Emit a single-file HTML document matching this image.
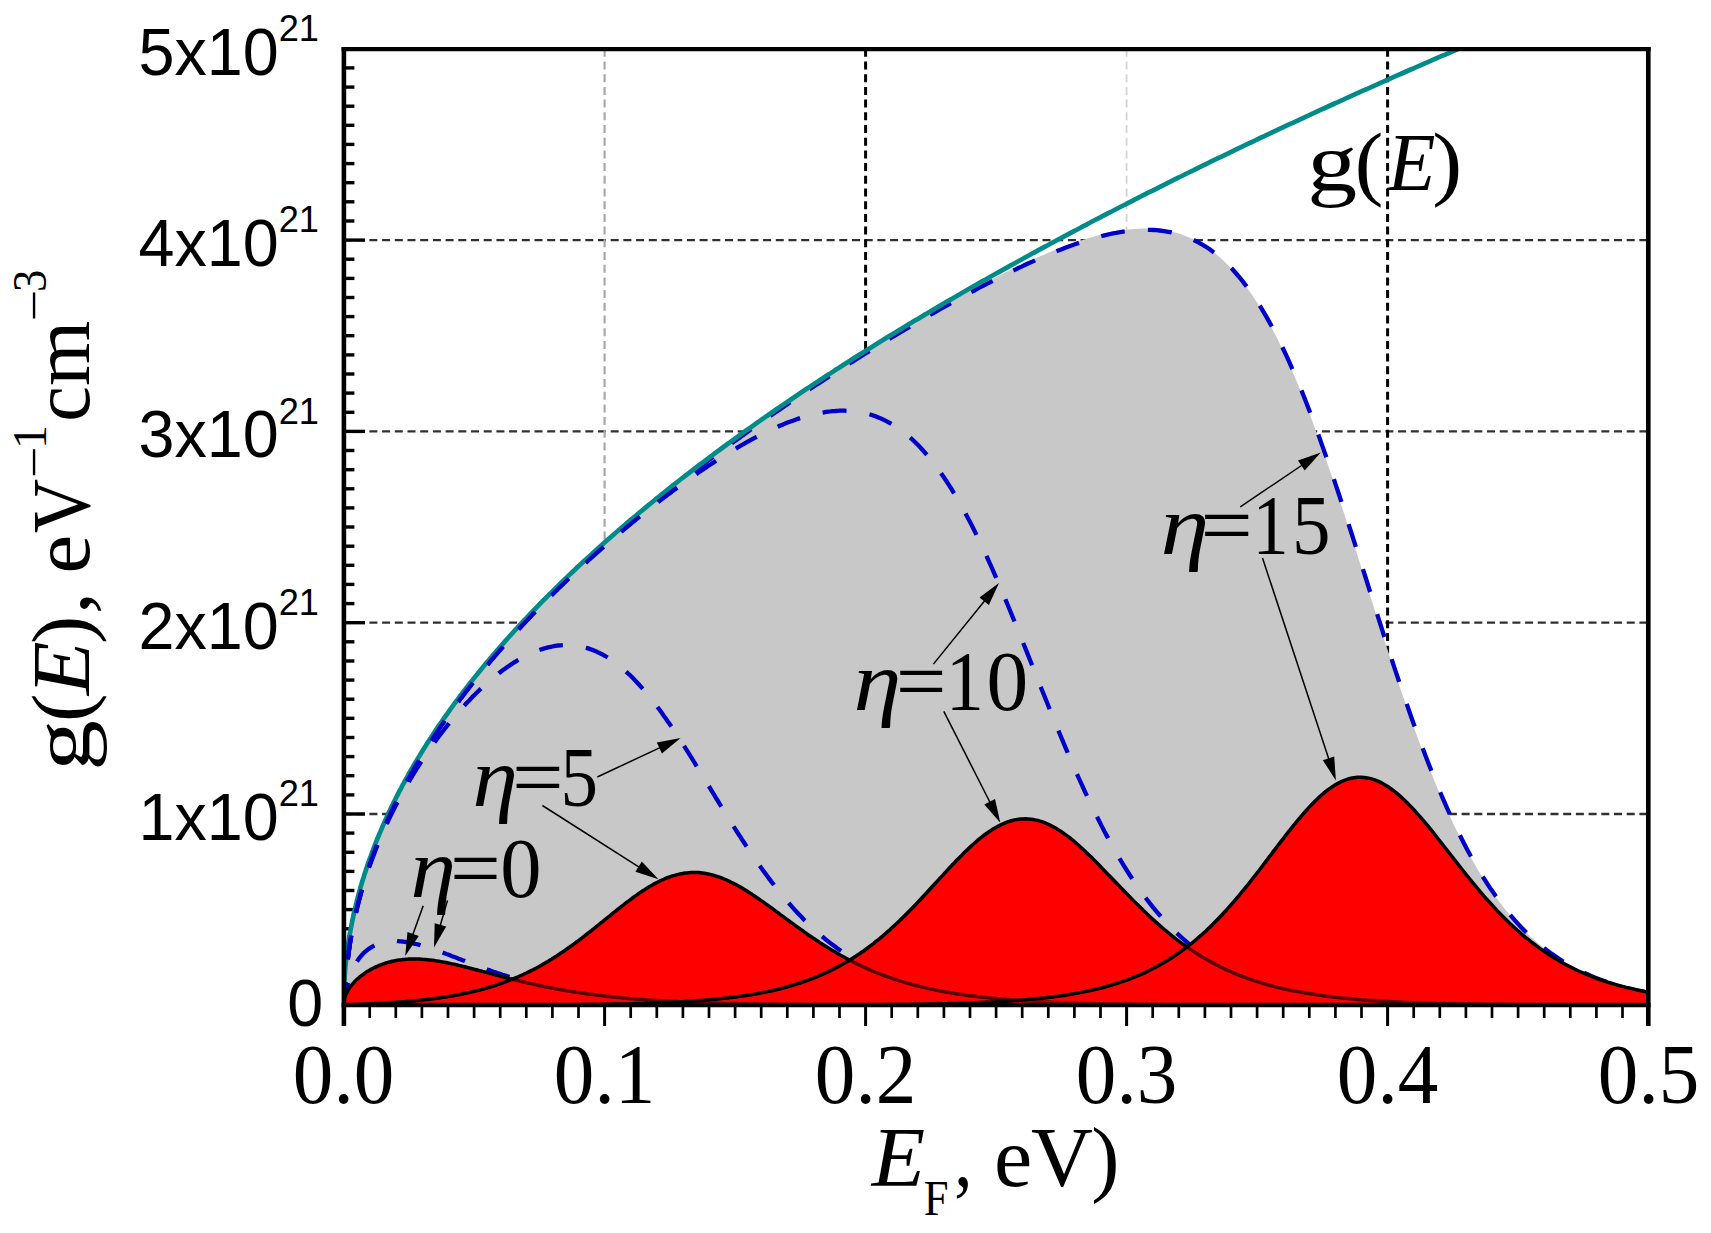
<!DOCTYPE html>
<html lang="en"><head><meta charset="utf-8"><title>g(E) versus E_F</title>
<style>html,body{margin:0;padding:0;background:#fff}svg{display:block}.sans{font-family:"Liberation Sans",sans-serif}.serif{font-family:"Liberation Serif",serif}.it{font-style:italic}</style></head><body>
<svg width="1711" height="1233" viewBox="0 0 1711 1233">
<rect width="1711" height="1233" fill="#fff"/>
<defs><clipPath id="pa"><rect x="344.0" y="48.8" width="1304.5" height="956.5"/></clipPath></defs>
<g fill="none" stroke-dasharray="8 4.7">
<line x1="344.0" y1="814.0" x2="1648.5" y2="814.0" stroke="#303030" stroke-width="2.3"/>
<line x1="344.0" y1="622.7" x2="1648.5" y2="622.7" stroke="#303030" stroke-width="2.3"/>
<line x1="344.0" y1="431.4" x2="1648.5" y2="431.4" stroke="#303030" stroke-width="2.3"/>
<line x1="344.0" y1="240.1" x2="1648.5" y2="240.1" stroke="#303030" stroke-width="2.3"/>
<line x1="604.6" y1="48.8" x2="604.6" y2="1005.3" stroke="#a8a8a8" stroke-width="2.2"/>
<line x1="865.6" y1="48.8" x2="865.6" y2="1005.3" stroke="#000" stroke-width="3.0"/>
<line x1="1126.6" y1="48.8" x2="1126.6" y2="1005.3" stroke="#d4d4d4" stroke-width="1.8"/>
<line x1="1387.6" y1="48.8" x2="1387.6" y2="1005.3" stroke="#000" stroke-width="3.0"/>
</g>
<g stroke="#000" fill="none">
<line x1="344.0" y1="986.2" x2="354.4" y2="986.2" stroke-width="3.4"/>
<line x1="344.0" y1="967.0" x2="354.4" y2="967.0" stroke-width="3.4"/>
<line x1="344.0" y1="947.9" x2="354.4" y2="947.9" stroke-width="3.4"/>
<line x1="344.0" y1="928.8" x2="354.4" y2="928.8" stroke-width="3.4"/>
<line x1="344.0" y1="909.6" x2="354.4" y2="909.6" stroke-width="3.4"/>
<line x1="344.0" y1="890.5" x2="354.4" y2="890.5" stroke-width="3.4"/>
<line x1="344.0" y1="871.4" x2="354.4" y2="871.4" stroke-width="3.4"/>
<line x1="344.0" y1="852.3" x2="354.4" y2="852.3" stroke-width="3.4"/>
<line x1="344.0" y1="833.1" x2="354.4" y2="833.1" stroke-width="3.4"/>
<line x1="344.0" y1="814.0" x2="365.0" y2="814.0" stroke-width="3.4"/>
<line x1="344.0" y1="794.9" x2="354.4" y2="794.9" stroke-width="3.4"/>
<line x1="344.0" y1="775.7" x2="354.4" y2="775.7" stroke-width="3.4"/>
<line x1="344.0" y1="756.6" x2="354.4" y2="756.6" stroke-width="3.4"/>
<line x1="344.0" y1="737.5" x2="354.4" y2="737.5" stroke-width="3.4"/>
<line x1="344.0" y1="718.3" x2="354.4" y2="718.3" stroke-width="3.4"/>
<line x1="344.0" y1="699.2" x2="354.4" y2="699.2" stroke-width="3.4"/>
<line x1="344.0" y1="680.1" x2="354.4" y2="680.1" stroke-width="3.4"/>
<line x1="344.0" y1="661.0" x2="354.4" y2="661.0" stroke-width="3.4"/>
<line x1="344.0" y1="641.8" x2="354.4" y2="641.8" stroke-width="3.4"/>
<line x1="344.0" y1="622.7" x2="365.0" y2="622.7" stroke-width="3.4"/>
<line x1="344.0" y1="603.6" x2="354.4" y2="603.6" stroke-width="3.4"/>
<line x1="344.0" y1="584.4" x2="354.4" y2="584.4" stroke-width="3.4"/>
<line x1="344.0" y1="565.3" x2="354.4" y2="565.3" stroke-width="3.4"/>
<line x1="344.0" y1="546.2" x2="354.4" y2="546.2" stroke-width="3.4"/>
<line x1="344.0" y1="527.0" x2="354.4" y2="527.0" stroke-width="3.4"/>
<line x1="344.0" y1="507.9" x2="354.4" y2="507.9" stroke-width="3.4"/>
<line x1="344.0" y1="488.8" x2="354.4" y2="488.8" stroke-width="3.4"/>
<line x1="344.0" y1="469.7" x2="354.4" y2="469.7" stroke-width="3.4"/>
<line x1="344.0" y1="450.5" x2="354.4" y2="450.5" stroke-width="3.4"/>
<line x1="344.0" y1="431.4" x2="365.0" y2="431.4" stroke-width="3.4"/>
<line x1="344.0" y1="412.3" x2="354.4" y2="412.3" stroke-width="3.4"/>
<line x1="344.0" y1="393.1" x2="354.4" y2="393.1" stroke-width="3.4"/>
<line x1="344.0" y1="374.0" x2="354.4" y2="374.0" stroke-width="3.4"/>
<line x1="344.0" y1="354.9" x2="354.4" y2="354.9" stroke-width="3.4"/>
<line x1="344.0" y1="335.7" x2="354.4" y2="335.7" stroke-width="3.4"/>
<line x1="344.0" y1="316.6" x2="354.4" y2="316.6" stroke-width="3.4"/>
<line x1="344.0" y1="297.5" x2="354.4" y2="297.5" stroke-width="3.4"/>
<line x1="344.0" y1="278.4" x2="354.4" y2="278.4" stroke-width="3.4"/>
<line x1="344.0" y1="259.2" x2="354.4" y2="259.2" stroke-width="3.4"/>
<line x1="344.0" y1="240.1" x2="365.0" y2="240.1" stroke-width="3.4"/>
<line x1="344.0" y1="221.0" x2="354.4" y2="221.0" stroke-width="3.4"/>
<line x1="344.0" y1="201.8" x2="354.4" y2="201.8" stroke-width="3.4"/>
<line x1="344.0" y1="182.7" x2="354.4" y2="182.7" stroke-width="3.4"/>
<line x1="344.0" y1="163.6" x2="354.4" y2="163.6" stroke-width="3.4"/>
<line x1="344.0" y1="144.4" x2="354.4" y2="144.4" stroke-width="3.4"/>
<line x1="344.0" y1="125.3" x2="354.4" y2="125.3" stroke-width="3.4"/>
<line x1="344.0" y1="106.2" x2="354.4" y2="106.2" stroke-width="3.4"/>
<line x1="344.0" y1="87.1" x2="354.4" y2="87.1" stroke-width="3.4"/>
<line x1="344.0" y1="67.9" x2="354.4" y2="67.9" stroke-width="3.4"/>
</g>
<g clip-path="url(#pa)">
<path d="M343.6 1005.3 L343.6 1003.8 L343.6 1002.3 L343.6 1000.9 L343.6 999.4 L343.7 997.9 L343.7 996.4 L343.7 995.0 L343.8 993.5 L343.8 992.0 L343.9 990.5 L343.9 989.0 L344.0 987.6 L344.1 986.1 L344.1 984.6 L344.2 983.1 L344.3 981.6 L344.4 980.2 L344.5 978.7 L344.6 977.2 L344.7 975.7 L344.8 974.3 L344.9 972.8 L345.0 971.3 L345.1 969.8 L345.3 968.3 L345.4 966.9 L345.5 965.4 L345.7 963.9 L345.8 962.4 L346.0 961.0 L346.2 959.5 L346.3 958.0 L346.5 956.5 L346.7 955.0 L346.9 953.6 L347.1 952.1 L347.2 950.6 L347.4 949.1 L347.7 947.6 L347.9 946.2 L348.1 944.7 L348.3 943.2 L348.5 941.7 L348.8 940.3 L349.0 938.8 L349.2 937.3 L349.5 935.8 L349.7 934.3 L350.0 932.9 L350.3 931.4 L350.5 929.9 L350.8 928.4 L351.1 926.9 L351.4 925.5 L351.7 924.0 L352.0 922.5 L352.3 921.0 L352.6 919.6 L352.9 918.1 L353.2 916.6 L353.5 915.1 L353.8 913.6 L354.2 912.2 L354.5 910.7 L354.9 909.2 L355.2 907.7 L355.6 906.3 L355.9 904.8 L356.3 903.3 L356.7 901.8 L357.0 900.3 L357.4 898.9 L357.8 897.4 L358.2 895.9 L358.6 894.4 L359.0 892.9 L359.4 891.5 L359.8 890.0 L360.2 888.5 L360.6 887.0 L361.1 885.6 L361.5 884.1 L361.9 882.6 L362.4 881.1 L362.8 879.6 L363.3 878.2 L363.8 876.7 L364.2 875.2 L364.7 873.7 L365.2 872.3 L365.7 870.8 L366.1 869.3 L366.6 867.8 L367.1 866.3 L367.6 864.9 L368.1 863.4 L368.7 861.9 L369.2 860.4 L369.7 858.9 L370.2 857.5 L370.8 856.0 L371.3 854.5 L371.9 853.0 L372.4 851.6 L373.0 850.1 L373.5 848.6 L374.1 847.1 L374.7 845.6 L375.2 844.2 L375.8 842.7 L376.4 841.2 L377.0 839.7 L377.6 838.3 L378.2 836.8 L378.8 835.3 L379.4 833.8 L380.1 832.3 L380.7 830.9 L381.3 829.4 L382.0 827.9 L382.6 826.4 L383.2 824.9 L383.9 823.5 L384.6 822.0 L385.2 820.5 L385.9 819.0 L386.6 817.6 L387.2 816.1 L387.9 814.6 L388.6 813.1 L389.3 811.6 L390.0 810.2 L390.7 808.7 L391.4 807.2 L392.1 805.7 L392.9 804.3 L393.6 802.8 L394.3 801.3 L395.1 799.8 L395.8 798.3 L396.5 796.9 L397.3 795.4 L398.1 793.9 L398.8 792.4 L399.6 790.9 L400.4 789.5 L401.2 788.0 L401.9 786.5 L402.7 785.0 L403.5 783.6 L404.3 782.1 L405.1 780.6 L405.9 779.1 L406.8 777.6 L407.6 776.2 L408.4 774.7 L409.2 773.2 L410.1 771.7 L410.9 770.3 L411.8 768.8 L412.6 767.3 L413.5 765.8 L414.4 764.3 L415.2 762.9 L416.1 761.4 L417.0 759.9 L417.9 758.4 L418.8 756.9 L419.7 755.5 L420.6 754.0 L421.5 752.5 L422.4 751.0 L423.3 749.6 L424.2 748.1 L425.2 746.6 L426.1 745.1 L427.0 743.6 L428.0 742.2 L428.9 740.7 L429.9 739.2 L430.9 737.7 L431.8 736.2 L432.8 734.8 L433.8 733.3 L434.8 731.8 L435.7 730.3 L436.7 728.9 L437.7 727.4 L438.7 725.9 L439.7 724.4 L440.8 722.9 L441.8 721.5 L442.8 720.0 L443.8 718.5 L444.9 717.0 L445.9 715.6 L447.0 714.1 L448.0 712.6 L449.1 711.1 L450.1 709.6 L451.2 708.2 L452.3 706.7 L453.4 705.2 L454.4 703.7 L455.5 702.2 L456.6 700.8 L457.7 699.3 L458.8 697.8 L459.9 696.3 L461.1 694.9 L462.2 693.4 L463.3 691.9 L464.4 690.4 L465.6 688.9 L466.7 687.5 L467.9 686.0 L469.0 684.5 L470.2 683.0 L471.3 681.6 L472.5 680.1 L473.7 678.6 L474.9 677.1 L476.0 675.6 L477.2 674.2 L478.4 672.7 L479.6 671.2 L480.8 669.7 L482.0 668.2 L483.3 666.8 L484.5 665.3 L485.7 663.8 L486.9 662.3 L488.2 660.9 L489.4 659.4 L490.7 657.9 L491.9 656.4 L493.2 654.9 L494.5 653.5 L495.7 652.0 L497.0 650.5 L498.3 649.0 L499.6 647.6 L500.9 646.1 L502.2 644.6 L503.5 643.1 L504.8 641.6 L506.1 640.2 L507.4 638.7 L508.7 637.2 L510.1 635.7 L511.4 634.2 L512.7 632.8 L514.1 631.3 L515.4 629.8 L516.8 628.3 L518.1 626.9 L519.5 625.4 L520.9 623.9 L522.3 622.4 L523.6 620.9 L525.0 619.5 L526.4 618.0 L527.8 616.5 L529.2 615.0 L530.6 613.6 L532.0 612.1 L533.5 610.6 L534.9 609.1 L536.3 607.6 L537.8 606.2 L539.2 604.7 L540.6 603.2 L542.1 601.7 L543.5 600.2 L545.0 598.8 L546.5 597.3 L547.9 595.8 L549.4 594.3 L550.9 592.9 L552.4 591.4 L553.9 589.9 L555.4 588.4 L556.9 586.9 L558.4 585.5 L559.9 584.0 L561.4 582.5 L563.0 581.0 L564.5 579.6 L566.0 578.1 L567.6 576.6 L569.1 575.1 L570.7 573.6 L572.2 572.2 L573.8 570.7 L575.4 569.2 L576.9 567.7 L578.5 566.2 L580.1 564.8 L581.7 563.3 L583.3 561.8 L584.9 560.3 L586.5 558.9 L588.1 557.4 L589.7 555.9 L591.4 554.4 L593.0 552.9 L594.6 551.5 L596.2 550.0 L597.9 548.5 L599.5 547.0 L601.2 545.6 L602.9 544.1 L604.5 542.6 L606.2 541.1 L607.9 539.6 L609.5 538.2 L611.2 536.7 L612.9 535.2 L614.6 533.7 L616.3 532.3 L618.0 530.8 L619.7 529.3 L621.5 527.8 L623.2 526.3 L624.9 524.9 L626.6 523.4 L628.4 521.9 L630.1 520.4 L631.9 518.9 L633.6 517.5 L635.4 516.0 L637.2 514.5 L638.9 513.0 L640.7 511.6 L642.5 510.1 L644.3 508.6 L646.1 507.1 L647.9 505.6 L649.7 504.2 L651.5 502.7 L653.3 501.2 L655.1 499.7 L656.9 498.3 L658.8 496.8 L660.6 495.3 L662.4 493.8 L664.3 492.3 L666.1 490.9 L668.0 489.4 L669.9 487.9 L671.7 486.4 L673.6 485.0 L675.5 483.5 L677.3 482.0 L679.2 480.5 L681.1 479.0 L683.0 477.6 L684.9 476.1 L686.8 474.6 L688.8 473.1 L690.7 471.7 L692.6 470.2 L694.5 468.7 L696.5 467.2 L698.4 465.8 L700.4 464.3 L702.3 462.8 L704.3 461.3 L706.2 459.8 L708.2 458.4 L710.2 456.9 L712.2 455.4 L714.1 453.9 L716.1 452.5 L718.1 451.0 L720.1 449.5 L722.1 448.0 L724.1 446.5 L726.2 445.1 L728.2 443.6 L730.2 442.1 L732.2 440.6 L734.3 439.2 L736.3 437.7 L738.4 436.2 L740.4 434.7 L742.5 433.3 L744.5 431.8 L746.6 430.3 L748.7 428.8 L750.8 427.4 L752.8 425.9 L754.9 424.4 L757.0 422.9 L759.1 421.5 L761.2 420.0 L763.4 418.5 L765.5 417.0 L767.6 415.6 L769.7 414.1 L771.9 412.6 L774.0 411.1 L776.1 409.7 L778.3 408.2 L780.4 406.7 L782.6 405.2 L784.8 403.8 L786.9 402.3 L789.1 400.8 L791.3 399.3 L793.5 397.9 L795.7 396.4 L797.9 394.9 L800.1 393.4 L802.3 392.0 L804.5 390.5 L806.7 389.0 L808.9 387.6 L811.2 386.1 L813.4 384.6 L815.6 383.1 L817.9 381.7 L820.1 380.2 L822.4 378.7 L824.7 377.3 L826.9 375.8 L829.2 374.3 L831.5 372.9 L833.8 371.4 L836.0 369.9 L838.3 368.4 L840.6 367.0 L842.9 365.5 L845.2 364.0 L847.6 362.6 L849.9 361.1 L852.2 359.7 L854.5 358.2 L856.9 356.7 L859.2 355.3 L861.6 353.8 L863.9 352.3 L866.3 350.9 L868.6 349.4 L871.0 348.0 L873.4 346.5 L875.7 345.0 L878.1 343.6 L880.5 342.1 L882.9 340.7 L885.3 339.2 L887.7 337.8 L890.1 336.3 L892.5 334.9 L895.0 333.4 L897.4 332.0 L899.8 330.5 L902.3 329.1 L904.7 327.6 L907.1 326.2 L909.6 324.7 L912.1 323.3 L914.5 321.8 L917.0 320.4 L919.5 319.0 L921.9 317.5 L924.4 316.1 L926.9 314.7 L929.4 313.2 L931.9 311.8 L934.4 310.4 L936.9 308.9 L939.4 307.5 L942.0 306.1 L944.5 304.7 L947.0 303.3 L949.6 301.9 L952.1 300.5 L954.7 299.0 L957.2 297.6 L959.8 296.2 L962.3 294.8 L964.9 293.5 L967.5 292.1 L970.1 290.7 L972.7 289.3 L975.2 287.9 L977.8 286.5 L980.4 285.2 L983.0 283.8 L985.7 282.5 L988.3 281.1 L990.9 279.8 L993.5 278.4 L996.2 277.1 L998.8 275.7 L1001.5 274.4 L1004.1 273.1 L1006.8 271.8 L1009.4 270.5 L1012.1 269.2 L1014.8 267.9 L1017.4 266.6 L1020.1 265.4 L1022.8 264.1 L1025.5 262.8 L1028.2 261.6 L1030.9 260.4 L1033.6 259.2 L1036.3 257.9 L1039.0 256.7 L1041.8 255.6 L1044.5 254.4 L1047.2 253.2 L1050.0 252.1 L1052.7 251.0 L1055.5 249.8 L1058.2 248.8 L1061.0 247.7 L1063.7 246.6 L1066.5 245.6 L1069.3 244.5 L1072.1 243.5 L1074.9 242.6 L1077.7 241.6 L1080.5 240.7 L1083.3 239.7 L1086.1 238.9 L1088.9 238.0 L1091.7 237.2 L1094.5 236.4 L1097.4 235.6 L1100.2 234.8 L1103.0 234.1 L1105.9 233.5 L1108.7 232.8 L1111.6 232.2 L1114.5 231.7 L1117.3 231.1 L1120.2 230.7 L1123.1 230.2 L1126.0 229.8 L1128.9 229.5 L1131.8 229.2 L1134.7 229.0 L1137.6 228.8 L1140.5 228.7 L1143.4 228.6 L1146.3 228.6 L1149.2 228.7 L1152.2 228.8 L1155.1 229.0 L1158.1 229.3 L1161.0 229.7 L1164.0 230.1 L1166.9 230.6 L1169.9 231.2 L1172.8 231.9 L1175.8 232.7 L1178.8 233.6 L1181.8 234.6 L1184.8 235.7 L1187.8 236.9 L1190.8 238.2 L1193.8 239.6 L1196.8 241.2 L1199.8 242.8 L1202.8 244.6 L1205.9 246.6 L1208.9 248.6 L1211.9 250.9 L1215.0 253.2 L1218.0 255.7 L1221.1 258.4 L1224.1 261.3 L1227.2 264.3 L1230.3 267.4 L1233.4 270.8 L1236.4 274.3 L1239.5 278.0 L1242.6 281.9 L1245.7 286.0 L1248.8 290.3 L1251.9 294.7 L1255.0 299.4 L1258.2 304.3 L1261.3 309.4 L1264.4 314.7 L1267.5 320.2 L1270.7 326.0 L1273.8 331.9 L1277.0 338.1 L1280.1 344.5 L1283.3 351.1 L1286.5 357.9 L1289.6 365.0 L1292.8 372.3 L1296.0 379.7 L1299.2 387.4 L1302.4 395.3 L1305.6 403.5 L1308.8 411.8 L1312.0 420.3 L1315.2 429.0 L1318.4 437.8 L1321.6 446.9 L1324.9 456.1 L1328.1 465.5 L1331.4 475.0 L1334.6 484.7 L1337.9 494.5 L1341.1 504.5 L1344.4 514.5 L1347.6 524.6 L1350.9 534.8 L1354.2 545.1 L1357.5 555.5 L1360.8 565.9 L1364.1 576.3 L1367.4 586.8 L1370.7 597.2 L1374.0 607.7 L1377.3 618.1 L1380.6 628.5 L1383.9 638.9 L1387.3 649.1 L1390.6 659.4 L1393.9 669.5 L1397.3 679.5 L1400.7 689.5 L1404.0 699.3 L1407.4 709.0 L1410.7 718.6 L1414.1 728.0 L1417.5 737.2 L1420.9 746.3 L1424.3 755.3 L1427.7 764.0 L1431.1 772.6 L1434.5 781.0 L1437.9 789.2 L1441.3 797.2 L1444.7 805.0 L1448.2 812.6 L1451.6 820.0 L1455.0 827.2 L1458.5 834.3 L1461.9 841.1 L1465.4 847.7 L1468.8 854.1 L1472.3 860.3 L1475.8 866.3 L1479.2 872.1 L1482.7 877.7 L1486.2 883.1 L1489.7 888.4 L1493.2 893.4 L1496.7 898.3 L1500.2 903.0 L1503.7 907.5 L1507.2 911.9 L1510.8 916.1 L1514.3 920.1 L1517.8 924.0 L1521.4 927.7 L1524.9 931.2 L1528.5 934.7 L1532.0 937.9 L1535.6 941.1 L1539.1 944.1 L1542.7 947.0 L1546.3 949.7 L1549.9 952.4 L1553.5 954.9 L1557.1 957.3 L1560.6 959.6 L1564.3 961.8 L1567.9 963.9 L1571.5 966.0 L1575.1 967.9 L1578.7 969.7 L1582.3 971.5 L1586.0 973.1 L1589.6 974.7 L1593.3 976.3 L1596.9 977.7 L1600.6 979.1 L1604.2 980.4 L1607.9 981.6 L1611.6 982.8 L1615.3 984.0 L1618.9 985.1 L1622.6 986.1 L1626.3 987.1 L1630.0 988.0 L1633.7 988.9 L1637.4 989.7 L1641.2 990.5 L1644.9 991.3 L1648.6 992.0 L1648.6 1005.3 L343.6 1005.3 Z" fill="#c8c8c8"/>
<path d="M343.6 1005.3 L343.6 1003.8 L343.6 1002.3 L343.6 1000.9 L343.6 999.4 L343.7 997.9 L343.7 996.4 L343.7 995.0 L343.8 993.5 L343.8 992.0 L343.9 990.5 L343.9 989.0 L344.0 987.6 L344.1 986.1 L344.1 984.6 L344.2 983.1 L344.3 981.6 L344.4 980.2 L344.5 978.7 L344.6 977.2 L344.7 975.7 L344.8 974.3 L344.9 972.8 L345.0 971.3 L345.1 969.8 L345.3 968.3 L345.4 966.9 L345.5 965.4 L345.7 963.9 L345.8 962.4 L346.0 961.0 L346.2 959.5 L346.3 958.0 L346.5 956.5 L346.7 955.0 L346.9 953.6 L347.1 952.1 L347.2 950.6 L347.4 949.1 L347.7 947.6 L347.9 946.2 L348.1 944.7 L348.3 943.2 L348.5 941.7 L348.8 940.3 L349.0 938.8 L349.2 937.3 L349.5 935.8 L349.7 934.3 L350.0 932.9 L350.3 931.4 L350.5 929.9 L350.8 928.4 L351.1 926.9 L351.4 925.5 L351.7 924.0 L352.0 922.5 L352.3 921.0 L352.6 919.6 L352.9 918.1 L353.2 916.6 L353.5 915.1 L353.8 913.6 L354.2 912.2 L354.5 910.7 L354.9 909.2 L355.2 907.7 L355.6 906.3 L355.9 904.8 L356.3 903.3 L356.7 901.8 L357.0 900.3 L357.4 898.9 L357.8 897.4 L358.2 895.9 L358.6 894.4 L359.0 892.9 L359.4 891.5 L359.8 890.0 L360.2 888.5 L360.6 887.0 L361.1 885.6 L361.5 884.1 L361.9 882.6 L362.4 881.1 L362.8 879.6 L363.3 878.2 L363.8 876.7 L364.2 875.2 L364.7 873.7 L365.2 872.3 L365.7 870.8 L366.1 869.3 L366.6 867.8 L367.1 866.3 L367.6 864.9 L368.1 863.4 L368.7 861.9 L369.2 860.4 L369.7 858.9 L370.2 857.5 L370.8 856.0 L371.3 854.5 L371.9 853.0 L372.4 851.6 L373.0 850.1 L373.5 848.6 L374.1 847.1 L374.7 845.6 L375.2 844.2 L375.8 842.7 L376.4 841.2 L377.0 839.7 L377.6 838.3 L378.2 836.8 L378.8 835.3 L379.4 833.8 L380.1 832.3 L380.7 830.9 L381.3 829.4 L382.0 827.9 L382.6 826.4 L383.2 824.9 L383.9 823.5 L384.6 822.0 L385.2 820.5 L385.9 819.0 L386.6 817.6 L387.2 816.1 L387.9 814.6 L388.6 813.1 L389.3 811.6 L390.0 810.2 L390.7 808.7 L391.4 807.2 L392.1 805.7 L392.9 804.3 L393.6 802.8 L394.3 801.3 L395.1 799.8 L395.8 798.3 L396.5 796.9 L397.3 795.4 L398.1 793.9 L398.8 792.4 L399.6 790.9 L400.4 789.5 L401.2 788.0 L401.9 786.5 L402.7 785.0 L403.5 783.6 L404.3 782.1 L405.1 780.6 L405.9 779.1 L406.8 777.6 L407.6 776.2 L408.4 774.7 L409.2 773.2 L410.1 771.7 L410.9 770.3 L411.8 768.8 L412.6 767.3 L413.5 765.8 L414.4 764.3 L415.2 762.9 L416.1 761.4 L417.0 759.9 L417.9 758.4 L418.8 756.9 L419.7 755.5 L420.6 754.0 L421.5 752.5 L422.4 751.0 L423.3 749.6 L424.2 748.1 L425.2 746.6 L426.1 745.1 L427.0 743.6 L428.0 742.2 L428.9 740.7 L429.9 739.2 L430.9 737.7 L431.8 736.2 L432.8 734.8 L433.8 733.3 L434.8 731.8 L435.7 730.3 L436.7 728.9 L437.7 727.4 L438.7 725.9 L439.7 724.4 L440.8 722.9 L441.8 721.5 L442.8 720.0 L443.8 718.5 L444.9 717.0 L445.9 715.6 L447.0 714.1 L448.0 712.6 L449.1 711.1 L450.1 709.6 L451.2 708.2 L452.3 706.7 L453.4 705.2 L454.4 703.7 L455.5 702.2 L456.6 700.8 L457.7 699.3 L458.8 697.8 L459.9 696.3 L461.1 694.9 L462.2 693.4 L463.3 691.9 L464.4 690.4 L465.6 688.9 L466.7 687.5 L467.9 686.0 L469.0 684.5 L470.2 683.0 L471.3 681.6 L472.5 680.1 L473.7 678.6 L474.9 677.1 L476.0 675.6 L477.2 674.2 L478.4 672.7 L479.6 671.2 L480.8 669.7 L482.0 668.2 L483.3 666.8 L484.5 665.3 L485.7 663.8 L486.9 662.3 L488.2 660.9 L489.4 659.4 L490.7 657.9 L491.9 656.4 L493.2 654.9 L494.5 653.5 L495.7 652.0 L497.0 650.5 L498.3 649.0 L499.6 647.6 L500.9 646.1 L502.2 644.6 L503.5 643.1 L504.8 641.6 L506.1 640.2 L507.4 638.7 L508.7 637.2 L510.1 635.7 L511.4 634.2 L512.7 632.8 L514.1 631.3 L515.4 629.8 L516.8 628.3 L518.1 626.9 L519.5 625.4 L520.9 623.9 L522.3 622.4 L523.6 620.9 L525.0 619.5 L526.4 618.0 L527.8 616.5 L529.2 615.0 L530.6 613.6 L532.0 612.1 L533.5 610.6 L534.9 609.1 L536.3 607.6 L537.8 606.2 L539.2 604.7 L540.6 603.2 L542.1 601.7 L543.5 600.2 L545.0 598.8 L546.5 597.3 L547.9 595.8 L549.4 594.3 L550.9 592.9 L552.4 591.4 L553.9 589.9 L555.4 588.4 L556.9 586.9 L558.4 585.5 L559.9 584.0 L561.4 582.5 L563.0 581.0 L564.5 579.6 L566.0 578.1 L567.6 576.6 L569.1 575.1 L570.7 573.6 L572.2 572.2 L573.8 570.7 L575.4 569.2 L576.9 567.7 L578.5 566.2 L580.1 564.8 L581.7 563.3 L583.3 561.8 L584.9 560.3 L586.5 558.9 L588.1 557.4 L589.7 555.9 L591.4 554.4 L593.0 552.9 L594.6 551.5 L596.2 550.0 L597.9 548.5 L599.5 547.0 L601.2 545.6 L602.9 544.1 L604.5 542.6 L606.2 541.1 L607.9 539.6 L609.5 538.2 L611.2 536.7 L612.9 535.2 L614.6 533.7 L616.3 532.3 L618.0 530.8 L619.7 529.3 L621.5 527.8 L623.2 526.3 L624.9 524.9 L626.6 523.4 L628.4 521.9 L630.1 520.4 L631.9 518.9 L633.6 517.5 L635.4 516.0 L637.2 514.5 L638.9 513.0 L640.7 511.6 L642.5 510.1 L644.3 508.6 L646.1 507.1 L647.9 505.6 L649.7 504.2 L651.5 502.7 L653.3 501.2 L655.1 499.7 L656.9 498.3 L658.8 496.8 L660.6 495.3 L662.4 493.8 L664.3 492.3 L666.1 490.9 L668.0 489.4 L669.9 487.9 L671.7 486.4 L673.6 485.0 L675.5 483.5 L677.3 482.0 L679.2 480.5 L681.1 479.0 L683.0 477.6 L684.9 476.1 L686.8 474.6 L688.8 473.1 L690.7 471.7 L692.6 470.2 L694.5 468.7 L696.5 467.2 L698.4 465.8 L700.4 464.3 L702.3 462.8 L704.3 461.3 L706.2 459.8 L708.2 458.4 L710.2 456.9 L712.2 455.4 L714.1 453.9 L716.1 452.5 L718.1 451.0 L720.1 449.5 L722.1 448.0 L724.1 446.5 L726.2 445.1 L728.2 443.6 L730.2 442.1 L732.2 440.6 L734.3 439.2 L736.3 437.7 L738.4 436.2 L740.4 434.7 L742.5 433.3 L744.5 431.8 L746.6 430.3 L748.7 428.8 L750.8 427.4 L752.8 425.9 L754.9 424.4 L757.0 422.9 L759.1 421.5 L761.2 420.0 L763.4 418.5 L765.5 417.0 L767.6 415.6 L769.7 414.1 L771.9 412.6 L774.0 411.1 L776.1 409.7 L778.3 408.2 L780.4 406.7 L782.6 405.2 L784.8 403.8 L786.9 402.3 L789.1 400.8 L791.3 399.3 L793.5 397.9 L795.7 396.4 L797.9 394.9 L800.1 393.4 L802.3 392.0 L804.5 390.5 L806.7 389.0 L808.9 387.6 L811.2 386.1 L813.4 384.6 L815.6 383.1 L817.9 381.7 L820.1 380.2 L822.4 378.7 L824.7 377.3 L826.9 375.8 L829.2 374.3 L831.5 372.9 L833.8 371.4 L836.0 369.9 L838.3 368.4 L840.6 367.0 L842.9 365.5 L845.2 364.0 L847.6 362.6 L849.9 361.1 L852.2 359.7 L854.5 358.2 L856.9 356.7 L859.2 355.3 L861.6 353.8 L863.9 352.3 L866.3 350.9 L868.6 349.4 L871.0 348.0 L873.4 346.5 L875.7 345.0 L878.1 343.6 L880.5 342.1 L882.9 340.7 L885.3 339.2 L887.7 337.8 L890.1 336.3 L892.5 334.9 L895.0 333.4 L897.4 332.0 L899.8 330.5 L902.3 329.1 L904.7 327.6 L907.1 326.2 L909.6 324.7 L912.1 323.3 L914.5 321.8 L917.0 320.4 L919.5 319.0 L921.9 317.5 L924.4 316.1 L926.9 314.7 L929.4 313.2 L931.9 311.8 L934.4 310.4 L936.9 308.9 L939.4 307.5 L942.0 306.1 L944.5 304.7 L947.0 303.3 L949.6 301.9 L952.1 300.5 L954.7 299.0 L957.2 297.6 L959.8 296.2 L962.3 294.8 L964.9 293.5 L967.5 292.1 L970.1 290.7 L972.7 289.3 L975.2 287.9 L977.8 286.5 L980.4 285.2 L983.0 283.8 L985.7 282.5 L988.3 281.1 L990.9 279.8 L993.5 278.4 L996.2 277.1 L998.8 275.7 L1001.5 274.4 L1004.1 273.1 L1006.8 271.8 L1009.4 270.5 L1012.1 269.2 L1014.8 267.9 L1017.4 266.6 L1020.1 265.4 L1022.8 264.1 L1025.5 262.8 L1028.2 261.6 L1030.9 260.4 L1033.6 259.2 L1036.3 257.9 L1039.0 256.7 L1041.8 255.6 L1044.5 254.4 L1047.2 253.2 L1050.0 252.1 L1052.7 251.0 L1055.5 249.8 L1058.2 248.8 L1061.0 247.7 L1063.7 246.6 L1066.5 245.6 L1069.3 244.5 L1072.1 243.5 L1074.9 242.6 L1077.7 241.6 L1080.5 240.7 L1083.3 239.7 L1086.1 238.9 L1088.9 238.0 L1091.7 237.2 L1094.5 236.4 L1097.4 235.6 L1100.2 234.8 L1103.0 234.1 L1105.9 233.5 L1108.7 232.8 L1111.6 232.2 L1114.5 231.7 L1117.3 231.1 L1120.2 230.7 L1123.1 230.2 L1126.0 229.8 L1128.9 229.5 L1131.8 229.2 L1134.7 229.0 L1137.6 228.8 L1140.5 228.7 L1143.4 228.6 L1146.3 228.6 L1149.2 228.7 L1152.2 228.8 L1155.1 229.0 L1158.1 229.3 L1161.0 229.7 L1164.0 230.1 L1166.9 230.6 L1169.9 231.2 L1172.8 231.9 L1175.8 232.7 L1178.8 233.6 L1181.8 234.6 L1184.8 235.7 L1187.8 236.9 L1190.8 238.2 L1193.8 239.6 L1196.8 241.2 L1199.8 242.8 L1202.8 244.6 L1205.9 246.6 L1208.9 248.6 L1211.9 250.9 L1215.0 253.2 L1218.0 255.7 L1221.1 258.4 L1224.1 261.3 L1227.2 264.3 L1230.3 267.4 L1233.4 270.8 L1236.4 274.3 L1239.5 278.0 L1242.6 281.9 L1245.7 286.0 L1248.8 290.3 L1251.9 294.7 L1255.0 299.4 L1258.2 304.3 L1261.3 309.4 L1264.4 314.7 L1267.5 320.2 L1270.7 326.0 L1273.8 331.9 L1277.0 338.1 L1280.1 344.5 L1283.3 351.1 L1286.5 357.9 L1289.6 365.0 L1292.8 372.3 L1296.0 379.7 L1299.2 387.4 L1302.4 395.3 L1305.6 403.5 L1308.8 411.8 L1312.0 420.3 L1315.2 429.0 L1318.4 437.8 L1321.6 446.9 L1324.9 456.1 L1328.1 465.5 L1331.4 475.0 L1334.6 484.7 L1337.9 494.5 L1341.1 504.5 L1344.4 514.5 L1347.6 524.6 L1350.9 534.8 L1354.2 545.1 L1357.5 555.5 L1360.8 565.9 L1364.1 576.3 L1367.4 586.8 L1370.7 597.2 L1374.0 607.7 L1377.3 618.1 L1380.6 628.5 L1383.9 638.9 L1387.3 649.1 L1390.6 659.4 L1393.9 669.5 L1397.3 679.5 L1400.7 689.5 L1404.0 699.3 L1407.4 709.0 L1410.7 718.6 L1414.1 728.0 L1417.5 737.2 L1420.9 746.3 L1424.3 755.3 L1427.7 764.0 L1431.1 772.6 L1434.5 781.0 L1437.9 789.2 L1441.3 797.2 L1444.7 805.0 L1448.2 812.6 L1451.6 820.0 L1455.0 827.2 L1458.5 834.3 L1461.9 841.1 L1465.4 847.7 L1468.8 854.1 L1472.3 860.3 L1475.8 866.3 L1479.2 872.1 L1482.7 877.7 L1486.2 883.1 L1489.7 888.4 L1493.2 893.4 L1496.7 898.3 L1500.2 903.0 L1503.7 907.5 L1507.2 911.9 L1510.8 916.1 L1514.3 920.1 L1517.8 924.0 L1521.4 927.7 L1524.9 931.2 L1528.5 934.7 L1532.0 937.9 L1535.6 941.1 L1539.1 944.1 L1542.7 947.0 L1546.3 949.7 L1549.9 952.4 L1553.5 954.9 L1557.1 957.3 L1560.6 959.6 L1564.3 961.8 L1567.9 963.9 L1571.5 966.0 L1575.1 967.9 L1578.7 969.7 L1582.3 971.5 L1586.0 973.1 L1589.6 974.7 L1593.3 976.3 L1596.9 977.7 L1600.6 979.1 L1604.2 980.4 L1607.9 981.6 L1611.6 982.8 L1615.3 984.0 L1618.9 985.1 L1622.6 986.1 L1626.3 987.1 L1630.0 988.0 L1633.7 988.9 L1637.4 989.7 L1641.2 990.5 L1644.9 991.3 L1648.6 992.0" transform="translate(1.5 1.2)" fill="none" stroke="#0000c8" stroke-width="4.3" stroke-dasharray="24 23.25"/>
<path d="M343.6 1005.3 L343.6 1003.8 L343.6 1002.3 L343.6 1000.9 L343.6 999.4 L343.7 997.9 L343.7 996.4 L343.7 995.0 L343.8 993.5 L343.8 992.0 L343.9 990.5 L343.9 989.0 L344.0 987.6 L344.1 986.1 L344.1 984.6 L344.2 983.1 L344.3 981.6 L344.4 980.2 L344.5 978.7 L344.6 977.2 L344.7 975.7 L344.8 974.3 L344.9 972.8 L345.0 971.3 L345.1 969.8 L345.3 968.3 L345.4 966.9 L345.5 965.4 L345.7 963.9 L345.8 962.4 L346.0 961.0 L346.2 959.5 L346.3 958.0 L346.5 956.5 L346.7 955.0 L346.9 953.6 L347.1 952.1 L347.2 950.6 L347.4 949.1 L347.7 947.6 L347.9 946.2 L348.1 944.7 L348.3 943.2 L348.5 941.7 L348.8 940.3 L349.0 938.8 L349.2 937.3 L349.5 935.8 L349.7 934.3 L350.0 932.9 L350.3 931.4 L350.5 929.9 L350.8 928.4 L351.1 926.9 L351.4 925.5 L351.7 924.0 L352.0 922.5 L352.3 921.0 L352.6 919.6 L352.9 918.1 L353.2 916.6 L353.5 915.1 L353.8 913.6 L354.2 912.2 L354.5 910.7 L354.9 909.2 L355.2 907.7 L355.6 906.3 L355.9 904.8 L356.3 903.3 L356.7 901.8 L357.0 900.3 L357.4 898.9 L357.8 897.4 L358.2 895.9 L358.6 894.4 L359.0 892.9 L359.4 891.5 L359.8 890.0 L360.2 888.5 L360.6 887.0 L361.1 885.6 L361.5 884.1 L361.9 882.6 L362.4 881.1 L362.8 879.6 L363.3 878.2 L363.8 876.7 L364.2 875.2 L364.7 873.7 L365.2 872.3 L365.7 870.8 L366.1 869.3 L366.6 867.8 L367.1 866.3 L367.6 864.9 L368.1 863.4 L368.7 861.9 L369.2 860.4 L369.7 858.9 L370.2 857.5 L370.8 856.0 L371.3 854.5 L371.9 853.0 L372.4 851.6 L373.0 850.1 L373.5 848.6 L374.1 847.1 L374.7 845.6 L375.2 844.2 L375.8 842.7 L376.4 841.2 L377.0 839.7 L377.6 838.3 L378.2 836.8 L378.8 835.3 L379.4 833.8 L380.1 832.3 L380.7 830.9 L381.3 829.4 L382.0 827.9 L382.6 826.4 L383.2 824.9 L383.9 823.5 L384.6 822.0 L385.2 820.5 L385.9 819.0 L386.6 817.6 L387.2 816.1 L387.9 814.6 L388.6 813.1 L389.3 811.6 L390.0 810.2 L390.7 808.7 L391.4 807.2 L392.1 805.7 L392.9 804.3 L393.6 802.8 L394.3 801.3 L395.1 799.8 L395.8 798.3 L396.5 796.9 L397.3 795.4 L398.1 793.9 L398.8 792.4 L399.6 790.9 L400.4 789.5 L401.2 788.0 L401.9 786.5 L402.7 785.0 L403.5 783.6 L404.3 782.1 L405.1 780.6 L405.9 779.1 L406.8 777.6 L407.6 776.2 L408.4 774.7 L409.2 773.2 L410.1 771.7 L410.9 770.2 L411.8 768.8 L412.6 767.3 L413.5 765.8 L414.4 764.3 L415.2 762.9 L416.1 761.4 L417.0 759.9 L417.9 758.4 L418.8 756.9 L419.7 755.5 L420.6 754.0 L421.5 752.5 L422.4 751.0 L423.3 749.6 L424.2 748.1 L425.2 746.6 L426.1 745.1 L427.0 743.6 L428.0 742.2 L428.9 740.7 L429.9 739.2 L430.9 737.7 L431.8 736.2 L432.8 734.8 L433.8 733.3 L434.8 731.8 L435.7 730.3 L436.7 728.9 L437.7 727.4 L438.7 725.9 L439.7 724.4 L440.8 722.9 L441.8 721.5 L442.8 720.0 L443.8 718.5 L444.9 717.0 L445.9 715.6 L447.0 714.1 L448.0 712.6 L449.1 711.1 L450.1 709.6 L451.2 708.2 L452.3 706.7 L453.4 705.2 L454.4 703.7 L455.5 702.2 L456.6 700.8 L457.7 699.3 L458.8 697.8 L459.9 696.3 L461.1 694.9 L462.2 693.4 L463.3 691.9 L464.4 690.4 L465.6 688.9 L466.7 687.5 L467.9 686.0 L469.0 684.5 L470.2 683.0 L471.3 681.6 L472.5 680.1 L473.7 678.6 L474.9 677.1 L476.0 675.6 L477.2 674.2 L478.4 672.7 L479.6 671.2 L480.8 669.7 L482.0 668.2 L483.3 666.8 L484.5 665.3 L485.7 663.8 L486.9 662.3 L488.2 660.9 L489.4 659.4 L490.7 657.9 L491.9 656.4 L493.2 654.9 L494.5 653.5 L495.7 652.0 L497.0 650.5 L498.3 649.0 L499.6 647.6 L500.9 646.1 L502.2 644.6 L503.5 643.1 L504.8 641.6 L506.1 640.2 L507.4 638.7 L508.7 637.2 L510.1 635.7 L511.4 634.2 L512.7 632.8 L514.1 631.3 L515.4 629.8 L516.8 628.3 L518.1 626.9 L519.5 625.4 L520.9 623.9 L522.3 622.4 L523.6 620.9 L525.0 619.5 L526.4 618.0 L527.8 616.5 L529.2 615.0 L530.6 613.5 L532.0 612.1 L533.5 610.6 L534.9 609.1 L536.3 607.6 L537.8 606.2 L539.2 604.7 L540.6 603.2 L542.1 601.7 L543.5 600.2 L545.0 598.8 L546.5 597.3 L547.9 595.8 L549.4 594.3 L550.9 592.9 L552.4 591.4 L553.9 589.9 L555.4 588.4 L556.9 586.9 L558.4 585.5 L559.9 584.0 L561.4 582.5 L563.0 581.0 L564.5 579.5 L566.0 578.1 L567.6 576.6 L569.1 575.1 L570.7 573.6 L572.2 572.2 L573.8 570.7 L575.4 569.2 L576.9 567.7 L578.5 566.2 L580.1 564.8 L581.7 563.3 L583.3 561.8 L584.9 560.3 L586.5 558.9 L588.1 557.4 L589.7 555.9 L591.4 554.4 L593.0 552.9 L594.6 551.5 L596.2 550.0 L597.9 548.5 L599.5 547.0 L601.2 545.5 L602.9 544.1 L604.5 542.6 L606.2 541.1 L607.9 539.6 L609.5 538.2 L611.2 536.7 L612.9 535.2 L614.6 533.7 L616.3 532.2 L618.0 530.8 L619.7 529.3 L621.5 527.8 L623.2 526.3 L624.9 524.9 L626.6 523.4 L628.4 521.9 L630.1 520.4 L631.9 518.9 L633.6 517.5 L635.4 516.0 L637.2 514.5 L638.9 513.0 L640.7 511.5 L642.5 510.1 L644.3 508.6 L646.1 507.1 L647.9 505.6 L649.7 504.2 L651.5 502.7 L653.3 501.2 L655.1 499.7 L656.9 498.2 L658.8 496.8 L660.6 495.3 L662.4 493.8 L664.3 492.3 L666.1 490.9 L668.0 489.4 L669.9 487.9 L671.7 486.4 L673.6 484.9 L675.5 483.5 L677.3 482.0 L679.2 480.5 L681.1 479.0 L683.0 477.5 L684.9 476.1 L686.8 474.6 L688.8 473.1 L690.7 471.6 L692.6 470.2 L694.5 468.7 L696.5 467.2 L698.4 465.7 L700.4 464.2 L702.3 462.8 L704.3 461.3 L706.2 459.8 L708.2 458.3 L710.2 456.8 L712.2 455.4 L714.1 453.9 L716.1 452.4 L718.1 450.9 L720.1 449.5 L722.1 448.0 L724.1 446.5 L726.2 445.0 L728.2 443.5 L730.2 442.1 L732.2 440.6 L734.3 439.1 L736.3 437.6 L738.4 436.2 L740.4 434.7 L742.5 433.2 L744.5 431.7 L746.6 430.2 L748.7 428.8 L750.8 427.3 L752.8 425.8 L754.9 424.3 L757.0 422.8 L759.1 421.4 L761.2 419.9 L763.4 418.4 L765.5 416.9 L767.6 415.5 L769.7 414.0 L771.9 412.5 L774.0 411.0 L776.1 409.5 L778.3 408.1 L780.4 406.6 L782.6 405.1 L784.8 403.6 L786.9 402.2 L789.1 400.7 L791.3 399.2 L793.5 397.7 L795.7 396.2 L797.9 394.8 L800.1 393.3 L802.3 391.8 L804.5 390.3 L806.7 388.8 L808.9 387.4 L811.2 385.9 L813.4 384.4 L815.6 382.9 L817.9 381.5 L820.1 380.0 L822.4 378.5 L824.7 377.0 L826.9 375.5 L829.2 374.1 L831.5 372.6 L833.8 371.1 L836.0 369.6 L838.3 368.2 L840.6 366.7 L842.9 365.2 L845.2 363.7 L847.6 362.2 L849.9 360.8 L852.2 359.3 L854.5 357.8 L856.9 356.3 L859.2 354.8 L861.6 353.4 L863.9 351.9 L866.3 350.4 L868.6 348.9 L871.0 347.5 L873.4 346.0 L875.7 344.5 L878.1 343.0 L880.5 341.5 L882.9 340.1 L885.3 338.6 L887.7 337.1 L890.1 335.6 L892.5 334.2 L895.0 332.7 L897.4 331.2 L899.8 329.7 L902.3 328.2 L904.7 326.8 L907.1 325.3 L909.6 323.8 L912.1 322.3 L914.5 320.8 L917.0 319.4 L919.5 317.9 L921.9 316.4 L924.4 314.9 L926.9 313.5 L929.4 312.0 L931.9 310.5 L934.4 309.0 L936.9 307.5 L939.4 306.1 L942.0 304.6 L944.5 303.1 L947.0 301.6 L949.6 300.1 L952.1 298.7 L954.7 297.2 L957.2 295.7 L959.8 294.2 L962.3 292.8 L964.9 291.3 L967.5 289.8 L970.1 288.3 L972.7 286.8 L975.2 285.4 L977.8 283.9 L980.4 282.4 L983.0 280.9 L985.7 279.5 L988.3 278.0 L990.9 276.5 L993.5 275.0 L996.2 273.5 L998.8 272.1 L1001.5 270.6 L1004.1 269.1 L1006.8 267.6 L1009.4 266.1 L1012.1 264.7 L1014.8 263.2 L1017.4 261.7 L1020.1 260.2 L1022.8 258.8 L1025.5 257.3 L1028.2 255.8 L1030.9 254.3 L1033.6 252.8 L1036.3 251.4 L1039.0 249.9 L1041.8 248.4 L1044.5 246.9 L1047.2 245.5 L1050.0 244.0 L1052.7 242.5 L1055.5 241.0 L1058.2 239.5 L1061.0 238.1 L1063.7 236.6 L1066.5 235.1 L1069.3 233.6 L1072.1 232.1 L1074.9 230.7 L1077.7 229.2 L1080.5 227.7 L1083.3 226.2 L1086.1 224.8 L1088.9 223.3 L1091.7 221.8 L1094.5 220.3 L1097.4 218.8 L1100.2 217.4 L1103.0 215.9 L1105.9 214.4 L1108.7 212.9 L1111.6 211.5 L1114.5 210.0 L1117.3 208.5 L1120.2 207.0 L1123.1 205.5 L1126.0 204.1 L1128.9 202.6 L1131.8 201.1 L1134.7 199.6 L1137.6 198.1 L1140.5 196.7 L1143.4 195.2 L1146.3 193.7 L1149.2 192.2 L1152.2 190.8 L1155.1 189.3 L1158.1 187.8 L1161.0 186.3 L1164.0 184.8 L1166.9 183.4 L1169.9 181.9 L1172.8 180.4 L1175.8 178.9 L1178.8 177.5 L1181.8 176.0 L1184.8 174.5 L1187.8 173.0 L1190.8 171.5 L1193.8 170.1 L1196.8 168.6 L1199.8 167.1 L1202.8 165.6 L1205.9 164.1 L1208.9 162.7 L1211.9 161.2 L1215.0 159.7 L1218.0 158.2 L1221.1 156.8 L1224.1 155.3 L1227.2 153.8 L1230.3 152.3 L1233.4 150.8 L1236.4 149.4 L1239.5 147.9 L1242.6 146.4 L1245.7 144.9 L1248.8 143.4 L1251.9 142.0 L1255.0 140.5 L1258.2 139.0 L1261.3 137.5 L1264.4 136.1 L1267.5 134.6 L1270.7 133.1 L1273.8 131.6 L1277.0 130.1 L1280.1 128.7 L1283.3 127.2 L1286.5 125.7 L1289.6 124.2 L1292.8 122.8 L1296.0 121.3 L1299.2 119.8 L1302.4 118.3 L1305.6 116.8 L1308.8 115.4 L1312.0 113.9 L1315.2 112.4 L1318.4 110.9 L1321.6 109.4 L1324.9 108.0 L1328.1 106.5 L1331.4 105.0 L1334.6 103.5 L1337.9 102.1 L1341.1 100.6 L1344.4 99.1 L1347.6 97.6 L1350.9 96.1 L1354.2 94.7 L1357.5 93.2 L1360.8 91.7 L1364.1 90.2 L1367.4 88.8 L1370.7 87.3 L1374.0 85.8 L1377.3 84.3 L1380.6 82.8 L1383.9 81.4 L1387.3 79.9 L1390.6 78.4 L1393.9 76.9 L1397.3 75.4 L1400.7 74.0 L1404.0 72.5 L1407.4 71.0 L1410.7 69.5 L1414.1 68.1 L1417.5 66.6 L1420.9 65.1 L1424.3 63.6 L1427.7 62.1 L1431.1 60.7 L1434.5 59.2 L1437.9 57.7 L1441.3 56.2 L1444.7 54.8 L1448.2 53.3 L1451.6 51.8 L1455.0 50.3 L1458.5 48.8 L1461.9 47.4 L1465.4 45.9 L1468.8 44.4 L1472.3 42.9 L1475.8 41.4 L1479.2 40.0 L1482.7 38.5 L1486.2 37.0 L1489.7 35.5 L1493.2 34.1 L1496.7 32.6 L1500.2 31.1 L1503.7 29.6 L1507.2 28.1 L1510.8 26.7 L1514.3 25.2 L1517.8 23.7 L1521.4 22.2 L1524.9 20.8 L1528.5 19.3 L1532.0 17.8 L1535.6 16.3 L1539.1 14.8 L1542.7 13.4 L1546.3 11.9 L1549.9 10.4 L1553.5 8.9 L1557.1 7.4 L1560.6 6.0 L1564.3 4.5 L1567.9 3.0 L1571.5 1.5 L1575.1 0.1 L1578.7 -1.4 L1582.3 -2.9 L1586.0 -4.4 L1589.6 -5.9 L1593.3 -7.3 L1596.9 -8.8 L1600.6 -10.3 L1604.2 -11.8 L1607.9 -13.3 L1611.6 -14.7 L1615.3 -16.2 L1618.9 -17.7 L1622.6 -19.2 L1626.3 -20.6 L1630.0 -22.1 L1633.7 -23.6 L1637.4 -25.1 L1641.2 -26.6 L1644.9 -28.0 L1648.6 -29.5" fill="none" stroke="#008b8b" stroke-width="4.7"/>
<path d="M343.6 1005.3 L343.6 1004.6 L343.6 1003.8 L343.6 1003.1 L343.6 1002.3 L343.7 1001.6 L343.7 1000.9 L343.7 1000.1 L343.8 999.4 L343.8 998.7 L343.9 997.9 L343.9 997.2 L344.0 996.5 L344.1 995.7 L344.1 995.0 L344.2 994.3 L344.3 993.5 L344.4 992.8 L344.5 992.1 L344.6 991.4 L344.7 990.6 L344.8 989.9 L344.9 989.2 L345.0 988.5 L345.1 987.8 L345.3 987.0 L345.4 986.3 L345.5 985.6 L345.7 984.9 L345.8 984.2 L346.0 983.5 L346.2 982.8 L346.3 982.1 L346.5 981.4 L346.7 980.7 L346.9 980.1 L347.1 979.4 L347.2 978.7 L347.4 978.0 L347.7 977.3 L347.9 976.7 L348.1 976.0 L348.3 975.3 L348.5 974.7 L348.8 974.0 L349.0 973.4 L349.2 972.7 L349.5 972.1 L349.7 971.4 L350.0 970.8 L350.3 970.2 L350.5 969.5 L350.8 968.9 L351.1 968.3 L351.4 967.7 L351.7 967.1 L352.0 966.5 L352.3 965.9 L352.6 965.3 L352.9 964.7 L353.2 964.1 L353.5 963.5 L353.8 962.9 L354.2 962.4 L354.5 961.8 L354.9 961.3 L355.2 960.7 L355.6 960.2 L355.9 959.6 L356.3 959.1 L356.7 958.5 L357.0 958.0 L357.4 957.5 L357.8 957.0 L358.2 956.5 L358.6 956.0 L359.0 955.5 L359.4 955.0 L359.8 954.5 L360.2 954.1 L360.6 953.6 L361.1 953.1 L361.5 952.7 L361.9 952.2 L362.4 951.8 L362.8 951.4 L363.3 950.9 L363.8 950.5 L364.2 950.1 L364.7 949.7 L365.2 949.3 L365.7 948.9 L366.1 948.6 L366.6 948.2 L367.1 947.8 L367.6 947.5 L368.1 947.1 L368.7 946.8 L369.2 946.4 L369.7 946.1 L370.2 945.8 L370.8 945.5 L371.3 945.2 L371.9 944.9 L372.4 944.6 L373.0 944.3 L373.5 944.0 L374.1 943.8 L374.7 943.5 L375.2 943.3 L375.8 943.0 L376.4 942.8 L377.0 942.6 L377.6 942.4 L378.2 942.2 L378.8 942.0 L379.4 941.8 L380.1 941.6 L380.7 941.5 L381.3 941.3 L382.0 941.2 L382.6 941.0 L383.2 940.9 L383.9 940.8 L384.6 940.6 L385.2 940.5 L385.9 940.4 L386.6 940.3 L387.2 940.3 L387.9 940.2 L388.6 940.1 L389.3 940.1 L390.0 940.0 L390.7 940.0 L391.4 940.0 L392.1 939.9 L392.9 939.9 L393.6 939.9 L394.3 939.9 L395.1 939.9 L395.8 940.0 L396.5 940.0 L397.3 940.0 L398.1 940.1 L398.8 940.1 L399.6 940.2 L400.4 940.3 L401.2 940.4 L401.9 940.5 L402.7 940.6 L403.5 940.7 L404.3 940.8 L405.1 940.9 L405.9 941.0 L406.8 941.2 L407.6 941.3 L408.4 941.5 L409.2 941.6 L410.1 941.8 L410.9 942.0 L411.8 942.2 L412.6 942.4 L413.5 942.6 L414.4 942.8 L415.2 943.0 L416.1 943.2 L417.0 943.4 L417.9 943.7 L418.8 943.9 L419.7 944.2 L420.6 944.4 L421.5 944.7 L422.4 945.0 L423.3 945.3 L424.2 945.5 L425.2 945.8 L426.1 946.1 L427.0 946.4 L428.0 946.7 L428.9 947.0 L429.9 947.4 L430.9 947.7 L431.8 948.0 L432.8 948.4 L433.8 948.7 L434.8 949.0 L435.7 949.4 L436.7 949.7 L437.7 950.1 L438.7 950.5 L439.7 950.8 L440.8 951.2 L441.8 951.6 L442.8 952.0 L443.8 952.4 L444.9 952.8 L445.9 953.1 L447.0 953.5 L448.0 953.9 L449.1 954.4 L450.1 954.8 L451.2 955.2 L452.3 955.6 L453.4 956.0 L454.4 956.4 L455.5 956.8 L456.6 957.3 L457.7 957.7 L458.8 958.1 L459.9 958.5 L461.1 959.0 L462.2 959.4 L463.3 959.8 L464.4 960.3 L465.6 960.7 L466.7 961.2 L467.9 961.6 L469.0 962.0 L470.2 962.5 L471.3 962.9 L472.5 963.4 L473.7 963.8 L474.9 964.3 L476.0 964.7 L477.2 965.1 L478.4 965.6 L479.6 966.0 L480.8 966.5 L482.0 966.9 L483.3 967.4 L484.5 967.8 L485.7 968.3 L486.9 968.7 L488.2 969.1 L489.4 969.6 L490.7 970.0 L491.9 970.5 L493.2 970.9 L494.5 971.3 L495.7 971.8 L497.0 972.2 L498.3 972.6 L499.6 973.0 L500.9 973.5 L502.2 973.9 L503.5 974.3 L504.8 974.7 L506.1 975.2 L507.4 975.6 L508.7 976.0 L510.1 976.4 L511.4 976.8 L512.7 977.2 L514.1 977.6 L515.4 978.0 L516.8 978.4 L518.1 978.8 L519.5 979.2 L520.9 979.6 L522.3 980.0 L523.6 980.4 L525.0 980.8 L526.4 981.1 L527.8 981.5 L529.2 981.9 L530.6 982.2 L532.0 982.6 L533.5 983.0 L534.9 983.3 L536.3 983.7 L537.8 984.0 L539.2 984.4 L540.6 984.7 L542.1 985.1 L543.5 985.4 L545.0 985.7 L546.5 986.1 L547.9 986.4 L549.4 986.7 L550.9 987.1 L552.4 987.4 L553.9 987.7 L555.4 988.0 L556.9 988.3 L558.4 988.6 L559.9 988.9 L561.4 989.2 L563.0 989.5 L564.5 989.8 L566.0 990.1 L567.6 990.3 L569.1 990.6 L570.7 990.9 L572.2 991.2 L573.8 991.4 L575.4 991.7 L576.9 991.9 L578.5 992.2 L580.1 992.5 L581.7 992.7 L583.3 992.9 L584.9 993.2 L586.5 993.4 L588.1 993.7 L589.7 993.9 L591.4 994.1 L593.0 994.3 L594.6 994.6 L596.2 994.8 L597.9 995.0 L599.5 995.2 L601.2 995.4 L602.9 995.6 L604.5 995.8 L606.2 996.0 L607.9 996.2 L609.5 996.4 L611.2 996.6 L612.9 996.8 L614.6 997.0 L616.3 997.1 L618.0 997.3 L619.7 997.5 L621.5 997.7 L623.2 997.8 L624.9 998.0 L626.6 998.1 L628.4 998.3 L630.1 998.5 L631.9 998.6 L633.6 998.8 L635.4 998.9 L637.2 999.1 L638.9 999.2 L640.7 999.3 L642.5 999.5 L644.3 999.6 L646.1 999.7 L647.9 999.9 L649.7 1000.0 L651.5 1000.1 L653.3 1000.2 L655.1 1000.4 L656.9 1000.5 L658.8 1000.6 L660.6 1000.7 L662.4 1000.8 L664.3 1000.9 L666.1 1001.0 L668.0 1001.1 L669.9 1001.2 L671.7 1001.3 L673.6 1001.4 L675.5 1001.5 L677.3 1001.6 L679.2 1001.7 L681.1 1001.8 L683.0 1001.9 L684.9 1002.0 L686.8 1002.0 L688.8 1002.1 L690.7 1002.2 L692.6 1002.3 L694.5 1002.4 L696.5 1002.4 L698.4 1002.5 L700.4 1002.6 L702.3 1002.6 L704.3 1002.7 L706.2 1002.8 L708.2 1002.9 L710.2 1002.9 L712.2 1003.0 L714.1 1003.0 L716.1 1003.1 L718.1 1003.2 L720.1 1003.2 L722.1 1003.3 L724.1 1003.3 L726.2 1003.4 L728.2 1003.4 L730.2 1003.5 L732.2 1003.5 L734.3 1003.6 L736.3 1003.6 L738.4 1003.7 L740.4 1003.7 L742.5 1003.8 L744.5 1003.8 L746.6 1003.8 L748.7 1003.9 L750.8 1003.9 L752.8 1004.0 L754.9 1004.0 L757.0 1004.0 L759.1 1004.1 L761.2 1004.1 L763.4 1004.1 L765.5 1004.2 L767.6 1004.2 L769.7 1004.2 L771.9 1004.3 L774.0 1004.3 L776.1 1004.3 L778.3 1004.4 L780.4 1004.4 L782.6 1004.4 L784.8 1004.4 L786.9 1004.5 L789.1 1004.5 L791.3 1004.5 L793.5 1004.5 L795.7 1004.6 L797.9 1004.6 L800.1 1004.6 L802.3 1004.6 L804.5 1004.6 L806.7 1004.7 L808.9 1004.7 L811.2 1004.7 L813.4 1004.7 L815.6 1004.7 L817.9 1004.7 L820.1 1004.8 L822.4 1004.8 L824.7 1004.8 L826.9 1004.8 L829.2 1004.8 L831.5 1004.8 L833.8 1004.9 L836.0 1004.9 L838.3 1004.9 L840.6 1004.9 L842.9 1004.9 L845.2 1004.9 L847.6 1004.9 L849.9 1004.9 L852.2 1005.0 L854.5 1005.0 L856.9 1005.0 L859.2 1005.0 L861.6 1005.0 L863.9 1005.0 L866.3 1005.0 L868.6 1005.0 L871.0 1005.0 L873.4 1005.0 L875.7 1005.1 L878.1 1005.1 L880.5 1005.1 L882.9 1005.1 L885.3 1005.1 L887.7 1005.1 L890.1 1005.1 L892.5 1005.1 L895.0 1005.1 L897.4 1005.1 L899.8 1005.1 L902.3 1005.1 L904.7 1005.1 L907.1 1005.1 L909.6 1005.1 L912.1 1005.2 L914.5 1005.2 L917.0 1005.2 L919.5 1005.2 L921.9 1005.2 L924.4 1005.2 L926.9 1005.2 L929.4 1005.2 L931.9 1005.2 L934.4 1005.2 L936.9 1005.2 L939.4 1005.2 L942.0 1005.2 L944.5 1005.2 L947.0 1005.2 L949.6 1005.2 L952.1 1005.2 L954.7 1005.2 L957.2 1005.2 L959.8 1005.2 L962.3 1005.2 L964.9 1005.2 L967.5 1005.2 L970.1 1005.2 L972.7 1005.2 L975.2 1005.2 L977.8 1005.2 L980.4 1005.2 L983.0 1005.2 L985.7 1005.2 L988.3 1005.2 L990.9 1005.3 L993.5 1005.3 L996.2 1005.3 L998.8 1005.3 L1001.5 1005.3 L1004.1 1005.3 L1006.8 1005.3 L1009.4 1005.3 L1012.1 1005.3 L1014.8 1005.3 L1017.4 1005.3 L1020.1 1005.3 L1022.8 1005.3 L1025.5 1005.3 L1028.2 1005.3 L1030.9 1005.3 L1033.6 1005.3 L1036.3 1005.3 L1039.0 1005.3 L1041.8 1005.3 L1044.5 1005.3 L1047.2 1005.3 L1050.0 1005.3 L1052.7 1005.3 L1055.5 1005.3 L1058.2 1005.3 L1061.0 1005.3 L1063.7 1005.3 L1066.5 1005.3 L1069.3 1005.3 L1072.1 1005.3 L1074.9 1005.3 L1077.7 1005.3 L1080.5 1005.3 L1083.3 1005.3 L1086.1 1005.3 L1088.9 1005.3 L1091.7 1005.3 L1094.5 1005.3 L1097.4 1005.3 L1100.2 1005.3 L1103.0 1005.3 L1105.9 1005.3 L1108.7 1005.3 L1111.6 1005.3 L1114.5 1005.3 L1117.3 1005.3 L1120.2 1005.3 L1123.1 1005.3 L1126.0 1005.3 L1128.9 1005.3 L1131.8 1005.3 L1134.7 1005.3 L1137.6 1005.3 L1140.5 1005.3 L1143.4 1005.3 L1146.3 1005.3 L1149.2 1005.3 L1152.2 1005.3 L1155.1 1005.3 L1158.1 1005.3 L1161.0 1005.3 L1164.0 1005.3 L1166.9 1005.3 L1169.9 1005.3 L1172.8 1005.3 L1175.8 1005.3 L1178.8 1005.3 L1181.8 1005.3 L1184.8 1005.3 L1187.8 1005.3 L1190.8 1005.3 L1193.8 1005.3 L1196.8 1005.3 L1199.8 1005.3 L1202.8 1005.3 L1205.9 1005.3 L1208.9 1005.3 L1211.9 1005.3 L1215.0 1005.3 L1218.0 1005.3 L1221.1 1005.3 L1224.1 1005.3 L1227.2 1005.3 L1230.3 1005.3 L1233.4 1005.3 L1236.4 1005.3 L1239.5 1005.3 L1242.6 1005.3 L1245.7 1005.3 L1248.8 1005.3 L1251.9 1005.3 L1255.0 1005.3 L1258.2 1005.3 L1261.3 1005.3 L1264.4 1005.3 L1267.5 1005.3 L1270.7 1005.3 L1273.8 1005.3 L1277.0 1005.3 L1280.1 1005.3 L1283.3 1005.3 L1286.5 1005.3 L1289.6 1005.3 L1292.8 1005.3 L1296.0 1005.3 L1299.2 1005.3 L1302.4 1005.3 L1305.6 1005.3 L1308.8 1005.3 L1312.0 1005.3 L1315.2 1005.3 L1318.4 1005.3 L1321.6 1005.3 L1324.9 1005.3 L1328.1 1005.3 L1331.4 1005.3 L1334.6 1005.3 L1337.9 1005.3 L1341.1 1005.3 L1344.4 1005.3 L1347.6 1005.3 L1350.9 1005.3 L1354.2 1005.3 L1357.5 1005.3 L1360.8 1005.3 L1364.1 1005.3 L1367.4 1005.3 L1370.7 1005.3 L1374.0 1005.3 L1377.3 1005.3 L1380.6 1005.3 L1383.9 1005.3 L1387.3 1005.3 L1390.6 1005.3 L1393.9 1005.3 L1397.3 1005.3 L1400.7 1005.3 L1404.0 1005.3 L1407.4 1005.3 L1410.7 1005.3 L1414.1 1005.3 L1417.5 1005.3 L1420.9 1005.3 L1424.3 1005.3 L1427.7 1005.3 L1431.1 1005.3 L1434.5 1005.3 L1437.9 1005.3 L1441.3 1005.3 L1444.7 1005.3 L1448.2 1005.3 L1451.6 1005.3 L1455.0 1005.3 L1458.5 1005.3 L1461.9 1005.3 L1465.4 1005.3 L1468.8 1005.3 L1472.3 1005.3 L1475.8 1005.3 L1479.2 1005.3 L1482.7 1005.3 L1486.2 1005.3 L1489.7 1005.3 L1493.2 1005.3 L1496.7 1005.3 L1500.2 1005.3 L1503.7 1005.3 L1507.2 1005.3 L1510.8 1005.3 L1514.3 1005.3 L1517.8 1005.3 L1521.4 1005.3 L1524.9 1005.3 L1528.5 1005.3 L1532.0 1005.3 L1535.6 1005.3 L1539.1 1005.3 L1542.7 1005.3 L1546.3 1005.3 L1549.9 1005.3 L1553.5 1005.3 L1557.1 1005.3 L1560.6 1005.3 L1564.3 1005.3 L1567.9 1005.3 L1571.5 1005.3 L1575.1 1005.3 L1578.7 1005.3 L1582.3 1005.3 L1586.0 1005.3 L1589.6 1005.3 L1593.3 1005.3 L1596.9 1005.3 L1600.6 1005.3 L1604.2 1005.3 L1607.9 1005.3 L1611.6 1005.3 L1615.3 1005.3 L1618.9 1005.3 L1622.6 1005.3 L1626.3 1005.3 L1630.0 1005.3 L1633.7 1005.3 L1637.4 1005.3 L1641.2 1005.3 L1644.9 1005.3 L1648.6 1005.3" transform="translate(1.5 1.2)" fill="none" stroke="#0000c8" stroke-width="4.3" stroke-dasharray="24 23.25"/>
<path d="M343.6 1005.3 L343.6 1003.8 L343.6 1002.4 L343.6 1000.9 L343.6 999.4 L343.7 998.0 L343.7 996.5 L343.7 995.0 L343.8 993.6 L343.8 992.1 L343.9 990.6 L343.9 989.1 L344.0 987.7 L344.1 986.2 L344.1 984.7 L344.2 983.3 L344.3 981.8 L344.4 980.3 L344.5 978.9 L344.6 977.4 L344.7 975.9 L344.8 974.5 L344.9 973.0 L345.0 971.5 L345.1 970.1 L345.3 968.6 L345.4 967.1 L345.5 965.7 L345.7 964.2 L345.8 962.7 L346.0 961.3 L346.2 959.8 L346.3 958.3 L346.5 956.9 L346.7 955.4 L346.9 953.9 L347.1 952.5 L347.2 951.0 L347.4 949.5 L347.7 948.1 L347.9 946.6 L348.1 945.1 L348.3 943.7 L348.5 942.2 L348.8 940.7 L349.0 939.3 L349.2 937.8 L349.5 936.3 L349.7 934.9 L350.0 933.4 L350.3 931.9 L350.5 930.5 L350.8 929.0 L351.1 927.5 L351.4 926.1 L351.7 924.6 L352.0 923.1 L352.3 921.7 L352.6 920.2 L352.9 918.7 L353.2 917.3 L353.5 915.8 L353.8 914.4 L354.2 912.9 L354.5 911.4 L354.9 910.0 L355.2 908.5 L355.6 907.0 L355.9 905.6 L356.3 904.1 L356.7 902.7 L357.0 901.2 L357.4 899.7 L357.8 898.3 L358.2 896.8 L358.6 895.4 L359.0 893.9 L359.4 892.4 L359.8 891.0 L360.2 889.5 L360.6 888.1 L361.1 886.6 L361.5 885.1 L361.9 883.7 L362.4 882.2 L362.8 880.8 L363.3 879.3 L363.8 877.8 L364.2 876.4 L364.7 874.9 L365.2 873.5 L365.7 872.0 L366.1 870.6 L366.6 869.1 L367.1 867.7 L367.6 866.2 L368.1 864.7 L368.7 863.3 L369.2 861.8 L369.7 860.4 L370.2 858.9 L370.8 857.5 L371.3 856.0 L371.9 854.6 L372.4 853.1 L373.0 851.7 L373.5 850.2 L374.1 848.8 L374.7 847.3 L375.2 845.9 L375.8 844.4 L376.4 843.0 L377.0 841.5 L377.6 840.1 L378.2 838.6 L378.8 837.2 L379.4 835.8 L380.1 834.3 L380.7 832.9 L381.3 831.4 L382.0 830.0 L382.6 828.5 L383.2 827.1 L383.9 825.7 L384.6 824.2 L385.2 822.8 L385.9 821.4 L386.6 819.9 L387.2 818.5 L387.9 817.0 L388.6 815.6 L389.3 814.2 L390.0 812.7 L390.7 811.3 L391.4 809.9 L392.1 808.5 L392.9 807.0 L393.6 805.6 L394.3 804.2 L395.1 802.7 L395.8 801.3 L396.5 799.9 L397.3 798.5 L398.1 797.0 L398.8 795.6 L399.6 794.2 L400.4 792.8 L401.2 791.4 L401.9 790.0 L402.7 788.5 L403.5 787.1 L404.3 785.7 L405.1 784.3 L405.9 782.9 L406.8 781.5 L407.6 780.1 L408.4 778.7 L409.2 777.3 L410.1 775.9 L410.9 774.5 L411.8 773.1 L412.6 771.7 L413.5 770.3 L414.4 768.9 L415.2 767.5 L416.1 766.1 L417.0 764.7 L417.9 763.3 L418.8 761.9 L419.7 760.6 L420.6 759.2 L421.5 757.8 L422.4 756.4 L423.3 755.0 L424.2 753.7 L425.2 752.3 L426.1 750.9 L427.0 749.6 L428.0 748.2 L428.9 746.9 L429.9 745.5 L430.9 744.1 L431.8 742.8 L432.8 741.4 L433.8 740.1 L434.8 738.7 L435.7 737.4 L436.7 736.1 L437.7 734.7 L438.7 733.4 L439.7 732.1 L440.8 730.8 L441.8 729.4 L442.8 728.1 L443.8 726.8 L444.9 725.5 L445.9 724.2 L447.0 722.9 L448.0 721.6 L449.1 720.3 L450.1 719.0 L451.2 717.7 L452.3 716.4 L453.4 715.1 L454.4 713.9 L455.5 712.6 L456.6 711.3 L457.7 710.1 L458.8 708.8 L459.9 707.6 L461.1 706.3 L462.2 705.1 L463.3 703.9 L464.4 702.6 L465.6 701.4 L466.7 700.2 L467.9 699.0 L469.0 697.8 L470.2 696.6 L471.3 695.4 L472.5 694.2 L473.7 693.1 L474.9 691.9 L476.0 690.7 L477.2 689.6 L478.4 688.4 L479.6 687.3 L480.8 686.2 L482.0 685.0 L483.3 683.9 L484.5 682.8 L485.7 681.7 L486.9 680.6 L488.2 679.6 L489.4 678.5 L490.7 677.4 L491.9 676.4 L493.2 675.4 L494.5 674.3 L495.7 673.3 L497.0 672.3 L498.3 671.3 L499.6 670.3 L500.9 669.4 L502.2 668.4 L503.5 667.5 L504.8 666.5 L506.1 665.6 L507.4 664.7 L508.7 663.8 L510.1 662.9 L511.4 662.1 L512.7 661.2 L514.1 660.4 L515.4 659.5 L516.8 658.7 L518.1 658.0 L519.5 657.2 L520.9 656.4 L522.3 655.7 L523.6 655.0 L525.0 654.3 L526.4 653.6 L527.8 652.9 L529.2 652.3 L530.6 651.7 L532.0 651.1 L533.5 650.5 L534.9 649.9 L536.3 649.4 L537.8 648.8 L539.2 648.3 L540.6 647.9 L542.1 647.4 L543.5 647.0 L545.0 646.6 L546.5 646.2 L547.9 645.9 L549.4 645.6 L550.9 645.3 L552.4 645.0 L553.9 644.7 L555.4 644.5 L556.9 644.3 L558.4 644.2 L559.9 644.1 L561.4 644.0 L563.0 643.9 L564.5 643.9 L566.0 643.9 L567.6 643.9 L569.1 644.0 L570.7 644.1 L572.2 644.2 L573.8 644.4 L575.4 644.6 L576.9 644.9 L578.5 645.2 L580.1 645.5 L581.7 645.9 L583.3 646.3 L584.9 646.7 L586.5 647.2 L588.1 647.7 L589.7 648.3 L591.4 648.9 L593.0 649.5 L594.6 650.2 L596.2 651.0 L597.9 651.7 L599.5 652.6 L601.2 653.4 L602.9 654.4 L604.5 655.3 L606.2 656.3 L607.9 657.4 L609.5 658.5 L611.2 659.7 L612.9 660.9 L614.6 662.1 L616.3 663.4 L618.0 664.8 L619.7 666.2 L621.5 667.6 L623.2 669.1 L624.9 670.7 L626.6 672.3 L628.4 673.9 L630.1 675.6 L631.9 677.4 L633.6 679.2 L635.4 681.0 L637.2 683.0 L638.9 684.9 L640.7 686.9 L642.5 689.0 L644.3 691.1 L646.1 693.2 L647.9 695.4 L649.7 697.7 L651.5 700.0 L653.3 702.3 L655.1 704.7 L656.9 707.1 L658.8 709.6 L660.6 712.1 L662.4 714.7 L664.3 717.3 L666.1 720.0 L668.0 722.6 L669.9 725.4 L671.7 728.1 L673.6 731.0 L675.5 733.8 L677.3 736.7 L679.2 739.6 L681.1 742.5 L683.0 745.5 L684.9 748.5 L686.8 751.5 L688.8 754.6 L690.7 757.7 L692.6 760.8 L694.5 763.9 L696.5 767.1 L698.4 770.2 L700.4 773.4 L702.3 776.6 L704.3 779.9 L706.2 783.1 L708.2 786.3 L710.2 789.6 L712.2 792.8 L714.1 796.1 L716.1 799.3 L718.1 802.6 L720.1 805.9 L722.1 809.1 L724.1 812.4 L726.2 815.7 L728.2 818.9 L730.2 822.2 L732.2 825.4 L734.3 828.6 L736.3 831.8 L738.4 835.0 L740.4 838.2 L742.5 841.3 L744.5 844.5 L746.6 847.6 L748.7 850.7 L750.8 853.8 L752.8 856.8 L754.9 859.9 L757.0 862.9 L759.1 865.8 L761.2 868.8 L763.4 871.7 L765.5 874.6 L767.6 877.4 L769.7 880.2 L771.9 883.0 L774.0 885.8 L776.1 888.5 L778.3 891.2 L780.4 893.8 L782.6 896.4 L784.8 899.0 L786.9 901.5 L789.1 904.0 L791.3 906.5 L793.5 908.9 L795.7 911.3 L797.9 913.6 L800.1 915.9 L802.3 918.2 L804.5 920.4 L806.7 922.6 L808.9 924.7 L811.2 926.8 L813.4 928.9 L815.6 930.9 L817.9 932.9 L820.1 934.8 L822.4 936.7 L824.7 938.6 L826.9 940.4 L829.2 942.2 L831.5 943.9 L833.8 945.6 L836.0 947.3 L838.3 948.9 L840.6 950.5 L842.9 952.1 L845.2 953.6 L847.6 955.1 L849.9 956.6 L852.2 958.0 L854.5 959.4 L856.9 960.7 L859.2 962.1 L861.6 963.4 L863.9 964.6 L866.3 965.8 L868.6 967.0 L871.0 968.2 L873.4 969.3 L875.7 970.4 L878.1 971.5 L880.5 972.5 L882.9 973.6 L885.3 974.5 L887.7 975.5 L890.1 976.4 L892.5 977.4 L895.0 978.2 L897.4 979.1 L899.8 979.9 L902.3 980.8 L904.7 981.5 L907.1 982.3 L909.6 983.1 L912.1 983.8 L914.5 984.5 L917.0 985.2 L919.5 985.8 L921.9 986.5 L924.4 987.1 L926.9 987.7 L929.4 988.3 L931.9 988.9 L934.4 989.4 L936.9 989.9 L939.4 990.5 L942.0 991.0 L944.5 991.5 L947.0 991.9 L949.6 992.4 L952.1 992.8 L954.7 993.3 L957.2 993.7 L959.8 994.1 L962.3 994.5 L964.9 994.8 L967.5 995.2 L970.1 995.6 L972.7 995.9 L975.2 996.2 L977.8 996.6 L980.4 996.9 L983.0 997.2 L985.7 997.5 L988.3 997.7 L990.9 998.0 L993.5 998.3 L996.2 998.5 L998.8 998.8 L1001.5 999.0 L1004.1 999.2 L1006.8 999.5 L1009.4 999.7 L1012.1 999.9 L1014.8 1000.1 L1017.4 1000.3 L1020.1 1000.4 L1022.8 1000.6 L1025.5 1000.8 L1028.2 1001.0 L1030.9 1001.1 L1033.6 1001.3 L1036.3 1001.4 L1039.0 1001.6 L1041.8 1001.7 L1044.5 1001.9 L1047.2 1002.0 L1050.0 1002.1 L1052.7 1002.2 L1055.5 1002.3 L1058.2 1002.5 L1061.0 1002.6 L1063.7 1002.7 L1066.5 1002.8 L1069.3 1002.9 L1072.1 1003.0 L1074.9 1003.1 L1077.7 1003.1 L1080.5 1003.2 L1083.3 1003.3 L1086.1 1003.4 L1088.9 1003.5 L1091.7 1003.5 L1094.5 1003.6 L1097.4 1003.7 L1100.2 1003.7 L1103.0 1003.8 L1105.9 1003.8 L1108.7 1003.9 L1111.6 1004.0 L1114.5 1004.0 L1117.3 1004.1 L1120.2 1004.1 L1123.1 1004.2 L1126.0 1004.2 L1128.9 1004.3 L1131.8 1004.3 L1134.7 1004.3 L1137.6 1004.4 L1140.5 1004.4 L1143.4 1004.4 L1146.3 1004.5 L1149.2 1004.5 L1152.2 1004.5 L1155.1 1004.6 L1158.1 1004.6 L1161.0 1004.6 L1164.0 1004.7 L1166.9 1004.7 L1169.9 1004.7 L1172.8 1004.7 L1175.8 1004.8 L1178.8 1004.8 L1181.8 1004.8 L1184.8 1004.8 L1187.8 1004.8 L1190.8 1004.9 L1193.8 1004.9 L1196.8 1004.9 L1199.8 1004.9 L1202.8 1004.9 L1205.9 1004.9 L1208.9 1005.0 L1211.9 1005.0 L1215.0 1005.0 L1218.0 1005.0 L1221.1 1005.0 L1224.1 1005.0 L1227.2 1005.0 L1230.3 1005.1 L1233.4 1005.1 L1236.4 1005.1 L1239.5 1005.1 L1242.6 1005.1 L1245.7 1005.1 L1248.8 1005.1 L1251.9 1005.1 L1255.0 1005.1 L1258.2 1005.1 L1261.3 1005.1 L1264.4 1005.1 L1267.5 1005.2 L1270.7 1005.2 L1273.8 1005.2 L1277.0 1005.2 L1280.1 1005.2 L1283.3 1005.2 L1286.5 1005.2 L1289.6 1005.2 L1292.8 1005.2 L1296.0 1005.2 L1299.2 1005.2 L1302.4 1005.2 L1305.6 1005.2 L1308.8 1005.2 L1312.0 1005.2 L1315.2 1005.2 L1318.4 1005.2 L1321.6 1005.2 L1324.9 1005.2 L1328.1 1005.2 L1331.4 1005.2 L1334.6 1005.2 L1337.9 1005.2 L1341.1 1005.2 L1344.4 1005.3 L1347.6 1005.3 L1350.9 1005.3 L1354.2 1005.3 L1357.5 1005.3 L1360.8 1005.3 L1364.1 1005.3 L1367.4 1005.3 L1370.7 1005.3 L1374.0 1005.3 L1377.3 1005.3 L1380.6 1005.3 L1383.9 1005.3 L1387.3 1005.3 L1390.6 1005.3 L1393.9 1005.3 L1397.3 1005.3 L1400.7 1005.3 L1404.0 1005.3 L1407.4 1005.3 L1410.7 1005.3 L1414.1 1005.3 L1417.5 1005.3 L1420.9 1005.3 L1424.3 1005.3 L1427.7 1005.3 L1431.1 1005.3 L1434.5 1005.3 L1437.9 1005.3 L1441.3 1005.3 L1444.7 1005.3 L1448.2 1005.3 L1451.6 1005.3 L1455.0 1005.3 L1458.5 1005.3 L1461.9 1005.3 L1465.4 1005.3 L1468.8 1005.3 L1472.3 1005.3 L1475.8 1005.3 L1479.2 1005.3 L1482.7 1005.3 L1486.2 1005.3 L1489.7 1005.3 L1493.2 1005.3 L1496.7 1005.3 L1500.2 1005.3 L1503.7 1005.3 L1507.2 1005.3 L1510.8 1005.3 L1514.3 1005.3 L1517.8 1005.3 L1521.4 1005.3 L1524.9 1005.3 L1528.5 1005.3 L1532.0 1005.3 L1535.6 1005.3 L1539.1 1005.3 L1542.7 1005.3 L1546.3 1005.3 L1549.9 1005.3 L1553.5 1005.3 L1557.1 1005.3 L1560.6 1005.3 L1564.3 1005.3 L1567.9 1005.3 L1571.5 1005.3 L1575.1 1005.3 L1578.7 1005.3 L1582.3 1005.3 L1586.0 1005.3 L1589.6 1005.3 L1593.3 1005.3 L1596.9 1005.3 L1600.6 1005.3 L1604.2 1005.3 L1607.9 1005.3 L1611.6 1005.3 L1615.3 1005.3 L1618.9 1005.3 L1622.6 1005.3 L1626.3 1005.3 L1630.0 1005.3 L1633.7 1005.3 L1637.4 1005.3 L1641.2 1005.3 L1644.9 1005.3 L1648.6 1005.3" transform="translate(1.5 1.2)" fill="none" stroke="#0000c8" stroke-width="4.3" stroke-dasharray="24 23.25"/>
<path d="M343.6 1005.3 L343.6 1003.8 L343.6 1002.3 L343.6 1000.9 L343.6 999.4 L343.7 997.9 L343.7 996.4 L343.7 995.0 L343.8 993.5 L343.8 992.0 L343.9 990.5 L343.9 989.0 L344.0 987.6 L344.1 986.1 L344.1 984.6 L344.2 983.1 L344.3 981.6 L344.4 980.2 L344.5 978.7 L344.6 977.2 L344.7 975.7 L344.8 974.3 L344.9 972.8 L345.0 971.3 L345.1 969.8 L345.3 968.3 L345.4 966.9 L345.5 965.4 L345.7 963.9 L345.8 962.4 L346.0 961.0 L346.2 959.5 L346.3 958.0 L346.5 956.5 L346.7 955.0 L346.9 953.6 L347.1 952.1 L347.2 950.6 L347.4 949.1 L347.7 947.6 L347.9 946.2 L348.1 944.7 L348.3 943.2 L348.5 941.7 L348.8 940.3 L349.0 938.8 L349.2 937.3 L349.5 935.8 L349.7 934.3 L350.0 932.9 L350.3 931.4 L350.5 929.9 L350.8 928.4 L351.1 927.0 L351.4 925.5 L351.7 924.0 L352.0 922.5 L352.3 921.0 L352.6 919.6 L352.9 918.1 L353.2 916.6 L353.5 915.1 L353.8 913.7 L354.2 912.2 L354.5 910.7 L354.9 909.2 L355.2 907.7 L355.6 906.3 L355.9 904.8 L356.3 903.3 L356.7 901.8 L357.0 900.3 L357.4 898.9 L357.8 897.4 L358.2 895.9 L358.6 894.4 L359.0 893.0 L359.4 891.5 L359.8 890.0 L360.2 888.5 L360.6 887.0 L361.1 885.6 L361.5 884.1 L361.9 882.6 L362.4 881.1 L362.8 879.7 L363.3 878.2 L363.8 876.7 L364.2 875.2 L364.7 873.7 L365.2 872.3 L365.7 870.8 L366.1 869.3 L366.6 867.8 L367.1 866.3 L367.6 864.9 L368.1 863.4 L368.7 861.9 L369.2 860.4 L369.7 859.0 L370.2 857.5 L370.8 856.0 L371.3 854.5 L371.9 853.0 L372.4 851.6 L373.0 850.1 L373.5 848.6 L374.1 847.1 L374.7 845.7 L375.2 844.2 L375.8 842.7 L376.4 841.2 L377.0 839.7 L377.6 838.3 L378.2 836.8 L378.8 835.3 L379.4 833.8 L380.1 832.4 L380.7 830.9 L381.3 829.4 L382.0 827.9 L382.6 826.4 L383.2 825.0 L383.9 823.5 L384.6 822.0 L385.2 820.5 L385.9 819.0 L386.6 817.6 L387.2 816.1 L387.9 814.6 L388.6 813.1 L389.3 811.7 L390.0 810.2 L390.7 808.7 L391.4 807.2 L392.1 805.7 L392.9 804.3 L393.6 802.8 L394.3 801.3 L395.1 799.8 L395.8 798.4 L396.5 796.9 L397.3 795.4 L398.1 793.9 L398.8 792.4 L399.6 791.0 L400.4 789.5 L401.2 788.0 L401.9 786.5 L402.7 785.1 L403.5 783.6 L404.3 782.1 L405.1 780.6 L405.9 779.1 L406.8 777.7 L407.6 776.2 L408.4 774.7 L409.2 773.2 L410.1 771.8 L410.9 770.3 L411.8 768.8 L412.6 767.3 L413.5 765.8 L414.4 764.4 L415.2 762.9 L416.1 761.4 L417.0 759.9 L417.9 758.5 L418.8 757.0 L419.7 755.5 L420.6 754.0 L421.5 752.5 L422.4 751.1 L423.3 749.6 L424.2 748.1 L425.2 746.6 L426.1 745.2 L427.0 743.7 L428.0 742.2 L428.9 740.7 L429.9 739.2 L430.9 737.8 L431.8 736.3 L432.8 734.8 L433.8 733.3 L434.8 731.9 L435.7 730.4 L436.7 728.9 L437.7 727.4 L438.7 726.0 L439.7 724.5 L440.8 723.0 L441.8 721.5 L442.8 720.0 L443.8 718.6 L444.9 717.1 L445.9 715.6 L447.0 714.1 L448.0 712.7 L449.1 711.2 L450.1 709.7 L451.2 708.2 L452.3 706.8 L453.4 705.3 L454.4 703.8 L455.5 702.3 L456.6 700.8 L457.7 699.4 L458.8 697.9 L459.9 696.4 L461.1 694.9 L462.2 693.5 L463.3 692.0 L464.4 690.5 L465.6 689.0 L466.7 687.6 L467.9 686.1 L469.0 684.6 L470.2 683.1 L471.3 681.6 L472.5 680.2 L473.7 678.7 L474.9 677.2 L476.0 675.7 L477.2 674.3 L478.4 672.8 L479.6 671.3 L480.8 669.8 L482.0 668.4 L483.3 666.9 L484.5 665.4 L485.7 663.9 L486.9 662.5 L488.2 661.0 L489.4 659.5 L490.7 658.0 L491.9 656.6 L493.2 655.1 L494.5 653.6 L495.7 652.1 L497.0 650.7 L498.3 649.2 L499.6 647.7 L500.9 646.2 L502.2 644.8 L503.5 643.3 L504.8 641.8 L506.1 640.3 L507.4 638.9 L508.7 637.4 L510.1 635.9 L511.4 634.4 L512.7 633.0 L514.1 631.5 L515.4 630.0 L516.8 628.6 L518.1 627.1 L519.5 625.6 L520.9 624.1 L522.3 622.7 L523.6 621.2 L525.0 619.7 L526.4 618.2 L527.8 616.8 L529.2 615.3 L530.6 613.8 L532.0 612.4 L533.5 610.9 L534.9 609.4 L536.3 608.0 L537.8 606.5 L539.2 605.0 L540.6 603.5 L542.1 602.1 L543.5 600.6 L545.0 599.1 L546.5 597.7 L547.9 596.2 L549.4 594.7 L550.9 593.3 L552.4 591.8 L553.9 590.3 L555.4 588.9 L556.9 587.4 L558.4 585.9 L559.9 584.5 L561.4 583.0 L563.0 581.5 L564.5 580.1 L566.0 578.6 L567.6 577.1 L569.1 575.7 L570.7 574.2 L572.2 572.7 L573.8 571.3 L575.4 569.8 L576.9 568.4 L578.5 566.9 L580.1 565.4 L581.7 564.0 L583.3 562.5 L584.9 561.1 L586.5 559.6 L588.1 558.1 L589.7 556.7 L591.4 555.2 L593.0 553.8 L594.6 552.3 L596.2 550.9 L597.9 549.4 L599.5 547.9 L601.2 546.5 L602.9 545.0 L604.5 543.6 L606.2 542.1 L607.9 540.7 L609.5 539.2 L611.2 537.8 L612.9 536.4 L614.6 534.9 L616.3 533.5 L618.0 532.0 L619.7 530.6 L621.5 529.1 L623.2 527.7 L624.9 526.3 L626.6 524.8 L628.4 523.4 L630.1 522.0 L631.9 520.5 L633.6 519.1 L635.4 517.7 L637.2 516.2 L638.9 514.8 L640.7 513.4 L642.5 511.9 L644.3 510.5 L646.1 509.1 L647.9 507.7 L649.7 506.3 L651.5 504.9 L653.3 503.4 L655.1 502.0 L656.9 500.6 L658.8 499.2 L660.6 497.8 L662.4 496.4 L664.3 495.0 L666.1 493.6 L668.0 492.2 L669.9 490.8 L671.7 489.4 L673.6 488.1 L675.5 486.7 L677.3 485.3 L679.2 483.9 L681.1 482.6 L683.0 481.2 L684.9 479.8 L686.8 478.5 L688.8 477.1 L690.7 475.8 L692.6 474.4 L694.5 473.1 L696.5 471.7 L698.4 470.4 L700.4 469.1 L702.3 467.7 L704.3 466.4 L706.2 465.1 L708.2 463.8 L710.2 462.5 L712.2 461.2 L714.1 459.9 L716.1 458.6 L718.1 457.3 L720.1 456.1 L722.1 454.8 L724.1 453.6 L726.2 452.3 L728.2 451.1 L730.2 449.8 L732.2 448.6 L734.3 447.4 L736.3 446.2 L738.4 445.0 L740.4 443.8 L742.5 442.6 L744.5 441.5 L746.6 440.3 L748.7 439.2 L750.8 438.0 L752.8 436.9 L754.9 435.8 L757.0 434.7 L759.1 433.6 L761.2 432.6 L763.4 431.5 L765.5 430.5 L767.6 429.5 L769.7 428.5 L771.9 427.5 L774.0 426.5 L776.1 425.6 L778.3 424.6 L780.4 423.7 L782.6 422.8 L784.8 421.9 L786.9 421.1 L789.1 420.3 L791.3 419.5 L793.5 418.7 L795.7 417.9 L797.9 417.2 L800.1 416.5 L802.3 415.8 L804.5 415.1 L806.7 414.5 L808.9 413.9 L811.2 413.4 L813.4 412.8 L815.6 412.4 L817.9 411.9 L820.1 411.5 L822.4 411.1 L824.7 410.7 L826.9 410.4 L829.2 410.2 L831.5 409.9 L833.8 409.8 L836.0 409.6 L838.3 409.5 L840.6 409.5 L842.9 409.5 L845.2 409.6 L847.6 409.7 L849.9 409.8 L852.2 410.1 L854.5 410.3 L856.9 410.7 L859.2 411.1 L861.6 411.5 L863.9 412.1 L866.3 412.7 L868.6 413.3 L871.0 414.1 L873.4 414.9 L875.7 415.8 L878.1 416.7 L880.5 417.8 L882.9 418.9 L885.3 420.1 L887.7 421.4 L890.1 422.8 L892.5 424.3 L895.0 425.8 L897.4 427.5 L899.8 429.2 L902.3 431.1 L904.7 433.0 L907.1 435.1 L909.6 437.2 L912.1 439.5 L914.5 441.9 L917.0 444.4 L919.5 447.0 L921.9 449.7 L924.4 452.5 L926.9 455.4 L929.4 458.5 L931.9 461.6 L934.4 464.9 L936.9 468.3 L939.4 471.9 L942.0 475.5 L944.5 479.3 L947.0 483.2 L949.6 487.2 L952.1 491.4 L954.7 495.7 L957.2 500.1 L959.8 504.6 L962.3 509.2 L964.9 514.0 L967.5 518.9 L970.1 523.9 L972.7 529.0 L975.2 534.3 L977.8 539.6 L980.4 545.1 L983.0 550.6 L985.7 556.3 L988.3 562.1 L990.9 568.0 L993.5 573.9 L996.2 580.0 L998.8 586.1 L1001.5 592.3 L1004.1 598.7 L1006.8 605.0 L1009.4 611.5 L1012.1 618.0 L1014.8 624.5 L1017.4 631.2 L1020.1 637.8 L1022.8 644.5 L1025.5 651.2 L1028.2 658.0 L1030.9 664.8 L1033.6 671.6 L1036.3 678.4 L1039.0 685.2 L1041.8 692.0 L1044.5 698.8 L1047.2 705.6 L1050.0 712.4 L1052.7 719.1 L1055.5 725.9 L1058.2 732.5 L1061.0 739.2 L1063.7 745.7 L1066.5 752.3 L1069.3 758.8 L1072.1 765.2 L1074.9 771.5 L1077.7 777.8 L1080.5 784.0 L1083.3 790.1 L1086.1 796.1 L1088.9 802.1 L1091.7 807.9 L1094.5 813.7 L1097.4 819.3 L1100.2 824.9 L1103.0 830.4 L1105.9 835.7 L1108.7 841.0 L1111.6 846.1 L1114.5 851.2 L1117.3 856.1 L1120.2 860.9 L1123.1 865.7 L1126.0 870.3 L1128.9 874.8 L1131.8 879.2 L1134.7 883.4 L1137.6 887.6 L1140.5 891.7 L1143.4 895.6 L1146.3 899.5 L1149.2 903.2 L1152.2 906.9 L1155.1 910.4 L1158.1 913.8 L1161.0 917.2 L1164.0 920.4 L1166.9 923.5 L1169.9 926.6 L1172.8 929.5 L1175.8 932.4 L1178.8 935.1 L1181.8 937.8 L1184.8 940.4 L1187.8 942.9 L1190.8 945.3 L1193.8 947.6 L1196.8 949.9 L1199.8 952.0 L1202.8 954.1 L1205.9 956.2 L1208.9 958.1 L1211.9 960.0 L1215.0 961.8 L1218.0 963.6 L1221.1 965.3 L1224.1 966.9 L1227.2 968.5 L1230.3 970.0 L1233.4 971.4 L1236.4 972.8 L1239.5 974.2 L1242.6 975.5 L1245.7 976.7 L1248.8 977.9 L1251.9 979.1 L1255.0 980.2 L1258.2 981.2 L1261.3 982.3 L1264.4 983.2 L1267.5 984.2 L1270.7 985.1 L1273.8 985.9 L1277.0 986.8 L1280.1 987.6 L1283.3 988.3 L1286.5 989.1 L1289.6 989.8 L1292.8 990.5 L1296.0 991.1 L1299.2 991.7 L1302.4 992.3 L1305.6 992.9 L1308.8 993.5 L1312.0 994.0 L1315.2 994.5 L1318.4 995.0 L1321.6 995.4 L1324.9 995.9 L1328.1 996.3 L1331.4 996.7 L1334.6 997.1 L1337.9 997.4 L1341.1 997.8 L1344.4 998.1 L1347.6 998.5 L1350.9 998.8 L1354.2 999.1 L1357.5 999.4 L1360.8 999.6 L1364.1 999.9 L1367.4 1000.1 L1370.7 1000.4 L1374.0 1000.6 L1377.3 1000.8 L1380.6 1001.0 L1383.9 1001.2 L1387.3 1001.4 L1390.6 1001.6 L1393.9 1001.8 L1397.3 1001.9 L1400.7 1002.1 L1404.0 1002.2 L1407.4 1002.4 L1410.7 1002.5 L1414.1 1002.7 L1417.5 1002.8 L1420.9 1002.9 L1424.3 1003.0 L1427.7 1003.1 L1431.1 1003.2 L1434.5 1003.3 L1437.9 1003.4 L1441.3 1003.5 L1444.7 1003.6 L1448.2 1003.7 L1451.6 1003.8 L1455.0 1003.8 L1458.5 1003.9 L1461.9 1004.0 L1465.4 1004.0 L1468.8 1004.1 L1472.3 1004.2 L1475.8 1004.2 L1479.2 1004.3 L1482.7 1004.3 L1486.2 1004.4 L1489.7 1004.4 L1493.2 1004.4 L1496.7 1004.5 L1500.2 1004.5 L1503.7 1004.6 L1507.2 1004.6 L1510.8 1004.6 L1514.3 1004.7 L1517.8 1004.7 L1521.4 1004.7 L1524.9 1004.8 L1528.5 1004.8 L1532.0 1004.8 L1535.6 1004.8 L1539.1 1004.9 L1542.7 1004.9 L1546.3 1004.9 L1549.9 1004.9 L1553.5 1004.9 L1557.1 1005.0 L1560.6 1005.0 L1564.3 1005.0 L1567.9 1005.0 L1571.5 1005.0 L1575.1 1005.0 L1578.7 1005.1 L1582.3 1005.1 L1586.0 1005.1 L1589.6 1005.1 L1593.3 1005.1 L1596.9 1005.1 L1600.6 1005.1 L1604.2 1005.1 L1607.9 1005.1 L1611.6 1005.1 L1615.3 1005.2 L1618.9 1005.2 L1622.6 1005.2 L1626.3 1005.2 L1630.0 1005.2 L1633.7 1005.2 L1637.4 1005.2 L1641.2 1005.2 L1644.9 1005.2 L1648.6 1005.2" transform="translate(1.5 1.2)" fill="none" stroke="#0000c8" stroke-width="4.3" stroke-dasharray="24 23.25"/>
<path d="M343.6 1005.3 L343.6 1004.9 L343.6 1004.6 L343.6 1004.2 L343.6 1003.8 L343.7 1003.5 L343.7 1003.1 L343.7 1002.7 L343.8 1002.3 L343.8 1002.0 L343.9 1001.6 L343.9 1001.2 L344.0 1000.9 L344.1 1000.5 L344.1 1000.1 L344.2 999.8 L344.3 999.4 L344.4 999.0 L344.5 998.6 L344.6 998.3 L344.7 997.9 L344.8 997.5 L344.9 997.2 L345.0 996.8 L345.1 996.4 L345.3 996.1 L345.4 995.7 L345.5 995.3 L345.7 995.0 L345.8 994.6 L346.0 994.2 L346.2 993.8 L346.3 993.5 L346.5 993.1 L346.7 992.7 L346.9 992.4 L347.1 992.0 L347.2 991.6 L347.4 991.3 L347.7 990.9 L347.9 990.5 L348.1 990.2 L348.3 989.8 L348.5 989.4 L348.8 989.1 L349.0 988.7 L349.2 988.3 L349.5 988.0 L349.7 987.6 L350.0 987.2 L350.3 986.9 L350.5 986.5 L350.8 986.1 L351.1 985.8 L351.4 985.4 L351.7 985.0 L352.0 984.7 L352.3 984.3 L352.6 984.0 L352.9 983.6 L353.2 983.2 L353.5 982.9 L353.8 982.5 L354.2 982.2 L354.5 981.8 L354.9 981.4 L355.2 981.1 L355.6 980.7 L355.9 980.4 L356.3 980.0 L356.7 979.7 L357.0 979.3 L357.4 979.0 L357.8 978.6 L358.2 978.3 L358.6 977.9 L359.0 977.6 L359.4 977.2 L359.8 976.9 L360.2 976.5 L360.6 976.2 L361.1 975.9 L361.5 975.5 L361.9 975.2 L362.4 974.9 L362.8 974.5 L363.3 974.2 L363.8 973.9 L364.2 973.5 L364.7 973.2 L365.2 972.9 L365.7 972.6 L366.1 972.2 L366.6 971.9 L367.1 971.6 L367.6 971.3 L368.1 971.0 L368.7 970.7 L369.2 970.4 L369.7 970.0 L370.2 969.7 L370.8 969.4 L371.3 969.1 L371.9 968.9 L372.4 968.6 L373.0 968.3 L373.5 968.0 L374.1 967.7 L374.7 967.4 L375.2 967.2 L375.8 966.9 L376.4 966.6 L377.0 966.3 L377.6 966.1 L378.2 965.8 L378.8 965.6 L379.4 965.3 L380.1 965.1 L380.7 964.8 L381.3 964.6 L382.0 964.3 L382.6 964.1 L383.2 963.9 L383.9 963.7 L384.6 963.4 L385.2 963.2 L385.9 963.0 L386.6 962.8 L387.2 962.6 L387.9 962.4 L388.6 962.2 L389.3 962.0 L390.0 961.9 L390.7 961.7 L391.4 961.5 L392.1 961.3 L392.9 961.2 L393.6 961.0 L394.3 960.9 L395.1 960.7 L395.8 960.6 L396.5 960.5 L397.3 960.3 L398.1 960.2 L398.8 960.1 L399.6 960.0 L400.4 959.9 L401.2 959.8 L401.9 959.7 L402.7 959.6 L403.5 959.5 L404.3 959.4 L405.1 959.4 L405.9 959.3 L406.8 959.2 L407.6 959.2 L408.4 959.1 L409.2 959.1 L410.1 959.1 L410.9 959.0 L411.8 959.0 L412.6 959.0 L413.5 959.0 L414.4 959.0 L415.2 959.0 L416.1 959.0 L417.0 959.0 L417.9 959.1 L418.8 959.1 L419.7 959.1 L420.6 959.2 L421.5 959.2 L422.4 959.3 L423.3 959.4 L424.2 959.4 L425.2 959.5 L426.1 959.6 L427.0 959.7 L428.0 959.8 L428.9 959.9 L429.9 960.0 L430.9 960.1 L431.8 960.2 L432.8 960.3 L433.8 960.5 L434.8 960.6 L435.7 960.8 L436.7 960.9 L437.7 961.1 L438.7 961.2 L439.7 961.4 L440.8 961.6 L441.8 961.8 L442.8 961.9 L443.8 962.1 L444.9 962.3 L445.9 962.5 L447.0 962.7 L448.0 963.0 L449.1 963.2 L450.1 963.4 L451.2 963.6 L452.3 963.9 L453.4 964.1 L454.4 964.3 L455.5 964.6 L456.6 964.8 L457.7 965.1 L458.8 965.4 L459.9 965.6 L461.1 965.9 L462.2 966.2 L463.3 966.4 L464.4 966.7 L465.6 967.0 L466.7 967.3 L467.9 967.6 L469.0 967.9 L470.2 968.2 L471.3 968.5 L472.5 968.8 L473.7 969.1 L474.9 969.4 L476.0 969.7 L477.2 970.0 L478.4 970.3 L479.6 970.7 L480.8 971.0 L482.0 971.3 L483.3 971.6 L484.5 971.9 L485.7 972.3 L486.9 972.6 L488.2 972.9 L489.4 973.3 L490.7 973.6 L491.9 973.9 L493.2 974.3 L494.5 974.6 L495.7 974.9 L497.0 975.3 L498.3 975.6 L499.6 976.0 L500.9 976.3 L502.2 976.6 L503.5 977.0 L504.8 977.3 L506.1 977.6 L507.4 978.0 L508.7 978.3 L510.1 978.7 L511.4 979.0 L512.7 979.3 L514.1 979.7 L515.4 980.0 L516.8 980.3 L518.1 980.7 L519.5 981.0 L520.9 981.3 L522.3 981.7 L523.6 982.0 L525.0 982.3 L526.4 982.6 L527.8 983.0 L529.2 983.3 L530.6 983.6 L532.0 983.9 L533.5 984.2 L534.9 984.5 L536.3 984.9 L537.8 985.2 L539.2 985.5 L540.6 985.8 L542.1 986.1 L543.5 986.4 L545.0 986.7 L546.5 987.0 L547.9 987.3 L549.4 987.6 L550.9 987.9 L552.4 988.1 L553.9 988.4 L555.4 988.7 L556.9 989.0 L558.4 989.3 L559.9 989.5 L561.4 989.8 L563.0 990.1 L564.5 990.3 L566.0 990.6 L567.6 990.9 L569.1 991.1 L570.7 991.4 L572.2 991.6 L573.8 991.9 L575.4 992.1 L576.9 992.4 L578.5 992.6 L580.1 992.8 L581.7 993.1 L583.3 993.3 L584.9 993.5 L586.5 993.7 L588.1 994.0 L589.7 994.2 L591.4 994.4 L593.0 994.6 L594.6 994.8 L596.2 995.0 L597.9 995.2 L599.5 995.4 L601.2 995.6 L602.9 995.8 L604.5 996.0 L606.2 996.2 L607.9 996.4 L609.5 996.6 L611.2 996.8 L612.9 996.9 L614.6 997.1 L616.3 997.3 L618.0 997.4 L619.7 997.6 L621.5 997.8 L623.2 997.9 L624.9 998.1 L626.6 998.3 L628.4 998.4 L630.1 998.6 L631.9 998.7 L633.6 998.8 L635.4 999.0 L637.2 999.1 L638.9 999.3 L640.7 999.4 L642.5 999.5 L644.3 999.7 L646.1 999.8 L647.9 999.9 L649.7 1000.0 L651.5 1000.2 L653.3 1000.3 L655.1 1000.4 L656.9 1000.5 L658.8 1000.6 L660.6 1000.7 L662.4 1000.8 L664.3 1001.0 L666.1 1001.1 L668.0 1001.2 L669.9 1001.3 L671.7 1001.4 L673.6 1001.4 L675.5 1001.5 L677.3 1001.6 L679.2 1001.7 L681.1 1001.8 L683.0 1001.9 L684.9 1002.0 L686.8 1002.1 L688.8 1002.1 L690.7 1002.2 L692.6 1002.3 L694.5 1002.4 L696.5 1002.5 L698.4 1002.5 L700.4 1002.6 L702.3 1002.7 L704.3 1002.7 L706.2 1002.8 L708.2 1002.9 L710.2 1002.9 L712.2 1003.0 L714.1 1003.0 L716.1 1003.1 L718.1 1003.2 L720.1 1003.2 L722.1 1003.3 L724.1 1003.3 L726.2 1003.4 L728.2 1003.4 L730.2 1003.5 L732.2 1003.5 L734.3 1003.6 L736.3 1003.6 L738.4 1003.7 L740.4 1003.7 L742.5 1003.8 L744.5 1003.8 L746.6 1003.8 L748.7 1003.9 L750.8 1003.9 L752.8 1004.0 L754.9 1004.0 L757.0 1004.0 L759.1 1004.1 L761.2 1004.1 L763.4 1004.1 L765.5 1004.2 L767.6 1004.2 L769.7 1004.2 L771.9 1004.3 L774.0 1004.3 L776.1 1004.3 L778.3 1004.4 L780.4 1004.4 L782.6 1004.4 L784.8 1004.4 L786.9 1004.5 L789.1 1004.5 L791.3 1004.5 L793.5 1004.5 L795.7 1004.6 L797.9 1004.6 L800.1 1004.6 L802.3 1004.6 L804.5 1004.6 L806.7 1004.7 L808.9 1004.7 L811.2 1004.7 L813.4 1004.7 L815.6 1004.7 L817.9 1004.7 L820.1 1004.8 L822.4 1004.8 L824.7 1004.8 L826.9 1004.8 L829.2 1004.8 L831.5 1004.8 L833.8 1004.9 L836.0 1004.9 L838.3 1004.9 L840.6 1004.9 L842.9 1004.9 L845.2 1004.9 L847.6 1004.9 L849.9 1004.9 L852.2 1005.0 L854.5 1005.0 L856.9 1005.0 L859.2 1005.0 L861.6 1005.0 L863.9 1005.0 L866.3 1005.0 L868.6 1005.0 L871.0 1005.0 L873.4 1005.0 L875.7 1005.1 L878.1 1005.1 L880.5 1005.1 L882.9 1005.1 L885.3 1005.1 L887.7 1005.1 L890.1 1005.1 L892.5 1005.1 L895.0 1005.1 L897.4 1005.1 L899.8 1005.1 L902.3 1005.1 L904.7 1005.1 L907.1 1005.1 L909.6 1005.1 L912.1 1005.2 L914.5 1005.2 L917.0 1005.2 L919.5 1005.2 L921.9 1005.2 L924.4 1005.2 L926.9 1005.2 L929.4 1005.2 L931.9 1005.2 L934.4 1005.2 L936.9 1005.2 L939.4 1005.2 L942.0 1005.2 L944.5 1005.2 L947.0 1005.2 L949.6 1005.2 L952.1 1005.2 L954.7 1005.2 L957.2 1005.2 L959.8 1005.2 L962.3 1005.2 L964.9 1005.2 L967.5 1005.2 L970.1 1005.2 L972.7 1005.2 L975.2 1005.2 L977.8 1005.2 L980.4 1005.2 L983.0 1005.2 L985.7 1005.2 L988.3 1005.2 L990.9 1005.3 L993.5 1005.3 L996.2 1005.3 L998.8 1005.3 L1001.5 1005.3 L1004.1 1005.3 L1006.8 1005.3 L1009.4 1005.3 L1012.1 1005.3 L1014.8 1005.3 L1017.4 1005.3 L1020.1 1005.3 L1022.8 1005.3 L1025.5 1005.3 L1028.2 1005.3 L1030.9 1005.3 L1033.6 1005.3 L1036.3 1005.3 L1039.0 1005.3 L1041.8 1005.3 L1044.5 1005.3 L1047.2 1005.3 L1050.0 1005.3 L1052.7 1005.3 L1055.5 1005.3 L1058.2 1005.3 L1061.0 1005.3 L1063.7 1005.3 L1066.5 1005.3 L1069.3 1005.3 L1072.1 1005.3 L1074.9 1005.3 L1077.7 1005.3 L1080.5 1005.3 L1083.3 1005.3 L1086.1 1005.3 L1088.9 1005.3 L1091.7 1005.3 L1094.5 1005.3 L1097.4 1005.3 L1100.2 1005.3 L1103.0 1005.3 L1105.9 1005.3 L1108.7 1005.3 L1111.6 1005.3 L1114.5 1005.3 L1117.3 1005.3 L1120.2 1005.3 L1123.1 1005.3 L1126.0 1005.3 L1128.9 1005.3 L1131.8 1005.3 L1134.7 1005.3 L1137.6 1005.3 L1140.5 1005.3 L1143.4 1005.3 L1146.3 1005.3 L1149.2 1005.3 L1152.2 1005.3 L1155.1 1005.3 L1158.1 1005.3 L1161.0 1005.3 L1164.0 1005.3 L1166.9 1005.3 L1169.9 1005.3 L1172.8 1005.3 L1175.8 1005.3 L1178.8 1005.3 L1181.8 1005.3 L1184.8 1005.3 L1187.8 1005.3 L1190.8 1005.3 L1193.8 1005.3 L1196.8 1005.3 L1199.8 1005.3 L1202.8 1005.3 L1205.9 1005.3 L1208.9 1005.3 L1211.9 1005.3 L1215.0 1005.3 L1218.0 1005.3 L1221.1 1005.3 L1224.1 1005.3 L1227.2 1005.3 L1230.3 1005.3 L1233.4 1005.3 L1236.4 1005.3 L1239.5 1005.3 L1242.6 1005.3 L1245.7 1005.3 L1248.8 1005.3 L1251.9 1005.3 L1255.0 1005.3 L1258.2 1005.3 L1261.3 1005.3 L1264.4 1005.3 L1267.5 1005.3 L1270.7 1005.3 L1273.8 1005.3 L1277.0 1005.3 L1280.1 1005.3 L1283.3 1005.3 L1286.5 1005.3 L1289.6 1005.3 L1292.8 1005.3 L1296.0 1005.3 L1299.2 1005.3 L1302.4 1005.3 L1305.6 1005.3 L1308.8 1005.3 L1312.0 1005.3 L1315.2 1005.3 L1318.4 1005.3 L1321.6 1005.3 L1324.9 1005.3 L1328.1 1005.3 L1331.4 1005.3 L1334.6 1005.3 L1337.9 1005.3 L1341.1 1005.3 L1344.4 1005.3 L1347.6 1005.3 L1350.9 1005.3 L1354.2 1005.3 L1357.5 1005.3 L1360.8 1005.3 L1364.1 1005.3 L1367.4 1005.3 L1370.7 1005.3 L1374.0 1005.3 L1377.3 1005.3 L1380.6 1005.3 L1383.9 1005.3 L1387.3 1005.3 L1390.6 1005.3 L1393.9 1005.3 L1397.3 1005.3 L1400.7 1005.3 L1404.0 1005.3 L1407.4 1005.3 L1410.7 1005.3 L1414.1 1005.3 L1417.5 1005.3 L1420.9 1005.3 L1424.3 1005.3 L1427.7 1005.3 L1431.1 1005.3 L1434.5 1005.3 L1437.9 1005.3 L1441.3 1005.3 L1444.7 1005.3 L1448.2 1005.3 L1451.6 1005.3 L1455.0 1005.3 L1458.5 1005.3 L1461.9 1005.3 L1465.4 1005.3 L1468.8 1005.3 L1472.3 1005.3 L1475.8 1005.3 L1479.2 1005.3 L1482.7 1005.3 L1486.2 1005.3 L1489.7 1005.3 L1493.2 1005.3 L1496.7 1005.3 L1500.2 1005.3 L1503.7 1005.3 L1507.2 1005.3 L1510.8 1005.3 L1514.3 1005.3 L1517.8 1005.3 L1521.4 1005.3 L1524.9 1005.3 L1528.5 1005.3 L1532.0 1005.3 L1535.6 1005.3 L1539.1 1005.3 L1542.7 1005.3 L1546.3 1005.3 L1549.9 1005.3 L1553.5 1005.3 L1557.1 1005.3 L1560.6 1005.3 L1564.3 1005.3 L1567.9 1005.3 L1571.5 1005.3 L1575.1 1005.3 L1578.7 1005.3 L1582.3 1005.3 L1586.0 1005.3 L1589.6 1005.3 L1593.3 1005.3 L1596.9 1005.3 L1600.6 1005.3 L1604.2 1005.3 L1607.9 1005.3 L1611.6 1005.3 L1615.3 1005.3 L1618.9 1005.3 L1622.6 1005.3 L1626.3 1005.3 L1630.0 1005.3 L1633.7 1005.3 L1637.4 1005.3 L1641.2 1005.3 L1644.9 1005.3 L1648.6 1005.3 L1648.6 1005.3 L343.6 1005.3 Z" fill="#ff0000"/>
<path d="M343.6 1005.3 L343.6 1005.3 L343.6 1005.3 L343.6 1005.3 L343.6 1005.3 L343.7 1005.3 L343.7 1005.2 L343.7 1005.2 L343.8 1005.2 L343.8 1005.2 L343.9 1005.2 L343.9 1005.2 L344.0 1005.2 L344.1 1005.2 L344.1 1005.2 L344.2 1005.2 L344.3 1005.1 L344.4 1005.1 L344.5 1005.1 L344.6 1005.1 L344.7 1005.1 L344.8 1005.1 L344.9 1005.1 L345.0 1005.1 L345.1 1005.1 L345.3 1005.0 L345.4 1005.0 L345.5 1005.0 L345.7 1005.0 L345.8 1005.0 L346.0 1005.0 L346.2 1005.0 L346.3 1005.0 L346.5 1005.0 L346.7 1005.0 L346.9 1004.9 L347.1 1004.9 L347.2 1004.9 L347.4 1004.9 L347.7 1004.9 L347.9 1004.9 L348.1 1004.9 L348.3 1004.9 L348.5 1004.8 L348.8 1004.8 L349.0 1004.8 L349.2 1004.8 L349.5 1004.8 L349.7 1004.8 L350.0 1004.8 L350.3 1004.8 L350.5 1004.7 L350.8 1004.7 L351.1 1004.7 L351.4 1004.7 L351.7 1004.7 L352.0 1004.7 L352.3 1004.7 L352.6 1004.7 L352.9 1004.6 L353.2 1004.6 L353.5 1004.6 L353.8 1004.6 L354.2 1004.6 L354.5 1004.6 L354.9 1004.5 L355.2 1004.5 L355.6 1004.5 L355.9 1004.5 L356.3 1004.5 L356.7 1004.5 L357.0 1004.5 L357.4 1004.4 L357.8 1004.4 L358.2 1004.4 L358.6 1004.4 L359.0 1004.4 L359.4 1004.3 L359.8 1004.3 L360.2 1004.3 L360.6 1004.3 L361.1 1004.3 L361.5 1004.3 L361.9 1004.2 L362.4 1004.2 L362.8 1004.2 L363.3 1004.2 L363.8 1004.2 L364.2 1004.1 L364.7 1004.1 L365.2 1004.1 L365.7 1004.1 L366.1 1004.0 L366.6 1004.0 L367.1 1004.0 L367.6 1004.0 L368.1 1004.0 L368.7 1003.9 L369.2 1003.9 L369.7 1003.9 L370.2 1003.9 L370.8 1003.8 L371.3 1003.8 L371.9 1003.8 L372.4 1003.7 L373.0 1003.7 L373.5 1003.7 L374.1 1003.7 L374.7 1003.6 L375.2 1003.6 L375.8 1003.6 L376.4 1003.5 L377.0 1003.5 L377.6 1003.5 L378.2 1003.4 L378.8 1003.4 L379.4 1003.4 L380.1 1003.3 L380.7 1003.3 L381.3 1003.3 L382.0 1003.2 L382.6 1003.2 L383.2 1003.2 L383.9 1003.1 L384.6 1003.1 L385.2 1003.0 L385.9 1003.0 L386.6 1003.0 L387.2 1002.9 L387.9 1002.9 L388.6 1002.8 L389.3 1002.8 L390.0 1002.8 L390.7 1002.7 L391.4 1002.7 L392.1 1002.6 L392.9 1002.6 L393.6 1002.5 L394.3 1002.5 L395.1 1002.4 L395.8 1002.4 L396.5 1002.3 L397.3 1002.3 L398.1 1002.2 L398.8 1002.1 L399.6 1002.1 L400.4 1002.0 L401.2 1002.0 L401.9 1001.9 L402.7 1001.8 L403.5 1001.8 L404.3 1001.7 L405.1 1001.7 L405.9 1001.6 L406.8 1001.5 L407.6 1001.4 L408.4 1001.4 L409.2 1001.3 L410.1 1001.2 L410.9 1001.2 L411.8 1001.1 L412.6 1001.0 L413.5 1000.9 L414.4 1000.8 L415.2 1000.8 L416.1 1000.7 L417.0 1000.6 L417.9 1000.5 L418.8 1000.4 L419.7 1000.3 L420.6 1000.2 L421.5 1000.1 L422.4 1000.0 L423.3 999.9 L424.2 999.8 L425.2 999.7 L426.1 999.6 L427.0 999.5 L428.0 999.4 L428.9 999.3 L429.9 999.2 L430.9 999.0 L431.8 998.9 L432.8 998.8 L433.8 998.7 L434.8 998.5 L435.7 998.4 L436.7 998.3 L437.7 998.1 L438.7 998.0 L439.7 997.9 L440.8 997.7 L441.8 997.6 L442.8 997.4 L443.8 997.2 L444.9 997.1 L445.9 996.9 L447.0 996.8 L448.0 996.6 L449.1 996.4 L450.1 996.2 L451.2 996.1 L452.3 995.9 L453.4 995.7 L454.4 995.5 L455.5 995.3 L456.6 995.1 L457.7 994.9 L458.8 994.7 L459.9 994.5 L461.1 994.2 L462.2 994.0 L463.3 993.8 L464.4 993.5 L465.6 993.3 L466.7 993.1 L467.9 992.8 L469.0 992.6 L470.2 992.3 L471.3 992.0 L472.5 991.8 L473.7 991.5 L474.9 991.2 L476.0 990.9 L477.2 990.6 L478.4 990.3 L479.6 990.0 L480.8 989.7 L482.0 989.3 L483.3 989.0 L484.5 988.7 L485.7 988.3 L486.9 988.0 L488.2 987.6 L489.4 987.2 L490.7 986.9 L491.9 986.5 L493.2 986.1 L494.5 985.7 L495.7 985.3 L497.0 984.8 L498.3 984.4 L499.6 984.0 L500.9 983.5 L502.2 983.1 L503.5 982.6 L504.8 982.1 L506.1 981.6 L507.4 981.1 L508.7 980.6 L510.1 980.1 L511.4 979.6 L512.7 979.0 L514.1 978.5 L515.4 977.9 L516.8 977.3 L518.1 976.8 L519.5 976.2 L520.9 975.5 L522.3 974.9 L523.6 974.3 L525.0 973.6 L526.4 973.0 L527.8 972.3 L529.2 971.6 L530.6 970.9 L532.0 970.2 L533.5 969.5 L534.9 968.7 L536.3 968.0 L537.8 967.2 L539.2 966.4 L540.6 965.6 L542.1 964.8 L543.5 963.9 L545.0 963.1 L546.5 962.2 L547.9 961.4 L549.4 960.5 L550.9 959.6 L552.4 958.6 L553.9 957.7 L555.4 956.7 L556.9 955.8 L558.4 954.8 L559.9 953.8 L561.4 952.8 L563.0 951.7 L564.5 950.7 L566.0 949.6 L567.6 948.5 L569.1 947.4 L570.7 946.3 L572.2 945.2 L573.8 944.1 L575.4 942.9 L576.9 941.7 L578.5 940.6 L580.1 939.4 L581.7 938.2 L583.3 936.9 L584.9 935.7 L586.5 934.4 L588.1 933.2 L589.7 931.9 L591.4 930.6 L593.0 929.3 L594.6 928.0 L596.2 926.7 L597.9 925.4 L599.5 924.1 L601.2 922.7 L602.9 921.4 L604.5 920.0 L606.2 918.7 L607.9 917.3 L609.5 916.0 L611.2 914.6 L612.9 913.2 L614.6 911.9 L616.3 910.5 L618.0 909.1 L619.7 907.8 L621.5 906.4 L623.2 905.1 L624.9 903.7 L626.6 902.4 L628.4 901.1 L630.1 899.8 L631.9 898.5 L633.6 897.2 L635.4 895.9 L637.2 894.7 L638.9 893.4 L640.7 892.2 L642.5 891.0 L644.3 889.9 L646.1 888.7 L647.9 887.6 L649.7 886.5 L651.5 885.5 L653.3 884.4 L655.1 883.4 L656.9 882.5 L658.8 881.5 L660.6 880.7 L662.4 879.8 L664.3 879.0 L666.1 878.2 L668.0 877.5 L669.9 876.8 L671.7 876.2 L673.6 875.6 L675.5 875.1 L677.3 874.6 L679.2 874.1 L681.1 873.7 L683.0 873.4 L684.9 873.1 L686.8 872.9 L688.8 872.7 L690.7 872.6 L692.6 872.5 L694.5 872.5 L696.5 872.5 L698.4 872.6 L700.4 872.8 L702.3 873.0 L704.3 873.3 L706.2 873.6 L708.2 874.0 L710.2 874.4 L712.2 874.9 L714.1 875.5 L716.1 876.1 L718.1 876.7 L720.1 877.4 L722.1 878.2 L724.1 879.0 L726.2 879.8 L728.2 880.8 L730.2 881.7 L732.2 882.7 L734.3 883.7 L736.3 884.8 L738.4 886.0 L740.4 887.1 L742.5 888.3 L744.5 889.6 L746.6 890.8 L748.7 892.2 L750.8 893.5 L752.8 894.9 L754.9 896.3 L757.0 897.7 L759.1 899.1 L761.2 900.6 L763.4 902.1 L765.5 903.6 L767.6 905.1 L769.7 906.7 L771.9 908.2 L774.0 909.8 L776.1 911.4 L778.3 913.0 L780.4 914.6 L782.6 916.2 L784.8 917.8 L786.9 919.4 L789.1 921.0 L791.3 922.6 L793.5 924.2 L795.7 925.8 L797.9 927.4 L800.1 929.0 L802.3 930.5 L804.5 932.1 L806.7 933.7 L808.9 935.2 L811.2 936.7 L813.4 938.3 L815.6 939.8 L817.9 941.3 L820.1 942.8 L822.4 944.2 L824.7 945.7 L826.9 947.1 L829.2 948.5 L831.5 949.9 L833.8 951.3 L836.0 952.6 L838.3 953.9 L840.6 955.2 L842.9 956.5 L845.2 957.8 L847.6 959.0 L849.9 960.3 L852.2 961.5 L854.5 962.6 L856.9 963.8 L859.2 964.9 L861.6 966.1 L863.9 967.1 L866.3 968.2 L868.6 969.3 L871.0 970.3 L873.4 971.3 L875.7 972.3 L878.1 973.2 L880.5 974.2 L882.9 975.1 L885.3 976.0 L887.7 976.8 L890.1 977.7 L892.5 978.5 L895.0 979.3 L897.4 980.1 L899.8 980.9 L902.3 981.6 L904.7 982.4 L907.1 983.1 L909.6 983.8 L912.1 984.5 L914.5 985.1 L917.0 985.8 L919.5 986.4 L921.9 987.0 L924.4 987.6 L926.9 988.1 L929.4 988.7 L931.9 989.2 L934.4 989.8 L936.9 990.3 L939.4 990.8 L942.0 991.3 L944.5 991.7 L947.0 992.2 L949.6 992.6 L952.1 993.0 L954.7 993.5 L957.2 993.9 L959.8 994.3 L962.3 994.6 L964.9 995.0 L967.5 995.4 L970.1 995.7 L972.7 996.0 L975.2 996.3 L977.8 996.7 L980.4 997.0 L983.0 997.3 L985.7 997.5 L988.3 997.8 L990.9 998.1 L993.5 998.3 L996.2 998.6 L998.8 998.8 L1001.5 999.1 L1004.1 999.3 L1006.8 999.5 L1009.4 999.7 L1012.1 999.9 L1014.8 1000.1 L1017.4 1000.3 L1020.1 1000.5 L1022.8 1000.7 L1025.5 1000.8 L1028.2 1001.0 L1030.9 1001.1 L1033.6 1001.3 L1036.3 1001.5 L1039.0 1001.6 L1041.8 1001.7 L1044.5 1001.9 L1047.2 1002.0 L1050.0 1002.1 L1052.7 1002.2 L1055.5 1002.4 L1058.2 1002.5 L1061.0 1002.6 L1063.7 1002.7 L1066.5 1002.8 L1069.3 1002.9 L1072.1 1003.0 L1074.9 1003.1 L1077.7 1003.1 L1080.5 1003.2 L1083.3 1003.3 L1086.1 1003.4 L1088.9 1003.5 L1091.7 1003.5 L1094.5 1003.6 L1097.4 1003.7 L1100.2 1003.7 L1103.0 1003.8 L1105.9 1003.9 L1108.7 1003.9 L1111.6 1004.0 L1114.5 1004.0 L1117.3 1004.1 L1120.2 1004.1 L1123.1 1004.2 L1126.0 1004.2 L1128.9 1004.3 L1131.8 1004.3 L1134.7 1004.3 L1137.6 1004.4 L1140.5 1004.4 L1143.4 1004.4 L1146.3 1004.5 L1149.2 1004.5 L1152.2 1004.5 L1155.1 1004.6 L1158.1 1004.6 L1161.0 1004.6 L1164.0 1004.7 L1166.9 1004.7 L1169.9 1004.7 L1172.8 1004.7 L1175.8 1004.8 L1178.8 1004.8 L1181.8 1004.8 L1184.8 1004.8 L1187.8 1004.8 L1190.8 1004.9 L1193.8 1004.9 L1196.8 1004.9 L1199.8 1004.9 L1202.8 1004.9 L1205.9 1004.9 L1208.9 1005.0 L1211.9 1005.0 L1215.0 1005.0 L1218.0 1005.0 L1221.1 1005.0 L1224.1 1005.0 L1227.2 1005.0 L1230.3 1005.1 L1233.4 1005.1 L1236.4 1005.1 L1239.5 1005.1 L1242.6 1005.1 L1245.7 1005.1 L1248.8 1005.1 L1251.9 1005.1 L1255.0 1005.1 L1258.2 1005.1 L1261.3 1005.1 L1264.4 1005.1 L1267.5 1005.2 L1270.7 1005.2 L1273.8 1005.2 L1277.0 1005.2 L1280.1 1005.2 L1283.3 1005.2 L1286.5 1005.2 L1289.6 1005.2 L1292.8 1005.2 L1296.0 1005.2 L1299.2 1005.2 L1302.4 1005.2 L1305.6 1005.2 L1308.8 1005.2 L1312.0 1005.2 L1315.2 1005.2 L1318.4 1005.2 L1321.6 1005.2 L1324.9 1005.2 L1328.1 1005.2 L1331.4 1005.2 L1334.6 1005.2 L1337.9 1005.2 L1341.1 1005.2 L1344.4 1005.3 L1347.6 1005.3 L1350.9 1005.3 L1354.2 1005.3 L1357.5 1005.3 L1360.8 1005.3 L1364.1 1005.3 L1367.4 1005.3 L1370.7 1005.3 L1374.0 1005.3 L1377.3 1005.3 L1380.6 1005.3 L1383.9 1005.3 L1387.3 1005.3 L1390.6 1005.3 L1393.9 1005.3 L1397.3 1005.3 L1400.7 1005.3 L1404.0 1005.3 L1407.4 1005.3 L1410.7 1005.3 L1414.1 1005.3 L1417.5 1005.3 L1420.9 1005.3 L1424.3 1005.3 L1427.7 1005.3 L1431.1 1005.3 L1434.5 1005.3 L1437.9 1005.3 L1441.3 1005.3 L1444.7 1005.3 L1448.2 1005.3 L1451.6 1005.3 L1455.0 1005.3 L1458.5 1005.3 L1461.9 1005.3 L1465.4 1005.3 L1468.8 1005.3 L1472.3 1005.3 L1475.8 1005.3 L1479.2 1005.3 L1482.7 1005.3 L1486.2 1005.3 L1489.7 1005.3 L1493.2 1005.3 L1496.7 1005.3 L1500.2 1005.3 L1503.7 1005.3 L1507.2 1005.3 L1510.8 1005.3 L1514.3 1005.3 L1517.8 1005.3 L1521.4 1005.3 L1524.9 1005.3 L1528.5 1005.3 L1532.0 1005.3 L1535.6 1005.3 L1539.1 1005.3 L1542.7 1005.3 L1546.3 1005.3 L1549.9 1005.3 L1553.5 1005.3 L1557.1 1005.3 L1560.6 1005.3 L1564.3 1005.3 L1567.9 1005.3 L1571.5 1005.3 L1575.1 1005.3 L1578.7 1005.3 L1582.3 1005.3 L1586.0 1005.3 L1589.6 1005.3 L1593.3 1005.3 L1596.9 1005.3 L1600.6 1005.3 L1604.2 1005.3 L1607.9 1005.3 L1611.6 1005.3 L1615.3 1005.3 L1618.9 1005.3 L1622.6 1005.3 L1626.3 1005.3 L1630.0 1005.3 L1633.7 1005.3 L1637.4 1005.3 L1641.2 1005.3 L1644.9 1005.3 L1648.6 1005.3 L1648.6 1005.3 L343.6 1005.3 Z" fill="#ff0000"/>
<path d="M343.6 1005.3 L343.6 1005.3 L343.6 1005.3 L343.6 1005.3 L343.6 1005.3 L343.7 1005.3 L343.7 1005.3 L343.7 1005.3 L343.8 1005.3 L343.8 1005.3 L343.9 1005.3 L343.9 1005.3 L344.0 1005.3 L344.1 1005.3 L344.1 1005.3 L344.2 1005.3 L344.3 1005.3 L344.4 1005.3 L344.5 1005.3 L344.6 1005.3 L344.7 1005.3 L344.8 1005.3 L344.9 1005.3 L345.0 1005.3 L345.1 1005.3 L345.3 1005.3 L345.4 1005.3 L345.5 1005.3 L345.7 1005.3 L345.8 1005.3 L346.0 1005.3 L346.2 1005.3 L346.3 1005.3 L346.5 1005.3 L346.7 1005.3 L346.9 1005.3 L347.1 1005.3 L347.2 1005.3 L347.4 1005.3 L347.7 1005.3 L347.9 1005.3 L348.1 1005.3 L348.3 1005.3 L348.5 1005.3 L348.8 1005.3 L349.0 1005.3 L349.2 1005.3 L349.5 1005.3 L349.7 1005.3 L350.0 1005.3 L350.3 1005.3 L350.5 1005.3 L350.8 1005.3 L351.1 1005.3 L351.4 1005.3 L351.7 1005.3 L352.0 1005.3 L352.3 1005.3 L352.6 1005.3 L352.9 1005.3 L353.2 1005.3 L353.5 1005.3 L353.8 1005.3 L354.2 1005.3 L354.5 1005.3 L354.9 1005.3 L355.2 1005.3 L355.6 1005.3 L355.9 1005.3 L356.3 1005.3 L356.7 1005.3 L357.0 1005.3 L357.4 1005.3 L357.8 1005.3 L358.2 1005.3 L358.6 1005.3 L359.0 1005.3 L359.4 1005.3 L359.8 1005.3 L360.2 1005.3 L360.6 1005.3 L361.1 1005.3 L361.5 1005.3 L361.9 1005.3 L362.4 1005.3 L362.8 1005.3 L363.3 1005.3 L363.8 1005.3 L364.2 1005.3 L364.7 1005.3 L365.2 1005.3 L365.7 1005.3 L366.1 1005.3 L366.6 1005.3 L367.1 1005.3 L367.6 1005.3 L368.1 1005.3 L368.7 1005.3 L369.2 1005.3 L369.7 1005.3 L370.2 1005.3 L370.8 1005.3 L371.3 1005.3 L371.9 1005.3 L372.4 1005.3 L373.0 1005.3 L373.5 1005.3 L374.1 1005.3 L374.7 1005.3 L375.2 1005.3 L375.8 1005.3 L376.4 1005.3 L377.0 1005.3 L377.6 1005.3 L378.2 1005.3 L378.8 1005.3 L379.4 1005.3 L380.1 1005.3 L380.7 1005.3 L381.3 1005.3 L382.0 1005.3 L382.6 1005.3 L383.2 1005.3 L383.9 1005.3 L384.6 1005.3 L385.2 1005.3 L385.9 1005.3 L386.6 1005.3 L387.2 1005.3 L387.9 1005.3 L388.6 1005.3 L389.3 1005.3 L390.0 1005.3 L390.7 1005.3 L391.4 1005.3 L392.1 1005.3 L392.9 1005.3 L393.6 1005.3 L394.3 1005.3 L395.1 1005.3 L395.8 1005.3 L396.5 1005.3 L397.3 1005.3 L398.1 1005.3 L398.8 1005.3 L399.6 1005.3 L400.4 1005.3 L401.2 1005.3 L401.9 1005.3 L402.7 1005.3 L403.5 1005.3 L404.3 1005.3 L405.1 1005.3 L405.9 1005.3 L406.8 1005.3 L407.6 1005.3 L408.4 1005.3 L409.2 1005.3 L410.1 1005.3 L410.9 1005.3 L411.8 1005.3 L412.6 1005.3 L413.5 1005.3 L414.4 1005.3 L415.2 1005.3 L416.1 1005.3 L417.0 1005.3 L417.9 1005.3 L418.8 1005.3 L419.7 1005.3 L420.6 1005.3 L421.5 1005.3 L422.4 1005.3 L423.3 1005.3 L424.2 1005.3 L425.2 1005.3 L426.1 1005.3 L427.0 1005.3 L428.0 1005.3 L428.9 1005.3 L429.9 1005.3 L430.9 1005.3 L431.8 1005.3 L432.8 1005.3 L433.8 1005.3 L434.8 1005.3 L435.7 1005.3 L436.7 1005.3 L437.7 1005.2 L438.7 1005.2 L439.7 1005.2 L440.8 1005.2 L441.8 1005.2 L442.8 1005.2 L443.8 1005.2 L444.9 1005.2 L445.9 1005.2 L447.0 1005.2 L448.0 1005.2 L449.1 1005.2 L450.1 1005.2 L451.2 1005.2 L452.3 1005.2 L453.4 1005.2 L454.4 1005.2 L455.5 1005.2 L456.6 1005.2 L457.7 1005.2 L458.8 1005.2 L459.9 1005.2 L461.1 1005.2 L462.2 1005.2 L463.3 1005.2 L464.4 1005.2 L465.6 1005.2 L466.7 1005.2 L467.9 1005.2 L469.0 1005.2 L470.2 1005.2 L471.3 1005.2 L472.5 1005.2 L473.7 1005.2 L474.9 1005.2 L476.0 1005.2 L477.2 1005.2 L478.4 1005.2 L479.6 1005.2 L480.8 1005.2 L482.0 1005.2 L483.3 1005.2 L484.5 1005.2 L485.7 1005.2 L486.9 1005.2 L488.2 1005.2 L489.4 1005.2 L490.7 1005.2 L491.9 1005.2 L493.2 1005.2 L494.5 1005.2 L495.7 1005.1 L497.0 1005.1 L498.3 1005.1 L499.6 1005.1 L500.9 1005.1 L502.2 1005.1 L503.5 1005.1 L504.8 1005.1 L506.1 1005.1 L507.4 1005.1 L508.7 1005.1 L510.1 1005.1 L511.4 1005.1 L512.7 1005.1 L514.1 1005.1 L515.4 1005.1 L516.8 1005.1 L518.1 1005.1 L519.5 1005.1 L520.9 1005.1 L522.3 1005.1 L523.6 1005.0 L525.0 1005.0 L526.4 1005.0 L527.8 1005.0 L529.2 1005.0 L530.6 1005.0 L532.0 1005.0 L533.5 1005.0 L534.9 1005.0 L536.3 1005.0 L537.8 1005.0 L539.2 1005.0 L540.6 1005.0 L542.1 1005.0 L543.5 1004.9 L545.0 1004.9 L546.5 1004.9 L547.9 1004.9 L549.4 1004.9 L550.9 1004.9 L552.4 1004.9 L553.9 1004.9 L555.4 1004.9 L556.9 1004.9 L558.4 1004.8 L559.9 1004.8 L561.4 1004.8 L563.0 1004.8 L564.5 1004.8 L566.0 1004.8 L567.6 1004.8 L569.1 1004.7 L570.7 1004.7 L572.2 1004.7 L573.8 1004.7 L575.4 1004.7 L576.9 1004.7 L578.5 1004.7 L580.1 1004.6 L581.7 1004.6 L583.3 1004.6 L584.9 1004.6 L586.5 1004.6 L588.1 1004.5 L589.7 1004.5 L591.4 1004.5 L593.0 1004.5 L594.6 1004.5 L596.2 1004.4 L597.9 1004.4 L599.5 1004.4 L601.2 1004.4 L602.9 1004.3 L604.5 1004.3 L606.2 1004.3 L607.9 1004.2 L609.5 1004.2 L611.2 1004.2 L612.9 1004.1 L614.6 1004.1 L616.3 1004.1 L618.0 1004.0 L619.7 1004.0 L621.5 1004.0 L623.2 1003.9 L624.9 1003.9 L626.6 1003.9 L628.4 1003.8 L630.1 1003.8 L631.9 1003.7 L633.6 1003.7 L635.4 1003.6 L637.2 1003.6 L638.9 1003.5 L640.7 1003.5 L642.5 1003.4 L644.3 1003.4 L646.1 1003.3 L647.9 1003.3 L649.7 1003.2 L651.5 1003.1 L653.3 1003.1 L655.1 1003.0 L656.9 1002.9 L658.8 1002.9 L660.6 1002.8 L662.4 1002.7 L664.3 1002.6 L666.1 1002.5 L668.0 1002.5 L669.9 1002.4 L671.7 1002.3 L673.6 1002.2 L675.5 1002.1 L677.3 1002.0 L679.2 1001.9 L681.1 1001.8 L683.0 1001.7 L684.9 1001.6 L686.8 1001.5 L688.8 1001.3 L690.7 1001.2 L692.6 1001.1 L694.5 1000.9 L696.5 1000.8 L698.4 1000.7 L700.4 1000.5 L702.3 1000.4 L704.3 1000.2 L706.2 1000.1 L708.2 999.9 L710.2 999.7 L712.2 999.5 L714.1 999.4 L716.1 999.2 L718.1 999.0 L720.1 998.8 L722.1 998.6 L724.1 998.3 L726.2 998.1 L728.2 997.9 L730.2 997.6 L732.2 997.4 L734.3 997.1 L736.3 996.9 L738.4 996.6 L740.4 996.3 L742.5 996.0 L744.5 995.7 L746.6 995.4 L748.7 995.1 L750.8 994.7 L752.8 994.4 L754.9 994.0 L757.0 993.7 L759.1 993.3 L761.2 992.9 L763.4 992.5 L765.5 992.1 L767.6 991.6 L769.7 991.2 L771.9 990.7 L774.0 990.2 L776.1 989.7 L778.3 989.2 L780.4 988.7 L782.6 988.1 L784.8 987.5 L786.9 987.0 L789.1 986.3 L791.3 985.7 L793.5 985.1 L795.7 984.4 L797.9 983.7 L800.1 983.0 L802.3 982.2 L804.5 981.5 L806.7 980.7 L808.9 979.9 L811.2 979.0 L813.4 978.2 L815.6 977.3 L817.9 976.3 L820.1 975.4 L822.4 974.4 L824.7 973.4 L826.9 972.4 L829.2 971.3 L831.5 970.2 L833.8 969.0 L836.0 967.8 L838.3 966.6 L840.6 965.4 L842.9 964.1 L845.2 962.7 L847.6 961.4 L849.9 960.0 L852.2 958.5 L854.5 957.0 L856.9 955.5 L859.2 953.9 L861.6 952.3 L863.9 950.7 L866.3 949.0 L868.6 947.2 L871.0 945.4 L873.4 943.6 L875.7 941.7 L878.1 939.8 L880.5 937.8 L882.9 935.8 L885.3 933.7 L887.7 931.6 L890.1 929.5 L892.5 927.3 L895.0 925.0 L897.4 922.8 L899.8 920.4 L902.3 918.1 L904.7 915.7 L907.1 913.2 L909.6 910.7 L912.1 908.2 L914.5 905.7 L917.0 903.1 L919.5 900.5 L921.9 897.8 L924.4 895.2 L926.9 892.5 L929.4 889.8 L931.9 887.0 L934.4 884.3 L936.9 881.6 L939.4 878.8 L942.0 876.1 L944.5 873.3 L947.0 870.6 L949.6 867.8 L952.1 865.1 L954.7 862.5 L957.2 859.8 L959.8 857.2 L962.3 854.6 L964.9 852.0 L967.5 849.6 L970.1 847.1 L972.7 844.8 L975.2 842.5 L977.8 840.2 L980.4 838.1 L983.0 836.0 L985.7 834.0 L988.3 832.2 L990.9 830.4 L993.5 828.7 L996.2 827.2 L998.8 825.8 L1001.5 824.5 L1004.1 823.3 L1006.8 822.2 L1009.4 821.3 L1012.1 820.5 L1014.8 819.9 L1017.4 819.4 L1020.1 819.1 L1022.8 818.9 L1025.5 818.8 L1028.2 818.9 L1030.9 819.2 L1033.6 819.6 L1036.3 820.1 L1039.0 820.8 L1041.8 821.7 L1044.5 822.7 L1047.2 823.8 L1050.0 825.1 L1052.7 826.5 L1055.5 828.0 L1058.2 829.7 L1061.0 831.5 L1063.7 833.4 L1066.5 835.4 L1069.3 837.5 L1072.1 839.7 L1074.9 842.1 L1077.7 844.5 L1080.5 847.0 L1083.3 849.5 L1086.1 852.2 L1088.9 854.9 L1091.7 857.6 L1094.5 860.4 L1097.4 863.3 L1100.2 866.2 L1103.0 869.1 L1105.9 872.1 L1108.7 875.1 L1111.6 878.0 L1114.5 881.0 L1117.3 884.0 L1120.2 887.0 L1123.1 890.0 L1126.0 893.0 L1128.9 896.0 L1131.8 898.9 L1134.7 901.9 L1137.6 904.8 L1140.5 907.6 L1143.4 910.5 L1146.3 913.3 L1149.2 916.0 L1152.2 918.8 L1155.1 921.4 L1158.1 924.1 L1161.0 926.6 L1164.0 929.2 L1166.9 931.7 L1169.9 934.1 L1172.8 936.5 L1175.8 938.8 L1178.8 941.1 L1181.8 943.3 L1184.8 945.4 L1187.8 947.6 L1190.8 949.6 L1193.8 951.6 L1196.8 953.5 L1199.8 955.4 L1202.8 957.3 L1205.9 959.0 L1208.9 960.8 L1211.9 962.4 L1215.0 964.1 L1218.0 965.6 L1221.1 967.2 L1224.1 968.6 L1227.2 970.1 L1230.3 971.4 L1233.4 972.8 L1236.4 974.1 L1239.5 975.3 L1242.6 976.5 L1245.7 977.7 L1248.8 978.8 L1251.9 979.9 L1255.0 980.9 L1258.2 981.9 L1261.3 982.9 L1264.4 983.8 L1267.5 984.7 L1270.7 985.6 L1273.8 986.4 L1277.0 987.2 L1280.1 987.9 L1283.3 988.7 L1286.5 989.4 L1289.6 990.1 L1292.8 990.7 L1296.0 991.3 L1299.2 991.9 L1302.4 992.5 L1305.6 993.1 L1308.8 993.6 L1312.0 994.1 L1315.2 994.6 L1318.4 995.1 L1321.6 995.5 L1324.9 996.0 L1328.1 996.4 L1331.4 996.8 L1334.6 997.2 L1337.9 997.5 L1341.1 997.9 L1344.4 998.2 L1347.6 998.5 L1350.9 998.8 L1354.2 999.1 L1357.5 999.4 L1360.8 999.7 L1364.1 999.9 L1367.4 1000.2 L1370.7 1000.4 L1374.0 1000.6 L1377.3 1000.8 L1380.6 1001.0 L1383.9 1001.2 L1387.3 1001.4 L1390.6 1001.6 L1393.9 1001.8 L1397.3 1001.9 L1400.7 1002.1 L1404.0 1002.3 L1407.4 1002.4 L1410.7 1002.5 L1414.1 1002.7 L1417.5 1002.8 L1420.9 1002.9 L1424.3 1003.0 L1427.7 1003.1 L1431.1 1003.2 L1434.5 1003.3 L1437.9 1003.4 L1441.3 1003.5 L1444.7 1003.6 L1448.2 1003.7 L1451.6 1003.8 L1455.0 1003.8 L1458.5 1003.9 L1461.9 1004.0 L1465.4 1004.0 L1468.8 1004.1 L1472.3 1004.2 L1475.8 1004.2 L1479.2 1004.3 L1482.7 1004.3 L1486.2 1004.4 L1489.7 1004.4 L1493.2 1004.4 L1496.7 1004.5 L1500.2 1004.5 L1503.7 1004.6 L1507.2 1004.6 L1510.8 1004.6 L1514.3 1004.7 L1517.8 1004.7 L1521.4 1004.7 L1524.9 1004.8 L1528.5 1004.8 L1532.0 1004.8 L1535.6 1004.8 L1539.1 1004.9 L1542.7 1004.9 L1546.3 1004.9 L1549.9 1004.9 L1553.5 1004.9 L1557.1 1005.0 L1560.6 1005.0 L1564.3 1005.0 L1567.9 1005.0 L1571.5 1005.0 L1575.1 1005.0 L1578.7 1005.1 L1582.3 1005.1 L1586.0 1005.1 L1589.6 1005.1 L1593.3 1005.1 L1596.9 1005.1 L1600.6 1005.1 L1604.2 1005.1 L1607.9 1005.1 L1611.6 1005.1 L1615.3 1005.2 L1618.9 1005.2 L1622.6 1005.2 L1626.3 1005.2 L1630.0 1005.2 L1633.7 1005.2 L1637.4 1005.2 L1641.2 1005.2 L1644.9 1005.2 L1648.6 1005.2 L1648.6 1005.3 L343.6 1005.3 Z" fill="#ff0000"/>
<path d="M343.6 1005.3 L343.6 1005.3 L343.6 1005.3 L343.6 1005.3 L343.6 1005.3 L343.7 1005.3 L343.7 1005.3 L343.7 1005.3 L343.8 1005.3 L343.8 1005.3 L343.9 1005.3 L343.9 1005.3 L344.0 1005.3 L344.1 1005.3 L344.1 1005.3 L344.2 1005.3 L344.3 1005.3 L344.4 1005.3 L344.5 1005.3 L344.6 1005.3 L344.7 1005.3 L344.8 1005.3 L344.9 1005.3 L345.0 1005.3 L345.1 1005.3 L345.3 1005.3 L345.4 1005.3 L345.5 1005.3 L345.7 1005.3 L345.8 1005.3 L346.0 1005.3 L346.2 1005.3 L346.3 1005.3 L346.5 1005.3 L346.7 1005.3 L346.9 1005.3 L347.1 1005.3 L347.2 1005.3 L347.4 1005.3 L347.7 1005.3 L347.9 1005.3 L348.1 1005.3 L348.3 1005.3 L348.5 1005.3 L348.8 1005.3 L349.0 1005.3 L349.2 1005.3 L349.5 1005.3 L349.7 1005.3 L350.0 1005.3 L350.3 1005.3 L350.5 1005.3 L350.8 1005.3 L351.1 1005.3 L351.4 1005.3 L351.7 1005.3 L352.0 1005.3 L352.3 1005.3 L352.6 1005.3 L352.9 1005.3 L353.2 1005.3 L353.5 1005.3 L353.8 1005.3 L354.2 1005.3 L354.5 1005.3 L354.9 1005.3 L355.2 1005.3 L355.6 1005.3 L355.9 1005.3 L356.3 1005.3 L356.7 1005.3 L357.0 1005.3 L357.4 1005.3 L357.8 1005.3 L358.2 1005.3 L358.6 1005.3 L359.0 1005.3 L359.4 1005.3 L359.8 1005.3 L360.2 1005.3 L360.6 1005.3 L361.1 1005.3 L361.5 1005.3 L361.9 1005.3 L362.4 1005.3 L362.8 1005.3 L363.3 1005.3 L363.8 1005.3 L364.2 1005.3 L364.7 1005.3 L365.2 1005.3 L365.7 1005.3 L366.1 1005.3 L366.6 1005.3 L367.1 1005.3 L367.6 1005.3 L368.1 1005.3 L368.7 1005.3 L369.2 1005.3 L369.7 1005.3 L370.2 1005.3 L370.8 1005.3 L371.3 1005.3 L371.9 1005.3 L372.4 1005.3 L373.0 1005.3 L373.5 1005.3 L374.1 1005.3 L374.7 1005.3 L375.2 1005.3 L375.8 1005.3 L376.4 1005.3 L377.0 1005.3 L377.6 1005.3 L378.2 1005.3 L378.8 1005.3 L379.4 1005.3 L380.1 1005.3 L380.7 1005.3 L381.3 1005.3 L382.0 1005.3 L382.6 1005.3 L383.2 1005.3 L383.9 1005.3 L384.6 1005.3 L385.2 1005.3 L385.9 1005.3 L386.6 1005.3 L387.2 1005.3 L387.9 1005.3 L388.6 1005.3 L389.3 1005.3 L390.0 1005.3 L390.7 1005.3 L391.4 1005.3 L392.1 1005.3 L392.9 1005.3 L393.6 1005.3 L394.3 1005.3 L395.1 1005.3 L395.8 1005.3 L396.5 1005.3 L397.3 1005.3 L398.1 1005.3 L398.8 1005.3 L399.6 1005.3 L400.4 1005.3 L401.2 1005.3 L401.9 1005.3 L402.7 1005.3 L403.5 1005.3 L404.3 1005.3 L405.1 1005.3 L405.9 1005.3 L406.8 1005.3 L407.6 1005.3 L408.4 1005.3 L409.2 1005.3 L410.1 1005.3 L410.9 1005.3 L411.8 1005.3 L412.6 1005.3 L413.5 1005.3 L414.4 1005.3 L415.2 1005.3 L416.1 1005.3 L417.0 1005.3 L417.9 1005.3 L418.8 1005.3 L419.7 1005.3 L420.6 1005.3 L421.5 1005.3 L422.4 1005.3 L423.3 1005.3 L424.2 1005.3 L425.2 1005.3 L426.1 1005.3 L427.0 1005.3 L428.0 1005.3 L428.9 1005.3 L429.9 1005.3 L430.9 1005.3 L431.8 1005.3 L432.8 1005.3 L433.8 1005.3 L434.8 1005.3 L435.7 1005.3 L436.7 1005.3 L437.7 1005.3 L438.7 1005.3 L439.7 1005.3 L440.8 1005.3 L441.8 1005.3 L442.8 1005.3 L443.8 1005.3 L444.9 1005.3 L445.9 1005.3 L447.0 1005.3 L448.0 1005.3 L449.1 1005.3 L450.1 1005.3 L451.2 1005.3 L452.3 1005.3 L453.4 1005.3 L454.4 1005.3 L455.5 1005.3 L456.6 1005.3 L457.7 1005.3 L458.8 1005.3 L459.9 1005.3 L461.1 1005.3 L462.2 1005.3 L463.3 1005.3 L464.4 1005.3 L465.6 1005.3 L466.7 1005.3 L467.9 1005.3 L469.0 1005.3 L470.2 1005.3 L471.3 1005.3 L472.5 1005.3 L473.7 1005.3 L474.9 1005.3 L476.0 1005.3 L477.2 1005.3 L478.4 1005.3 L479.6 1005.3 L480.8 1005.3 L482.0 1005.3 L483.3 1005.3 L484.5 1005.3 L485.7 1005.3 L486.9 1005.3 L488.2 1005.3 L489.4 1005.3 L490.7 1005.3 L491.9 1005.3 L493.2 1005.3 L494.5 1005.3 L495.7 1005.3 L497.0 1005.3 L498.3 1005.3 L499.6 1005.3 L500.9 1005.3 L502.2 1005.3 L503.5 1005.3 L504.8 1005.3 L506.1 1005.3 L507.4 1005.3 L508.7 1005.3 L510.1 1005.3 L511.4 1005.3 L512.7 1005.3 L514.1 1005.3 L515.4 1005.3 L516.8 1005.3 L518.1 1005.3 L519.5 1005.3 L520.9 1005.3 L522.3 1005.3 L523.6 1005.3 L525.0 1005.3 L526.4 1005.3 L527.8 1005.3 L529.2 1005.3 L530.6 1005.3 L532.0 1005.3 L533.5 1005.3 L534.9 1005.3 L536.3 1005.3 L537.8 1005.3 L539.2 1005.3 L540.6 1005.3 L542.1 1005.3 L543.5 1005.3 L545.0 1005.3 L546.5 1005.3 L547.9 1005.3 L549.4 1005.3 L550.9 1005.3 L552.4 1005.3 L553.9 1005.3 L555.4 1005.3 L556.9 1005.3 L558.4 1005.3 L559.9 1005.3 L561.4 1005.3 L563.0 1005.3 L564.5 1005.3 L566.0 1005.3 L567.6 1005.3 L569.1 1005.3 L570.7 1005.3 L572.2 1005.3 L573.8 1005.3 L575.4 1005.3 L576.9 1005.3 L578.5 1005.3 L580.1 1005.3 L581.7 1005.3 L583.3 1005.3 L584.9 1005.3 L586.5 1005.3 L588.1 1005.3 L589.7 1005.3 L591.4 1005.3 L593.0 1005.3 L594.6 1005.3 L596.2 1005.3 L597.9 1005.3 L599.5 1005.3 L601.2 1005.3 L602.9 1005.3 L604.5 1005.3 L606.2 1005.3 L607.9 1005.3 L609.5 1005.3 L611.2 1005.3 L612.9 1005.3 L614.6 1005.3 L616.3 1005.3 L618.0 1005.3 L619.7 1005.3 L621.5 1005.3 L623.2 1005.3 L624.9 1005.3 L626.6 1005.3 L628.4 1005.3 L630.1 1005.3 L631.9 1005.3 L633.6 1005.3 L635.4 1005.3 L637.2 1005.3 L638.9 1005.3 L640.7 1005.3 L642.5 1005.3 L644.3 1005.3 L646.1 1005.3 L647.9 1005.3 L649.7 1005.3 L651.5 1005.3 L653.3 1005.3 L655.1 1005.3 L656.9 1005.3 L658.8 1005.3 L660.6 1005.3 L662.4 1005.3 L664.3 1005.3 L666.1 1005.3 L668.0 1005.3 L669.9 1005.3 L671.7 1005.3 L673.6 1005.3 L675.5 1005.3 L677.3 1005.3 L679.2 1005.3 L681.1 1005.3 L683.0 1005.3 L684.9 1005.3 L686.8 1005.3 L688.8 1005.3 L690.7 1005.3 L692.6 1005.3 L694.5 1005.3 L696.5 1005.3 L698.4 1005.3 L700.4 1005.3 L702.3 1005.3 L704.3 1005.3 L706.2 1005.3 L708.2 1005.3 L710.2 1005.3 L712.2 1005.3 L714.1 1005.3 L716.1 1005.3 L718.1 1005.3 L720.1 1005.3 L722.1 1005.3 L724.1 1005.3 L726.2 1005.3 L728.2 1005.2 L730.2 1005.2 L732.2 1005.2 L734.3 1005.2 L736.3 1005.2 L738.4 1005.2 L740.4 1005.2 L742.5 1005.2 L744.5 1005.2 L746.6 1005.2 L748.7 1005.2 L750.8 1005.2 L752.8 1005.2 L754.9 1005.2 L757.0 1005.2 L759.1 1005.2 L761.2 1005.2 L763.4 1005.2 L765.5 1005.2 L767.6 1005.2 L769.7 1005.2 L771.9 1005.2 L774.0 1005.2 L776.1 1005.2 L778.3 1005.2 L780.4 1005.2 L782.6 1005.2 L784.8 1005.2 L786.9 1005.2 L789.1 1005.2 L791.3 1005.2 L793.5 1005.2 L795.7 1005.1 L797.9 1005.1 L800.1 1005.1 L802.3 1005.1 L804.5 1005.1 L806.7 1005.1 L808.9 1005.1 L811.2 1005.1 L813.4 1005.1 L815.6 1005.1 L817.9 1005.1 L820.1 1005.1 L822.4 1005.1 L824.7 1005.1 L826.9 1005.1 L829.2 1005.0 L831.5 1005.0 L833.8 1005.0 L836.0 1005.0 L838.3 1005.0 L840.6 1005.0 L842.9 1005.0 L845.2 1005.0 L847.6 1005.0 L849.9 1004.9 L852.2 1004.9 L854.5 1004.9 L856.9 1004.9 L859.2 1004.9 L861.6 1004.9 L863.9 1004.9 L866.3 1004.8 L868.6 1004.8 L871.0 1004.8 L873.4 1004.8 L875.7 1004.8 L878.1 1004.7 L880.5 1004.7 L882.9 1004.7 L885.3 1004.7 L887.7 1004.7 L890.1 1004.6 L892.5 1004.6 L895.0 1004.6 L897.4 1004.5 L899.8 1004.5 L902.3 1004.5 L904.7 1004.5 L907.1 1004.4 L909.6 1004.4 L912.1 1004.3 L914.5 1004.3 L917.0 1004.3 L919.5 1004.2 L921.9 1004.2 L924.4 1004.1 L926.9 1004.1 L929.4 1004.1 L931.9 1004.0 L934.4 1004.0 L936.9 1003.9 L939.4 1003.8 L942.0 1003.8 L944.5 1003.7 L947.0 1003.7 L949.6 1003.6 L952.1 1003.5 L954.7 1003.5 L957.2 1003.4 L959.8 1003.3 L962.3 1003.2 L964.9 1003.1 L967.5 1003.0 L970.1 1003.0 L972.7 1002.9 L975.2 1002.8 L977.8 1002.7 L980.4 1002.5 L983.0 1002.4 L985.7 1002.3 L988.3 1002.2 L990.9 1002.1 L993.5 1001.9 L996.2 1001.8 L998.8 1001.6 L1001.5 1001.5 L1004.1 1001.3 L1006.8 1001.2 L1009.4 1001.0 L1012.1 1000.8 L1014.8 1000.6 L1017.4 1000.4 L1020.1 1000.2 L1022.8 1000.0 L1025.5 999.8 L1028.2 999.5 L1030.9 999.3 L1033.6 999.0 L1036.3 998.8 L1039.0 998.5 L1041.8 998.2 L1044.5 997.9 L1047.2 997.6 L1050.0 997.3 L1052.7 996.9 L1055.5 996.6 L1058.2 996.2 L1061.0 995.8 L1063.7 995.4 L1066.5 995.0 L1069.3 994.5 L1072.1 994.1 L1074.9 993.6 L1077.7 993.1 L1080.5 992.6 L1083.3 992.0 L1086.1 991.4 L1088.9 990.9 L1091.7 990.2 L1094.5 989.6 L1097.4 988.9 L1100.2 988.2 L1103.0 987.5 L1105.9 986.7 L1108.7 985.9 L1111.6 985.1 L1114.5 984.2 L1117.3 983.3 L1120.2 982.4 L1123.1 981.4 L1126.0 980.4 L1128.9 979.3 L1131.8 978.2 L1134.7 977.0 L1137.6 975.8 L1140.5 974.6 L1143.4 973.3 L1146.3 971.9 L1149.2 970.5 L1152.2 969.0 L1155.1 967.5 L1158.1 965.9 L1161.0 964.3 L1164.0 962.5 L1166.9 960.8 L1169.9 958.9 L1172.8 957.0 L1175.8 955.0 L1178.8 953.0 L1181.8 950.8 L1184.8 948.6 L1187.8 946.4 L1190.8 944.0 L1193.8 941.5 L1196.8 939.0 L1199.8 936.4 L1202.8 933.7 L1205.9 931.0 L1208.9 928.1 L1211.9 925.2 L1215.0 922.1 L1218.0 919.0 L1221.1 915.8 L1224.1 912.5 L1227.2 909.2 L1230.3 905.7 L1233.4 902.2 L1236.4 898.6 L1239.5 894.9 L1242.6 891.2 L1245.7 887.4 L1248.8 883.5 L1251.9 879.6 L1255.0 875.6 L1258.2 871.5 L1261.3 867.5 L1264.4 863.4 L1267.5 859.2 L1270.7 855.1 L1273.8 850.9 L1277.0 846.8 L1280.1 842.6 L1283.3 838.5 L1286.5 834.4 L1289.6 830.3 L1292.8 826.3 L1296.0 822.4 L1299.2 818.6 L1302.4 814.8 L1305.6 811.1 L1308.8 807.6 L1312.0 804.2 L1315.2 801.0 L1318.4 797.9 L1321.6 795.0 L1324.9 792.2 L1328.1 789.7 L1331.4 787.4 L1334.6 785.2 L1337.9 783.4 L1341.1 781.7 L1344.4 780.3 L1347.6 779.2 L1350.9 778.3 L1354.2 777.7 L1357.5 777.3 L1360.8 777.2 L1364.1 777.4 L1367.4 777.9 L1370.7 778.6 L1374.0 779.6 L1377.3 780.9 L1380.6 782.4 L1383.9 784.2 L1387.3 786.2 L1390.6 788.5 L1393.9 791.0 L1397.3 793.7 L1400.7 796.6 L1404.0 799.7 L1407.4 803.0 L1410.7 806.4 L1414.1 810.0 L1417.5 813.8 L1420.9 817.7 L1424.3 821.6 L1427.7 825.7 L1431.1 829.9 L1434.5 834.2 L1437.9 838.5 L1441.3 842.8 L1444.7 847.2 L1448.2 851.6 L1451.6 856.0 L1455.0 860.4 L1458.5 864.8 L1461.9 869.2 L1465.4 873.6 L1468.8 877.9 L1472.3 882.1 L1475.8 886.3 L1479.2 890.5 L1482.7 894.6 L1486.2 898.6 L1489.7 902.5 L1493.2 906.3 L1496.7 910.1 L1500.2 913.8 L1503.7 917.3 L1507.2 920.8 L1510.8 924.2 L1514.3 927.5 L1517.8 930.7 L1521.4 933.8 L1524.9 936.8 L1528.5 939.7 L1532.0 942.5 L1535.6 945.2 L1539.1 947.9 L1542.7 950.4 L1546.3 952.8 L1549.9 955.2 L1553.5 957.4 L1557.1 959.6 L1560.6 961.7 L1564.3 963.7 L1567.9 965.6 L1571.5 967.5 L1575.1 969.3 L1578.7 971.0 L1582.3 972.6 L1586.0 974.2 L1589.6 975.7 L1593.3 977.1 L1596.9 978.5 L1600.6 979.8 L1604.2 981.0 L1607.9 982.2 L1611.6 983.3 L1615.3 984.4 L1618.9 985.5 L1622.6 986.4 L1626.3 987.4 L1630.0 988.3 L1633.7 989.1 L1637.4 990.0 L1641.2 990.7 L1644.9 991.5 L1648.6 992.2 L1648.6 1005.3 L343.6 1005.3 Z" fill="#ff0000"/>
<path d="M343.6 1005.3 L343.6 1004.9 L343.6 1004.6 L343.6 1004.2 L343.6 1003.8 L343.7 1003.5 L343.7 1003.1 L343.7 1002.7 L343.8 1002.3 L343.8 1002.0 L343.9 1001.6 L343.9 1001.2 L344.0 1000.9 L344.1 1000.5 L344.1 1000.1 L344.2 999.8 L344.3 999.4 L344.4 999.0 L344.5 998.6 L344.6 998.3 L344.7 997.9 L344.8 997.5 L344.9 997.2 L345.0 996.8 L345.1 996.4 L345.3 996.1 L345.4 995.7 L345.5 995.3 L345.7 995.0 L345.8 994.6 L346.0 994.2 L346.2 993.8 L346.3 993.5 L346.5 993.1 L346.7 992.7 L346.9 992.4 L347.1 992.0 L347.2 991.6 L347.4 991.3 L347.7 990.9 L347.9 990.5 L348.1 990.2 L348.3 989.8 L348.5 989.4 L348.8 989.1 L349.0 988.7 L349.2 988.3 L349.5 988.0 L349.7 987.6 L350.0 987.2 L350.3 986.9 L350.5 986.5 L350.8 986.1 L351.1 985.8 L351.4 985.4 L351.7 985.0 L352.0 984.7 L352.3 984.3 L352.6 984.0 L352.9 983.6 L353.2 983.2 L353.5 982.9 L353.8 982.5 L354.2 982.2 L354.5 981.8 L354.9 981.4 L355.2 981.1 L355.6 980.7 L355.9 980.4 L356.3 980.0 L356.7 979.7 L357.0 979.3 L357.4 979.0 L357.8 978.6 L358.2 978.3 L358.6 977.9 L359.0 977.6 L359.4 977.2 L359.8 976.9 L360.2 976.5 L360.6 976.2 L361.1 975.9 L361.5 975.5 L361.9 975.2 L362.4 974.9 L362.8 974.5 L363.3 974.2 L363.8 973.9 L364.2 973.5 L364.7 973.2 L365.2 972.9 L365.7 972.6 L366.1 972.2 L366.6 971.9 L367.1 971.6 L367.6 971.3 L368.1 971.0 L368.7 970.7 L369.2 970.4 L369.7 970.0 L370.2 969.7 L370.8 969.4 L371.3 969.1 L371.9 968.9 L372.4 968.6 L373.0 968.3 L373.5 968.0 L374.1 967.7 L374.7 967.4 L375.2 967.2 L375.8 966.9 L376.4 966.6 L377.0 966.3 L377.6 966.1 L378.2 965.8 L378.8 965.6 L379.4 965.3 L380.1 965.1 L380.7 964.8 L381.3 964.6 L382.0 964.3 L382.6 964.1 L383.2 963.9 L383.9 963.7 L384.6 963.4 L385.2 963.2 L385.9 963.0 L386.6 962.8 L387.2 962.6 L387.9 962.4 L388.6 962.2 L389.3 962.0 L390.0 961.9 L390.7 961.7 L391.4 961.5 L392.1 961.3 L392.9 961.2 L393.6 961.0 L394.3 960.9 L395.1 960.7 L395.8 960.6 L396.5 960.5 L397.3 960.3 L398.1 960.2 L398.8 960.1 L399.6 960.0 L400.4 959.9 L401.2 959.8 L401.9 959.7 L402.7 959.6 L403.5 959.5 L404.3 959.4 L405.1 959.4 L405.9 959.3 L406.8 959.2 L407.6 959.2 L408.4 959.1 L409.2 959.1 L410.1 959.1 L410.9 959.0 L411.8 959.0 L412.6 959.0 L413.5 959.0 L414.4 959.0 L415.2 959.0 L416.1 959.0 L417.0 959.0 L417.9 959.1 L418.8 959.1 L419.7 959.1 L420.6 959.2 L421.5 959.2 L422.4 959.3 L423.3 959.4 L424.2 959.4 L425.2 959.5 L426.1 959.6 L427.0 959.7 L428.0 959.8 L428.9 959.9 L429.9 960.0 L430.9 960.1 L431.8 960.2 L432.8 960.3 L433.8 960.5 L434.8 960.6 L435.7 960.8 L436.7 960.9 L437.7 961.1 L438.7 961.2 L439.7 961.4 L440.8 961.6 L441.8 961.8 L442.8 961.9 L443.8 962.1 L444.9 962.3 L445.9 962.5 L447.0 962.7 L448.0 963.0 L449.1 963.2 L450.1 963.4 L451.2 963.6 L452.3 963.9 L453.4 964.1 L454.4 964.3 L455.5 964.6 L456.6 964.8 L457.7 965.1 L458.8 965.4 L459.9 965.6 L461.1 965.9 L462.2 966.2 L463.3 966.4 L464.4 966.7 L465.6 967.0 L466.7 967.3 L467.9 967.6 L469.0 967.9 L470.2 968.2 L471.3 968.5 L472.5 968.8 L473.7 969.1 L474.9 969.4 L476.0 969.7 L477.2 970.0 L478.4 970.3 L479.6 970.7 L480.8 971.0 L482.0 971.3 L483.3 971.6 L484.5 971.9 L485.7 972.3 L486.9 972.6 L488.2 972.9 L489.4 973.3 L490.7 973.6 L491.9 973.9 L493.2 974.3 L494.5 974.6 L495.7 974.9 L497.0 975.3 L498.3 975.6 L499.6 976.0 L500.9 976.3 L502.2 976.6 L503.5 977.0 L504.8 977.3 L506.1 977.6 L507.4 978.0 L508.7 978.3 L510.1 978.7 L511.4 979.0 L512.7 979.3 L514.1 979.7 L515.4 980.0 L516.8 980.3 L518.1 980.7 L519.5 981.0 L520.9 981.3 L522.3 981.7 L523.6 982.0 L525.0 982.3 L526.4 982.6 L527.8 983.0 L529.2 983.3 L530.6 983.6 L532.0 983.9 L533.5 984.2 L534.9 984.5 L536.3 984.9 L537.8 985.2 L539.2 985.5 L540.6 985.8 L542.1 986.1 L543.5 986.4 L545.0 986.7 L546.5 987.0 L547.9 987.3 L549.4 987.6 L550.9 987.9 L552.4 988.1 L553.9 988.4 L555.4 988.7 L556.9 989.0 L558.4 989.3 L559.9 989.5 L561.4 989.8 L563.0 990.1 L564.5 990.3 L566.0 990.6 L567.6 990.9 L569.1 991.1 L570.7 991.4 L572.2 991.6 L573.8 991.9 L575.4 992.1 L576.9 992.4 L578.5 992.6 L580.1 992.8 L581.7 993.1 L583.3 993.3 L584.9 993.5 L586.5 993.7 L588.1 994.0 L589.7 994.2 L591.4 994.4 L593.0 994.6 L594.6 994.8 L596.2 995.0 L597.9 995.2 L599.5 995.4 L601.2 995.6 L602.9 995.8 L604.5 996.0 L606.2 996.2 L607.9 996.4 L609.5 996.6 L611.2 996.8 L612.9 996.9 L614.6 997.1 L616.3 997.3 L618.0 997.4 L619.7 997.6 L621.5 997.8 L623.2 997.9 L624.9 998.1 L626.6 998.3 L628.4 998.4 L630.1 998.6 L631.9 998.7 L633.6 998.8 L635.4 999.0 L637.2 999.1 L638.9 999.3 L640.7 999.4 L642.5 999.5 L644.3 999.7 L646.1 999.8 L647.9 999.9 L649.7 1000.0 L651.5 1000.2 L653.3 1000.3 L655.1 1000.4 L656.9 1000.5 L658.8 1000.6 L660.6 1000.7 L662.4 1000.8 L664.3 1001.0 L666.1 1001.1 L668.0 1001.2 L669.9 1001.3 L671.7 1001.4 L673.6 1001.4 L675.5 1001.5 L677.3 1001.6 L679.2 1001.7 L681.1 1001.8 L683.0 1001.9 L684.9 1002.0 L686.8 1002.1 L688.8 1002.1 L690.7 1002.2 L692.6 1002.3 L694.5 1002.4 L696.5 1002.5 L698.4 1002.5 L700.4 1002.6 L702.3 1002.7 L704.3 1002.7 L706.2 1002.8 L708.2 1002.9 L710.2 1002.9 L712.2 1003.0 L714.1 1003.0 L716.1 1003.1 L718.1 1003.2 L720.1 1003.2 L722.1 1003.3 L724.1 1003.3 L726.2 1003.4 L728.2 1003.4 L730.2 1003.5 L732.2 1003.5 L734.3 1003.6 L736.3 1003.6 L738.4 1003.7 L740.4 1003.7 L742.5 1003.8 L744.5 1003.8 L746.6 1003.8 L748.7 1003.9 L750.8 1003.9 L752.8 1004.0 L754.9 1004.0 L757.0 1004.0 L759.1 1004.1 L761.2 1004.1 L763.4 1004.1 L765.5 1004.2 L767.6 1004.2 L769.7 1004.2 L771.9 1004.3 L774.0 1004.3 L776.1 1004.3 L778.3 1004.4 L780.4 1004.4 L782.6 1004.4 L784.8 1004.4 L786.9 1004.5 L789.1 1004.5 L791.3 1004.5 L793.5 1004.5 L795.7 1004.6 L797.9 1004.6 L800.1 1004.6 L802.3 1004.6 L804.5 1004.6 L806.7 1004.7 L808.9 1004.7 L811.2 1004.7 L813.4 1004.7 L815.6 1004.7 L817.9 1004.7 L820.1 1004.8 L822.4 1004.8 L824.7 1004.8 L826.9 1004.8 L829.2 1004.8 L831.5 1004.8 L833.8 1004.9 L836.0 1004.9 L838.3 1004.9 L840.6 1004.9 L842.9 1004.9 L845.2 1004.9 L847.6 1004.9 L849.9 1004.9 L852.2 1005.0 L854.5 1005.0 L856.9 1005.0 L859.2 1005.0 L861.6 1005.0 L863.9 1005.0 L866.3 1005.0 L868.6 1005.0 L871.0 1005.0 L873.4 1005.0 L875.7 1005.1 L878.1 1005.1 L880.5 1005.1 L882.9 1005.1 L885.3 1005.1 L887.7 1005.1 L890.1 1005.1 L892.5 1005.1 L895.0 1005.1 L897.4 1005.1 L899.8 1005.1 L902.3 1005.1 L904.7 1005.1 L907.1 1005.1 L909.6 1005.1 L912.1 1005.2 L914.5 1005.2 L917.0 1005.2 L919.5 1005.2 L921.9 1005.2 L924.4 1005.2 L926.9 1005.2 L929.4 1005.2 L931.9 1005.2 L934.4 1005.2 L936.9 1005.2 L939.4 1005.2 L942.0 1005.2 L944.5 1005.2 L947.0 1005.2 L949.6 1005.2 L952.1 1005.2 L954.7 1005.2 L957.2 1005.2 L959.8 1005.2 L962.3 1005.2 L964.9 1005.2 L967.5 1005.2 L970.1 1005.2 L972.7 1005.2 L975.2 1005.2 L977.8 1005.2 L980.4 1005.2 L983.0 1005.2 L985.7 1005.2 L988.3 1005.2 L990.9 1005.3 L993.5 1005.3 L996.2 1005.3 L998.8 1005.3 L1001.5 1005.3 L1004.1 1005.3 L1006.8 1005.3 L1009.4 1005.3 L1012.1 1005.3 L1014.8 1005.3 L1017.4 1005.3 L1020.1 1005.3 L1022.8 1005.3 L1025.5 1005.3 L1028.2 1005.3 L1030.9 1005.3 L1033.6 1005.3 L1036.3 1005.3 L1039.0 1005.3 L1041.8 1005.3 L1044.5 1005.3 L1047.2 1005.3 L1050.0 1005.3 L1052.7 1005.3 L1055.5 1005.3 L1058.2 1005.3 L1061.0 1005.3 L1063.7 1005.3 L1066.5 1005.3 L1069.3 1005.3 L1072.1 1005.3 L1074.9 1005.3 L1077.7 1005.3 L1080.5 1005.3 L1083.3 1005.3 L1086.1 1005.3 L1088.9 1005.3 L1091.7 1005.3 L1094.5 1005.3 L1097.4 1005.3 L1100.2 1005.3 L1103.0 1005.3 L1105.9 1005.3 L1108.7 1005.3 L1111.6 1005.3 L1114.5 1005.3 L1117.3 1005.3 L1120.2 1005.3 L1123.1 1005.3 L1126.0 1005.3 L1128.9 1005.3 L1131.8 1005.3 L1134.7 1005.3 L1137.6 1005.3 L1140.5 1005.3 L1143.4 1005.3 L1146.3 1005.3 L1149.2 1005.3 L1152.2 1005.3 L1155.1 1005.3 L1158.1 1005.3 L1161.0 1005.3 L1164.0 1005.3 L1166.9 1005.3 L1169.9 1005.3 L1172.8 1005.3 L1175.8 1005.3 L1178.8 1005.3 L1181.8 1005.3 L1184.8 1005.3 L1187.8 1005.3 L1190.8 1005.3 L1193.8 1005.3 L1196.8 1005.3 L1199.8 1005.3 L1202.8 1005.3 L1205.9 1005.3 L1208.9 1005.3 L1211.9 1005.3 L1215.0 1005.3 L1218.0 1005.3 L1221.1 1005.3 L1224.1 1005.3 L1227.2 1005.3 L1230.3 1005.3 L1233.4 1005.3 L1236.4 1005.3 L1239.5 1005.3 L1242.6 1005.3 L1245.7 1005.3 L1248.8 1005.3 L1251.9 1005.3 L1255.0 1005.3 L1258.2 1005.3 L1261.3 1005.3 L1264.4 1005.3 L1267.5 1005.3 L1270.7 1005.3 L1273.8 1005.3 L1277.0 1005.3 L1280.1 1005.3 L1283.3 1005.3 L1286.5 1005.3 L1289.6 1005.3 L1292.8 1005.3 L1296.0 1005.3 L1299.2 1005.3 L1302.4 1005.3 L1305.6 1005.3 L1308.8 1005.3 L1312.0 1005.3 L1315.2 1005.3 L1318.4 1005.3 L1321.6 1005.3 L1324.9 1005.3 L1328.1 1005.3 L1331.4 1005.3 L1334.6 1005.3 L1337.9 1005.3 L1341.1 1005.3 L1344.4 1005.3 L1347.6 1005.3 L1350.9 1005.3 L1354.2 1005.3 L1357.5 1005.3 L1360.8 1005.3 L1364.1 1005.3 L1367.4 1005.3 L1370.7 1005.3 L1374.0 1005.3 L1377.3 1005.3 L1380.6 1005.3 L1383.9 1005.3 L1387.3 1005.3 L1390.6 1005.3 L1393.9 1005.3 L1397.3 1005.3 L1400.7 1005.3 L1404.0 1005.3 L1407.4 1005.3 L1410.7 1005.3 L1414.1 1005.3 L1417.5 1005.3 L1420.9 1005.3 L1424.3 1005.3 L1427.7 1005.3 L1431.1 1005.3 L1434.5 1005.3 L1437.9 1005.3 L1441.3 1005.3 L1444.7 1005.3 L1448.2 1005.3 L1451.6 1005.3 L1455.0 1005.3 L1458.5 1005.3 L1461.9 1005.3 L1465.4 1005.3 L1468.8 1005.3 L1472.3 1005.3 L1475.8 1005.3 L1479.2 1005.3 L1482.7 1005.3 L1486.2 1005.3 L1489.7 1005.3 L1493.2 1005.3 L1496.7 1005.3 L1500.2 1005.3 L1503.7 1005.3 L1507.2 1005.3 L1510.8 1005.3 L1514.3 1005.3 L1517.8 1005.3 L1521.4 1005.3 L1524.9 1005.3 L1528.5 1005.3 L1532.0 1005.3 L1535.6 1005.3 L1539.1 1005.3 L1542.7 1005.3 L1546.3 1005.3 L1549.9 1005.3 L1553.5 1005.3 L1557.1 1005.3 L1560.6 1005.3 L1564.3 1005.3 L1567.9 1005.3 L1571.5 1005.3 L1575.1 1005.3 L1578.7 1005.3 L1582.3 1005.3 L1586.0 1005.3 L1589.6 1005.3 L1593.3 1005.3 L1596.9 1005.3 L1600.6 1005.3 L1604.2 1005.3 L1607.9 1005.3 L1611.6 1005.3 L1615.3 1005.3 L1618.9 1005.3 L1622.6 1005.3 L1626.3 1005.3 L1630.0 1005.3 L1633.7 1005.3 L1637.4 1005.3 L1641.2 1005.3 L1644.9 1005.3 L1648.6 1005.3" fill="none" stroke="#000" stroke-width="3.5" stroke-linejoin="round"/>
<path d="M343.6 1005.3 L343.6 1005.3 L343.6 1005.3 L343.6 1005.3 L343.6 1005.3 L343.7 1005.3 L343.7 1005.2 L343.7 1005.2 L343.8 1005.2 L343.8 1005.2 L343.9 1005.2 L343.9 1005.2 L344.0 1005.2 L344.1 1005.2 L344.1 1005.2 L344.2 1005.2 L344.3 1005.1 L344.4 1005.1 L344.5 1005.1 L344.6 1005.1 L344.7 1005.1 L344.8 1005.1 L344.9 1005.1 L345.0 1005.1 L345.1 1005.1 L345.3 1005.0 L345.4 1005.0 L345.5 1005.0 L345.7 1005.0 L345.8 1005.0 L346.0 1005.0 L346.2 1005.0 L346.3 1005.0 L346.5 1005.0 L346.7 1005.0 L346.9 1004.9 L347.1 1004.9 L347.2 1004.9 L347.4 1004.9 L347.7 1004.9 L347.9 1004.9 L348.1 1004.9 L348.3 1004.9 L348.5 1004.8 L348.8 1004.8 L349.0 1004.8 L349.2 1004.8 L349.5 1004.8 L349.7 1004.8 L350.0 1004.8 L350.3 1004.8 L350.5 1004.7 L350.8 1004.7 L351.1 1004.7 L351.4 1004.7 L351.7 1004.7 L352.0 1004.7 L352.3 1004.7 L352.6 1004.7 L352.9 1004.6 L353.2 1004.6 L353.5 1004.6 L353.8 1004.6 L354.2 1004.6 L354.5 1004.6 L354.9 1004.5 L355.2 1004.5 L355.6 1004.5 L355.9 1004.5 L356.3 1004.5 L356.7 1004.5 L357.0 1004.5 L357.4 1004.4 L357.8 1004.4 L358.2 1004.4 L358.6 1004.4 L359.0 1004.4 L359.4 1004.3 L359.8 1004.3 L360.2 1004.3 L360.6 1004.3 L361.1 1004.3 L361.5 1004.3 L361.9 1004.2 L362.4 1004.2 L362.8 1004.2 L363.3 1004.2 L363.8 1004.2 L364.2 1004.1 L364.7 1004.1 L365.2 1004.1 L365.7 1004.1 L366.1 1004.0 L366.6 1004.0 L367.1 1004.0 L367.6 1004.0 L368.1 1004.0 L368.7 1003.9 L369.2 1003.9 L369.7 1003.9 L370.2 1003.9 L370.8 1003.8 L371.3 1003.8 L371.9 1003.8 L372.4 1003.7 L373.0 1003.7 L373.5 1003.7 L374.1 1003.7 L374.7 1003.6 L375.2 1003.6 L375.8 1003.6 L376.4 1003.5 L377.0 1003.5 L377.6 1003.5 L378.2 1003.4 L378.8 1003.4 L379.4 1003.4 L380.1 1003.3 L380.7 1003.3 L381.3 1003.3 L382.0 1003.2 L382.6 1003.2 L383.2 1003.2 L383.9 1003.1 L384.6 1003.1 L385.2 1003.0 L385.9 1003.0 L386.6 1003.0 L387.2 1002.9 L387.9 1002.9 L388.6 1002.8 L389.3 1002.8 L390.0 1002.8 L390.7 1002.7 L391.4 1002.7 L392.1 1002.6 L392.9 1002.6 L393.6 1002.5 L394.3 1002.5 L395.1 1002.4 L395.8 1002.4 L396.5 1002.3 L397.3 1002.3 L398.1 1002.2 L398.8 1002.1 L399.6 1002.1 L400.4 1002.0 L401.2 1002.0 L401.9 1001.9 L402.7 1001.8 L403.5 1001.8 L404.3 1001.7 L405.1 1001.7 L405.9 1001.6 L406.8 1001.5 L407.6 1001.4 L408.4 1001.4 L409.2 1001.3 L410.1 1001.2 L410.9 1001.2 L411.8 1001.1 L412.6 1001.0 L413.5 1000.9 L414.4 1000.8 L415.2 1000.8 L416.1 1000.7 L417.0 1000.6 L417.9 1000.5 L418.8 1000.4 L419.7 1000.3 L420.6 1000.2 L421.5 1000.1 L422.4 1000.0 L423.3 999.9 L424.2 999.8 L425.2 999.7 L426.1 999.6 L427.0 999.5 L428.0 999.4 L428.9 999.3 L429.9 999.2 L430.9 999.0 L431.8 998.9 L432.8 998.8 L433.8 998.7 L434.8 998.5 L435.7 998.4 L436.7 998.3 L437.7 998.1 L438.7 998.0 L439.7 997.9 L440.8 997.7 L441.8 997.6 L442.8 997.4 L443.8 997.2 L444.9 997.1 L445.9 996.9 L447.0 996.8 L448.0 996.6 L449.1 996.4 L450.1 996.2 L451.2 996.1 L452.3 995.9 L453.4 995.7 L454.4 995.5 L455.5 995.3 L456.6 995.1 L457.7 994.9 L458.8 994.7 L459.9 994.5 L461.1 994.2 L462.2 994.0 L463.3 993.8 L464.4 993.5 L465.6 993.3 L466.7 993.1 L467.9 992.8 L469.0 992.6 L470.2 992.3 L471.3 992.0 L472.5 991.8 L473.7 991.5 L474.9 991.2 L476.0 990.9 L477.2 990.6 L478.4 990.3 L479.6 990.0 L480.8 989.7 L482.0 989.3 L483.3 989.0 L484.5 988.7 L485.7 988.3 L486.9 988.0 L488.2 987.6 L489.4 987.2 L490.7 986.9 L491.9 986.5 L493.2 986.1 L494.5 985.7 L495.7 985.3 L497.0 984.8 L498.3 984.4 L499.6 984.0 L500.9 983.5 L502.2 983.1 L503.5 982.6 L504.8 982.1 L506.1 981.6 L507.4 981.1 L508.7 980.6 L510.1 980.1 L511.4 979.6 L512.7 979.0 L514.1 978.5 L515.4 977.9 L516.8 977.3 L518.1 976.8 L519.5 976.2 L520.9 975.5 L522.3 974.9 L523.6 974.3 L525.0 973.6 L526.4 973.0 L527.8 972.3 L529.2 971.6 L530.6 970.9 L532.0 970.2 L533.5 969.5 L534.9 968.7 L536.3 968.0 L537.8 967.2 L539.2 966.4 L540.6 965.6 L542.1 964.8 L543.5 963.9 L545.0 963.1 L546.5 962.2 L547.9 961.4 L549.4 960.5 L550.9 959.6 L552.4 958.6 L553.9 957.7 L555.4 956.7 L556.9 955.8 L558.4 954.8 L559.9 953.8 L561.4 952.8 L563.0 951.7 L564.5 950.7 L566.0 949.6 L567.6 948.5 L569.1 947.4 L570.7 946.3 L572.2 945.2 L573.8 944.1 L575.4 942.9 L576.9 941.7 L578.5 940.6 L580.1 939.4 L581.7 938.2 L583.3 936.9 L584.9 935.7 L586.5 934.4 L588.1 933.2 L589.7 931.9 L591.4 930.6 L593.0 929.3 L594.6 928.0 L596.2 926.7 L597.9 925.4 L599.5 924.1 L601.2 922.7 L602.9 921.4 L604.5 920.0 L606.2 918.7 L607.9 917.3 L609.5 916.0 L611.2 914.6 L612.9 913.2 L614.6 911.9 L616.3 910.5 L618.0 909.1 L619.7 907.8 L621.5 906.4 L623.2 905.1 L624.9 903.7 L626.6 902.4 L628.4 901.1 L630.1 899.8 L631.9 898.5 L633.6 897.2 L635.4 895.9 L637.2 894.7 L638.9 893.4 L640.7 892.2 L642.5 891.0 L644.3 889.9 L646.1 888.7 L647.9 887.6 L649.7 886.5 L651.5 885.5 L653.3 884.4 L655.1 883.4 L656.9 882.5 L658.8 881.5 L660.6 880.7 L662.4 879.8 L664.3 879.0 L666.1 878.2 L668.0 877.5 L669.9 876.8 L671.7 876.2 L673.6 875.6 L675.5 875.1 L677.3 874.6 L679.2 874.1 L681.1 873.7 L683.0 873.4 L684.9 873.1 L686.8 872.9 L688.8 872.7 L690.7 872.6 L692.6 872.5 L694.5 872.5 L696.5 872.5 L698.4 872.6 L700.4 872.8 L702.3 873.0 L704.3 873.3 L706.2 873.6 L708.2 874.0 L710.2 874.4 L712.2 874.9 L714.1 875.5 L716.1 876.1 L718.1 876.7 L720.1 877.4 L722.1 878.2 L724.1 879.0 L726.2 879.8 L728.2 880.8 L730.2 881.7 L732.2 882.7 L734.3 883.7 L736.3 884.8 L738.4 886.0 L740.4 887.1 L742.5 888.3 L744.5 889.6 L746.6 890.8 L748.7 892.2 L750.8 893.5 L752.8 894.9 L754.9 896.3 L757.0 897.7 L759.1 899.1 L761.2 900.6 L763.4 902.1 L765.5 903.6 L767.6 905.1 L769.7 906.7 L771.9 908.2 L774.0 909.8 L776.1 911.4 L778.3 913.0 L780.4 914.6 L782.6 916.2 L784.8 917.8 L786.9 919.4 L789.1 921.0 L791.3 922.6 L793.5 924.2 L795.7 925.8 L797.9 927.4 L800.1 929.0 L802.3 930.5 L804.5 932.1 L806.7 933.7 L808.9 935.2 L811.2 936.7 L813.4 938.3 L815.6 939.8 L817.9 941.3 L820.1 942.8 L822.4 944.2 L824.7 945.7 L826.9 947.1 L829.2 948.5 L831.5 949.9 L833.8 951.3 L836.0 952.6 L838.3 953.9 L840.6 955.2 L842.9 956.5 L845.2 957.8 L847.6 959.0 L849.9 960.3 L852.2 961.5 L854.5 962.6 L856.9 963.8 L859.2 964.9 L861.6 966.1 L863.9 967.1 L866.3 968.2 L868.6 969.3 L871.0 970.3 L873.4 971.3 L875.7 972.3 L878.1 973.2 L880.5 974.2 L882.9 975.1 L885.3 976.0 L887.7 976.8 L890.1 977.7 L892.5 978.5 L895.0 979.3 L897.4 980.1 L899.8 980.9 L902.3 981.6 L904.7 982.4 L907.1 983.1 L909.6 983.8 L912.1 984.5 L914.5 985.1 L917.0 985.8 L919.5 986.4 L921.9 987.0 L924.4 987.6 L926.9 988.1 L929.4 988.7 L931.9 989.2 L934.4 989.8 L936.9 990.3 L939.4 990.8 L942.0 991.3 L944.5 991.7 L947.0 992.2 L949.6 992.6 L952.1 993.0 L954.7 993.5 L957.2 993.9 L959.8 994.3 L962.3 994.6 L964.9 995.0 L967.5 995.4 L970.1 995.7 L972.7 996.0 L975.2 996.3 L977.8 996.7 L980.4 997.0 L983.0 997.3 L985.7 997.5 L988.3 997.8 L990.9 998.1 L993.5 998.3 L996.2 998.6 L998.8 998.8 L1001.5 999.1 L1004.1 999.3 L1006.8 999.5 L1009.4 999.7 L1012.1 999.9 L1014.8 1000.1 L1017.4 1000.3 L1020.1 1000.5 L1022.8 1000.7 L1025.5 1000.8 L1028.2 1001.0 L1030.9 1001.1 L1033.6 1001.3 L1036.3 1001.5 L1039.0 1001.6 L1041.8 1001.7 L1044.5 1001.9 L1047.2 1002.0 L1050.0 1002.1 L1052.7 1002.2 L1055.5 1002.4 L1058.2 1002.5 L1061.0 1002.6 L1063.7 1002.7 L1066.5 1002.8 L1069.3 1002.9 L1072.1 1003.0 L1074.9 1003.1 L1077.7 1003.1 L1080.5 1003.2 L1083.3 1003.3 L1086.1 1003.4 L1088.9 1003.5 L1091.7 1003.5 L1094.5 1003.6 L1097.4 1003.7 L1100.2 1003.7 L1103.0 1003.8 L1105.9 1003.9 L1108.7 1003.9 L1111.6 1004.0 L1114.5 1004.0 L1117.3 1004.1 L1120.2 1004.1 L1123.1 1004.2 L1126.0 1004.2 L1128.9 1004.3 L1131.8 1004.3 L1134.7 1004.3 L1137.6 1004.4 L1140.5 1004.4 L1143.4 1004.4 L1146.3 1004.5 L1149.2 1004.5 L1152.2 1004.5 L1155.1 1004.6 L1158.1 1004.6 L1161.0 1004.6 L1164.0 1004.7 L1166.9 1004.7 L1169.9 1004.7 L1172.8 1004.7 L1175.8 1004.8 L1178.8 1004.8 L1181.8 1004.8 L1184.8 1004.8 L1187.8 1004.8 L1190.8 1004.9 L1193.8 1004.9 L1196.8 1004.9 L1199.8 1004.9 L1202.8 1004.9 L1205.9 1004.9 L1208.9 1005.0 L1211.9 1005.0 L1215.0 1005.0 L1218.0 1005.0 L1221.1 1005.0 L1224.1 1005.0 L1227.2 1005.0 L1230.3 1005.1 L1233.4 1005.1 L1236.4 1005.1 L1239.5 1005.1 L1242.6 1005.1 L1245.7 1005.1 L1248.8 1005.1 L1251.9 1005.1 L1255.0 1005.1 L1258.2 1005.1 L1261.3 1005.1 L1264.4 1005.1 L1267.5 1005.2 L1270.7 1005.2 L1273.8 1005.2 L1277.0 1005.2 L1280.1 1005.2 L1283.3 1005.2 L1286.5 1005.2 L1289.6 1005.2 L1292.8 1005.2 L1296.0 1005.2 L1299.2 1005.2 L1302.4 1005.2 L1305.6 1005.2 L1308.8 1005.2 L1312.0 1005.2 L1315.2 1005.2 L1318.4 1005.2 L1321.6 1005.2 L1324.9 1005.2 L1328.1 1005.2 L1331.4 1005.2 L1334.6 1005.2 L1337.9 1005.2 L1341.1 1005.2 L1344.4 1005.3 L1347.6 1005.3 L1350.9 1005.3 L1354.2 1005.3 L1357.5 1005.3 L1360.8 1005.3 L1364.1 1005.3 L1367.4 1005.3 L1370.7 1005.3 L1374.0 1005.3 L1377.3 1005.3 L1380.6 1005.3 L1383.9 1005.3 L1387.3 1005.3 L1390.6 1005.3 L1393.9 1005.3 L1397.3 1005.3 L1400.7 1005.3 L1404.0 1005.3 L1407.4 1005.3 L1410.7 1005.3 L1414.1 1005.3 L1417.5 1005.3 L1420.9 1005.3 L1424.3 1005.3 L1427.7 1005.3 L1431.1 1005.3 L1434.5 1005.3 L1437.9 1005.3 L1441.3 1005.3 L1444.7 1005.3 L1448.2 1005.3 L1451.6 1005.3 L1455.0 1005.3 L1458.5 1005.3 L1461.9 1005.3 L1465.4 1005.3 L1468.8 1005.3 L1472.3 1005.3 L1475.8 1005.3 L1479.2 1005.3 L1482.7 1005.3 L1486.2 1005.3 L1489.7 1005.3 L1493.2 1005.3 L1496.7 1005.3 L1500.2 1005.3 L1503.7 1005.3 L1507.2 1005.3 L1510.8 1005.3 L1514.3 1005.3 L1517.8 1005.3 L1521.4 1005.3 L1524.9 1005.3 L1528.5 1005.3 L1532.0 1005.3 L1535.6 1005.3 L1539.1 1005.3 L1542.7 1005.3 L1546.3 1005.3 L1549.9 1005.3 L1553.5 1005.3 L1557.1 1005.3 L1560.6 1005.3 L1564.3 1005.3 L1567.9 1005.3 L1571.5 1005.3 L1575.1 1005.3 L1578.7 1005.3 L1582.3 1005.3 L1586.0 1005.3 L1589.6 1005.3 L1593.3 1005.3 L1596.9 1005.3 L1600.6 1005.3 L1604.2 1005.3 L1607.9 1005.3 L1611.6 1005.3 L1615.3 1005.3 L1618.9 1005.3 L1622.6 1005.3 L1626.3 1005.3 L1630.0 1005.3 L1633.7 1005.3 L1637.4 1005.3 L1641.2 1005.3 L1644.9 1005.3 L1648.6 1005.3 L1648.6 1005.3 L343.6 1005.3 Z" fill="#ff0000" fill-opacity="0.35"/>
<path d="M343.6 1005.3 L343.6 1005.3 L343.6 1005.3 L343.6 1005.3 L343.6 1005.3 L343.7 1005.3 L343.7 1005.2 L343.7 1005.2 L343.8 1005.2 L343.8 1005.2 L343.9 1005.2 L343.9 1005.2 L344.0 1005.2 L344.1 1005.2 L344.1 1005.2 L344.2 1005.2 L344.3 1005.1 L344.4 1005.1 L344.5 1005.1 L344.6 1005.1 L344.7 1005.1 L344.8 1005.1 L344.9 1005.1 L345.0 1005.1 L345.1 1005.1 L345.3 1005.0 L345.4 1005.0 L345.5 1005.0 L345.7 1005.0 L345.8 1005.0 L346.0 1005.0 L346.2 1005.0 L346.3 1005.0 L346.5 1005.0 L346.7 1005.0 L346.9 1004.9 L347.1 1004.9 L347.2 1004.9 L347.4 1004.9 L347.7 1004.9 L347.9 1004.9 L348.1 1004.9 L348.3 1004.9 L348.5 1004.8 L348.8 1004.8 L349.0 1004.8 L349.2 1004.8 L349.5 1004.8 L349.7 1004.8 L350.0 1004.8 L350.3 1004.8 L350.5 1004.7 L350.8 1004.7 L351.1 1004.7 L351.4 1004.7 L351.7 1004.7 L352.0 1004.7 L352.3 1004.7 L352.6 1004.7 L352.9 1004.6 L353.2 1004.6 L353.5 1004.6 L353.8 1004.6 L354.2 1004.6 L354.5 1004.6 L354.9 1004.5 L355.2 1004.5 L355.6 1004.5 L355.9 1004.5 L356.3 1004.5 L356.7 1004.5 L357.0 1004.5 L357.4 1004.4 L357.8 1004.4 L358.2 1004.4 L358.6 1004.4 L359.0 1004.4 L359.4 1004.3 L359.8 1004.3 L360.2 1004.3 L360.6 1004.3 L361.1 1004.3 L361.5 1004.3 L361.9 1004.2 L362.4 1004.2 L362.8 1004.2 L363.3 1004.2 L363.8 1004.2 L364.2 1004.1 L364.7 1004.1 L365.2 1004.1 L365.7 1004.1 L366.1 1004.0 L366.6 1004.0 L367.1 1004.0 L367.6 1004.0 L368.1 1004.0 L368.7 1003.9 L369.2 1003.9 L369.7 1003.9 L370.2 1003.9 L370.8 1003.8 L371.3 1003.8 L371.9 1003.8 L372.4 1003.7 L373.0 1003.7 L373.5 1003.7 L374.1 1003.7 L374.7 1003.6 L375.2 1003.6 L375.8 1003.6 L376.4 1003.5 L377.0 1003.5 L377.6 1003.5 L378.2 1003.4 L378.8 1003.4 L379.4 1003.4 L380.1 1003.3 L380.7 1003.3 L381.3 1003.3 L382.0 1003.2 L382.6 1003.2 L383.2 1003.2 L383.9 1003.1 L384.6 1003.1 L385.2 1003.0 L385.9 1003.0 L386.6 1003.0 L387.2 1002.9 L387.9 1002.9 L388.6 1002.8 L389.3 1002.8 L390.0 1002.8 L390.7 1002.7 L391.4 1002.7 L392.1 1002.6 L392.9 1002.6 L393.6 1002.5 L394.3 1002.5 L395.1 1002.4 L395.8 1002.4 L396.5 1002.3 L397.3 1002.3 L398.1 1002.2 L398.8 1002.1 L399.6 1002.1 L400.4 1002.0 L401.2 1002.0 L401.9 1001.9 L402.7 1001.8 L403.5 1001.8 L404.3 1001.7 L405.1 1001.7 L405.9 1001.6 L406.8 1001.5 L407.6 1001.4 L408.4 1001.4 L409.2 1001.3 L410.1 1001.2 L410.9 1001.2 L411.8 1001.1 L412.6 1001.0 L413.5 1000.9 L414.4 1000.8 L415.2 1000.8 L416.1 1000.7 L417.0 1000.6 L417.9 1000.5 L418.8 1000.4 L419.7 1000.3 L420.6 1000.2 L421.5 1000.1 L422.4 1000.0 L423.3 999.9 L424.2 999.8 L425.2 999.7 L426.1 999.6 L427.0 999.5 L428.0 999.4 L428.9 999.3 L429.9 999.2 L430.9 999.0 L431.8 998.9 L432.8 998.8 L433.8 998.7 L434.8 998.5 L435.7 998.4 L436.7 998.3 L437.7 998.1 L438.7 998.0 L439.7 997.9 L440.8 997.7 L441.8 997.6 L442.8 997.4 L443.8 997.2 L444.9 997.1 L445.9 996.9 L447.0 996.8 L448.0 996.6 L449.1 996.4 L450.1 996.2 L451.2 996.1 L452.3 995.9 L453.4 995.7 L454.4 995.5 L455.5 995.3 L456.6 995.1 L457.7 994.9 L458.8 994.7 L459.9 994.5 L461.1 994.2 L462.2 994.0 L463.3 993.8 L464.4 993.5 L465.6 993.3 L466.7 993.1 L467.9 992.8 L469.0 992.6 L470.2 992.3 L471.3 992.0 L472.5 991.8 L473.7 991.5 L474.9 991.2 L476.0 990.9 L477.2 990.6 L478.4 990.3 L479.6 990.0 L480.8 989.7 L482.0 989.3 L483.3 989.0 L484.5 988.7 L485.7 988.3 L486.9 988.0 L488.2 987.6 L489.4 987.2 L490.7 986.9 L491.9 986.5 L493.2 986.1 L494.5 985.7 L495.7 985.3 L497.0 984.8 L498.3 984.4 L499.6 984.0 L500.9 983.5 L502.2 983.1 L503.5 982.6 L504.8 982.1 L506.1 981.6 L507.4 981.1 L508.7 980.6 L510.1 980.1 L511.4 979.6 L512.7 979.0 L514.1 978.5 L515.4 977.9 L516.8 977.3 L518.1 976.8 L519.5 976.2 L520.9 975.5 L522.3 974.9 L523.6 974.3 L525.0 973.6 L526.4 973.0 L527.8 972.3 L529.2 971.6 L530.6 970.9 L532.0 970.2 L533.5 969.5 L534.9 968.7 L536.3 968.0 L537.8 967.2 L539.2 966.4 L540.6 965.6 L542.1 964.8 L543.5 963.9 L545.0 963.1 L546.5 962.2 L547.9 961.4 L549.4 960.5 L550.9 959.6 L552.4 958.6 L553.9 957.7 L555.4 956.7 L556.9 955.8 L558.4 954.8 L559.9 953.8 L561.4 952.8 L563.0 951.7 L564.5 950.7 L566.0 949.6 L567.6 948.5 L569.1 947.4 L570.7 946.3 L572.2 945.2 L573.8 944.1 L575.4 942.9 L576.9 941.7 L578.5 940.6 L580.1 939.4 L581.7 938.2 L583.3 936.9 L584.9 935.7 L586.5 934.4 L588.1 933.2 L589.7 931.9 L591.4 930.6 L593.0 929.3 L594.6 928.0 L596.2 926.7 L597.9 925.4 L599.5 924.1 L601.2 922.7 L602.9 921.4 L604.5 920.0 L606.2 918.7 L607.9 917.3 L609.5 916.0 L611.2 914.6 L612.9 913.2 L614.6 911.9 L616.3 910.5 L618.0 909.1 L619.7 907.8 L621.5 906.4 L623.2 905.1 L624.9 903.7 L626.6 902.4 L628.4 901.1 L630.1 899.8 L631.9 898.5 L633.6 897.2 L635.4 895.9 L637.2 894.7 L638.9 893.4 L640.7 892.2 L642.5 891.0 L644.3 889.9 L646.1 888.7 L647.9 887.6 L649.7 886.5 L651.5 885.5 L653.3 884.4 L655.1 883.4 L656.9 882.5 L658.8 881.5 L660.6 880.7 L662.4 879.8 L664.3 879.0 L666.1 878.2 L668.0 877.5 L669.9 876.8 L671.7 876.2 L673.6 875.6 L675.5 875.1 L677.3 874.6 L679.2 874.1 L681.1 873.7 L683.0 873.4 L684.9 873.1 L686.8 872.9 L688.8 872.7 L690.7 872.6 L692.6 872.5 L694.5 872.5 L696.5 872.5 L698.4 872.6 L700.4 872.8 L702.3 873.0 L704.3 873.3 L706.2 873.6 L708.2 874.0 L710.2 874.4 L712.2 874.9 L714.1 875.5 L716.1 876.1 L718.1 876.7 L720.1 877.4 L722.1 878.2 L724.1 879.0 L726.2 879.8 L728.2 880.8 L730.2 881.7 L732.2 882.7 L734.3 883.7 L736.3 884.8 L738.4 886.0 L740.4 887.1 L742.5 888.3 L744.5 889.6 L746.6 890.8 L748.7 892.2 L750.8 893.5 L752.8 894.9 L754.9 896.3 L757.0 897.7 L759.1 899.1 L761.2 900.6 L763.4 902.1 L765.5 903.6 L767.6 905.1 L769.7 906.7 L771.9 908.2 L774.0 909.8 L776.1 911.4 L778.3 913.0 L780.4 914.6 L782.6 916.2 L784.8 917.8 L786.9 919.4 L789.1 921.0 L791.3 922.6 L793.5 924.2 L795.7 925.8 L797.9 927.4 L800.1 929.0 L802.3 930.5 L804.5 932.1 L806.7 933.7 L808.9 935.2 L811.2 936.7 L813.4 938.3 L815.6 939.8 L817.9 941.3 L820.1 942.8 L822.4 944.2 L824.7 945.7 L826.9 947.1 L829.2 948.5 L831.5 949.9 L833.8 951.3 L836.0 952.6 L838.3 953.9 L840.6 955.2 L842.9 956.5 L845.2 957.8 L847.6 959.0 L849.9 960.3 L852.2 961.5 L854.5 962.6 L856.9 963.8 L859.2 964.9 L861.6 966.1 L863.9 967.1 L866.3 968.2 L868.6 969.3 L871.0 970.3 L873.4 971.3 L875.7 972.3 L878.1 973.2 L880.5 974.2 L882.9 975.1 L885.3 976.0 L887.7 976.8 L890.1 977.7 L892.5 978.5 L895.0 979.3 L897.4 980.1 L899.8 980.9 L902.3 981.6 L904.7 982.4 L907.1 983.1 L909.6 983.8 L912.1 984.5 L914.5 985.1 L917.0 985.8 L919.5 986.4 L921.9 987.0 L924.4 987.6 L926.9 988.1 L929.4 988.7 L931.9 989.2 L934.4 989.8 L936.9 990.3 L939.4 990.8 L942.0 991.3 L944.5 991.7 L947.0 992.2 L949.6 992.6 L952.1 993.0 L954.7 993.5 L957.2 993.9 L959.8 994.3 L962.3 994.6 L964.9 995.0 L967.5 995.4 L970.1 995.7 L972.7 996.0 L975.2 996.3 L977.8 996.7 L980.4 997.0 L983.0 997.3 L985.7 997.5 L988.3 997.8 L990.9 998.1 L993.5 998.3 L996.2 998.6 L998.8 998.8 L1001.5 999.1 L1004.1 999.3 L1006.8 999.5 L1009.4 999.7 L1012.1 999.9 L1014.8 1000.1 L1017.4 1000.3 L1020.1 1000.5 L1022.8 1000.7 L1025.5 1000.8 L1028.2 1001.0 L1030.9 1001.1 L1033.6 1001.3 L1036.3 1001.5 L1039.0 1001.6 L1041.8 1001.7 L1044.5 1001.9 L1047.2 1002.0 L1050.0 1002.1 L1052.7 1002.2 L1055.5 1002.4 L1058.2 1002.5 L1061.0 1002.6 L1063.7 1002.7 L1066.5 1002.8 L1069.3 1002.9 L1072.1 1003.0 L1074.9 1003.1 L1077.7 1003.1 L1080.5 1003.2 L1083.3 1003.3 L1086.1 1003.4 L1088.9 1003.5 L1091.7 1003.5 L1094.5 1003.6 L1097.4 1003.7 L1100.2 1003.7 L1103.0 1003.8 L1105.9 1003.9 L1108.7 1003.9 L1111.6 1004.0 L1114.5 1004.0 L1117.3 1004.1 L1120.2 1004.1 L1123.1 1004.2 L1126.0 1004.2 L1128.9 1004.3 L1131.8 1004.3 L1134.7 1004.3 L1137.6 1004.4 L1140.5 1004.4 L1143.4 1004.4 L1146.3 1004.5 L1149.2 1004.5 L1152.2 1004.5 L1155.1 1004.6 L1158.1 1004.6 L1161.0 1004.6 L1164.0 1004.7 L1166.9 1004.7 L1169.9 1004.7 L1172.8 1004.7 L1175.8 1004.8 L1178.8 1004.8 L1181.8 1004.8 L1184.8 1004.8 L1187.8 1004.8 L1190.8 1004.9 L1193.8 1004.9 L1196.8 1004.9 L1199.8 1004.9 L1202.8 1004.9 L1205.9 1004.9 L1208.9 1005.0 L1211.9 1005.0 L1215.0 1005.0 L1218.0 1005.0 L1221.1 1005.0 L1224.1 1005.0 L1227.2 1005.0 L1230.3 1005.1 L1233.4 1005.1 L1236.4 1005.1 L1239.5 1005.1 L1242.6 1005.1 L1245.7 1005.1 L1248.8 1005.1 L1251.9 1005.1 L1255.0 1005.1 L1258.2 1005.1 L1261.3 1005.1 L1264.4 1005.1 L1267.5 1005.2 L1270.7 1005.2 L1273.8 1005.2 L1277.0 1005.2 L1280.1 1005.2 L1283.3 1005.2 L1286.5 1005.2 L1289.6 1005.2 L1292.8 1005.2 L1296.0 1005.2 L1299.2 1005.2 L1302.4 1005.2 L1305.6 1005.2 L1308.8 1005.2 L1312.0 1005.2 L1315.2 1005.2 L1318.4 1005.2 L1321.6 1005.2 L1324.9 1005.2 L1328.1 1005.2 L1331.4 1005.2 L1334.6 1005.2 L1337.9 1005.2 L1341.1 1005.2 L1344.4 1005.3 L1347.6 1005.3 L1350.9 1005.3 L1354.2 1005.3 L1357.5 1005.3 L1360.8 1005.3 L1364.1 1005.3 L1367.4 1005.3 L1370.7 1005.3 L1374.0 1005.3 L1377.3 1005.3 L1380.6 1005.3 L1383.9 1005.3 L1387.3 1005.3 L1390.6 1005.3 L1393.9 1005.3 L1397.3 1005.3 L1400.7 1005.3 L1404.0 1005.3 L1407.4 1005.3 L1410.7 1005.3 L1414.1 1005.3 L1417.5 1005.3 L1420.9 1005.3 L1424.3 1005.3 L1427.7 1005.3 L1431.1 1005.3 L1434.5 1005.3 L1437.9 1005.3 L1441.3 1005.3 L1444.7 1005.3 L1448.2 1005.3 L1451.6 1005.3 L1455.0 1005.3 L1458.5 1005.3 L1461.9 1005.3 L1465.4 1005.3 L1468.8 1005.3 L1472.3 1005.3 L1475.8 1005.3 L1479.2 1005.3 L1482.7 1005.3 L1486.2 1005.3 L1489.7 1005.3 L1493.2 1005.3 L1496.7 1005.3 L1500.2 1005.3 L1503.7 1005.3 L1507.2 1005.3 L1510.8 1005.3 L1514.3 1005.3 L1517.8 1005.3 L1521.4 1005.3 L1524.9 1005.3 L1528.5 1005.3 L1532.0 1005.3 L1535.6 1005.3 L1539.1 1005.3 L1542.7 1005.3 L1546.3 1005.3 L1549.9 1005.3 L1553.5 1005.3 L1557.1 1005.3 L1560.6 1005.3 L1564.3 1005.3 L1567.9 1005.3 L1571.5 1005.3 L1575.1 1005.3 L1578.7 1005.3 L1582.3 1005.3 L1586.0 1005.3 L1589.6 1005.3 L1593.3 1005.3 L1596.9 1005.3 L1600.6 1005.3 L1604.2 1005.3 L1607.9 1005.3 L1611.6 1005.3 L1615.3 1005.3 L1618.9 1005.3 L1622.6 1005.3 L1626.3 1005.3 L1630.0 1005.3 L1633.7 1005.3 L1637.4 1005.3 L1641.2 1005.3 L1644.9 1005.3 L1648.6 1005.3" fill="none" stroke="#000" stroke-width="3.5" stroke-linejoin="round"/>
<path d="M343.6 1005.3 L343.6 1005.3 L343.6 1005.3 L343.6 1005.3 L343.6 1005.3 L343.7 1005.3 L343.7 1005.3 L343.7 1005.3 L343.8 1005.3 L343.8 1005.3 L343.9 1005.3 L343.9 1005.3 L344.0 1005.3 L344.1 1005.3 L344.1 1005.3 L344.2 1005.3 L344.3 1005.3 L344.4 1005.3 L344.5 1005.3 L344.6 1005.3 L344.7 1005.3 L344.8 1005.3 L344.9 1005.3 L345.0 1005.3 L345.1 1005.3 L345.3 1005.3 L345.4 1005.3 L345.5 1005.3 L345.7 1005.3 L345.8 1005.3 L346.0 1005.3 L346.2 1005.3 L346.3 1005.3 L346.5 1005.3 L346.7 1005.3 L346.9 1005.3 L347.1 1005.3 L347.2 1005.3 L347.4 1005.3 L347.7 1005.3 L347.9 1005.3 L348.1 1005.3 L348.3 1005.3 L348.5 1005.3 L348.8 1005.3 L349.0 1005.3 L349.2 1005.3 L349.5 1005.3 L349.7 1005.3 L350.0 1005.3 L350.3 1005.3 L350.5 1005.3 L350.8 1005.3 L351.1 1005.3 L351.4 1005.3 L351.7 1005.3 L352.0 1005.3 L352.3 1005.3 L352.6 1005.3 L352.9 1005.3 L353.2 1005.3 L353.5 1005.3 L353.8 1005.3 L354.2 1005.3 L354.5 1005.3 L354.9 1005.3 L355.2 1005.3 L355.6 1005.3 L355.9 1005.3 L356.3 1005.3 L356.7 1005.3 L357.0 1005.3 L357.4 1005.3 L357.8 1005.3 L358.2 1005.3 L358.6 1005.3 L359.0 1005.3 L359.4 1005.3 L359.8 1005.3 L360.2 1005.3 L360.6 1005.3 L361.1 1005.3 L361.5 1005.3 L361.9 1005.3 L362.4 1005.3 L362.8 1005.3 L363.3 1005.3 L363.8 1005.3 L364.2 1005.3 L364.7 1005.3 L365.2 1005.3 L365.7 1005.3 L366.1 1005.3 L366.6 1005.3 L367.1 1005.3 L367.6 1005.3 L368.1 1005.3 L368.7 1005.3 L369.2 1005.3 L369.7 1005.3 L370.2 1005.3 L370.8 1005.3 L371.3 1005.3 L371.9 1005.3 L372.4 1005.3 L373.0 1005.3 L373.5 1005.3 L374.1 1005.3 L374.7 1005.3 L375.2 1005.3 L375.8 1005.3 L376.4 1005.3 L377.0 1005.3 L377.6 1005.3 L378.2 1005.3 L378.8 1005.3 L379.4 1005.3 L380.1 1005.3 L380.7 1005.3 L381.3 1005.3 L382.0 1005.3 L382.6 1005.3 L383.2 1005.3 L383.9 1005.3 L384.6 1005.3 L385.2 1005.3 L385.9 1005.3 L386.6 1005.3 L387.2 1005.3 L387.9 1005.3 L388.6 1005.3 L389.3 1005.3 L390.0 1005.3 L390.7 1005.3 L391.4 1005.3 L392.1 1005.3 L392.9 1005.3 L393.6 1005.3 L394.3 1005.3 L395.1 1005.3 L395.8 1005.3 L396.5 1005.3 L397.3 1005.3 L398.1 1005.3 L398.8 1005.3 L399.6 1005.3 L400.4 1005.3 L401.2 1005.3 L401.9 1005.3 L402.7 1005.3 L403.5 1005.3 L404.3 1005.3 L405.1 1005.3 L405.9 1005.3 L406.8 1005.3 L407.6 1005.3 L408.4 1005.3 L409.2 1005.3 L410.1 1005.3 L410.9 1005.3 L411.8 1005.3 L412.6 1005.3 L413.5 1005.3 L414.4 1005.3 L415.2 1005.3 L416.1 1005.3 L417.0 1005.3 L417.9 1005.3 L418.8 1005.3 L419.7 1005.3 L420.6 1005.3 L421.5 1005.3 L422.4 1005.3 L423.3 1005.3 L424.2 1005.3 L425.2 1005.3 L426.1 1005.3 L427.0 1005.3 L428.0 1005.3 L428.9 1005.3 L429.9 1005.3 L430.9 1005.3 L431.8 1005.3 L432.8 1005.3 L433.8 1005.3 L434.8 1005.3 L435.7 1005.3 L436.7 1005.3 L437.7 1005.2 L438.7 1005.2 L439.7 1005.2 L440.8 1005.2 L441.8 1005.2 L442.8 1005.2 L443.8 1005.2 L444.9 1005.2 L445.9 1005.2 L447.0 1005.2 L448.0 1005.2 L449.1 1005.2 L450.1 1005.2 L451.2 1005.2 L452.3 1005.2 L453.4 1005.2 L454.4 1005.2 L455.5 1005.2 L456.6 1005.2 L457.7 1005.2 L458.8 1005.2 L459.9 1005.2 L461.1 1005.2 L462.2 1005.2 L463.3 1005.2 L464.4 1005.2 L465.6 1005.2 L466.7 1005.2 L467.9 1005.2 L469.0 1005.2 L470.2 1005.2 L471.3 1005.2 L472.5 1005.2 L473.7 1005.2 L474.9 1005.2 L476.0 1005.2 L477.2 1005.2 L478.4 1005.2 L479.6 1005.2 L480.8 1005.2 L482.0 1005.2 L483.3 1005.2 L484.5 1005.2 L485.7 1005.2 L486.9 1005.2 L488.2 1005.2 L489.4 1005.2 L490.7 1005.2 L491.9 1005.2 L493.2 1005.2 L494.5 1005.2 L495.7 1005.1 L497.0 1005.1 L498.3 1005.1 L499.6 1005.1 L500.9 1005.1 L502.2 1005.1 L503.5 1005.1 L504.8 1005.1 L506.1 1005.1 L507.4 1005.1 L508.7 1005.1 L510.1 1005.1 L511.4 1005.1 L512.7 1005.1 L514.1 1005.1 L515.4 1005.1 L516.8 1005.1 L518.1 1005.1 L519.5 1005.1 L520.9 1005.1 L522.3 1005.1 L523.6 1005.0 L525.0 1005.0 L526.4 1005.0 L527.8 1005.0 L529.2 1005.0 L530.6 1005.0 L532.0 1005.0 L533.5 1005.0 L534.9 1005.0 L536.3 1005.0 L537.8 1005.0 L539.2 1005.0 L540.6 1005.0 L542.1 1005.0 L543.5 1004.9 L545.0 1004.9 L546.5 1004.9 L547.9 1004.9 L549.4 1004.9 L550.9 1004.9 L552.4 1004.9 L553.9 1004.9 L555.4 1004.9 L556.9 1004.9 L558.4 1004.8 L559.9 1004.8 L561.4 1004.8 L563.0 1004.8 L564.5 1004.8 L566.0 1004.8 L567.6 1004.8 L569.1 1004.7 L570.7 1004.7 L572.2 1004.7 L573.8 1004.7 L575.4 1004.7 L576.9 1004.7 L578.5 1004.7 L580.1 1004.6 L581.7 1004.6 L583.3 1004.6 L584.9 1004.6 L586.5 1004.6 L588.1 1004.5 L589.7 1004.5 L591.4 1004.5 L593.0 1004.5 L594.6 1004.5 L596.2 1004.4 L597.9 1004.4 L599.5 1004.4 L601.2 1004.4 L602.9 1004.3 L604.5 1004.3 L606.2 1004.3 L607.9 1004.2 L609.5 1004.2 L611.2 1004.2 L612.9 1004.1 L614.6 1004.1 L616.3 1004.1 L618.0 1004.0 L619.7 1004.0 L621.5 1004.0 L623.2 1003.9 L624.9 1003.9 L626.6 1003.9 L628.4 1003.8 L630.1 1003.8 L631.9 1003.7 L633.6 1003.7 L635.4 1003.6 L637.2 1003.6 L638.9 1003.5 L640.7 1003.5 L642.5 1003.4 L644.3 1003.4 L646.1 1003.3 L647.9 1003.3 L649.7 1003.2 L651.5 1003.1 L653.3 1003.1 L655.1 1003.0 L656.9 1002.9 L658.8 1002.9 L660.6 1002.8 L662.4 1002.7 L664.3 1002.6 L666.1 1002.5 L668.0 1002.5 L669.9 1002.4 L671.7 1002.3 L673.6 1002.2 L675.5 1002.1 L677.3 1002.0 L679.2 1001.9 L681.1 1001.8 L683.0 1001.7 L684.9 1001.6 L686.8 1001.5 L688.8 1001.3 L690.7 1001.2 L692.6 1001.1 L694.5 1000.9 L696.5 1000.8 L698.4 1000.7 L700.4 1000.5 L702.3 1000.4 L704.3 1000.2 L706.2 1000.1 L708.2 999.9 L710.2 999.7 L712.2 999.5 L714.1 999.4 L716.1 999.2 L718.1 999.0 L720.1 998.8 L722.1 998.6 L724.1 998.3 L726.2 998.1 L728.2 997.9 L730.2 997.6 L732.2 997.4 L734.3 997.1 L736.3 996.9 L738.4 996.6 L740.4 996.3 L742.5 996.0 L744.5 995.7 L746.6 995.4 L748.7 995.1 L750.8 994.7 L752.8 994.4 L754.9 994.0 L757.0 993.7 L759.1 993.3 L761.2 992.9 L763.4 992.5 L765.5 992.1 L767.6 991.6 L769.7 991.2 L771.9 990.7 L774.0 990.2 L776.1 989.7 L778.3 989.2 L780.4 988.7 L782.6 988.1 L784.8 987.5 L786.9 987.0 L789.1 986.3 L791.3 985.7 L793.5 985.1 L795.7 984.4 L797.9 983.7 L800.1 983.0 L802.3 982.2 L804.5 981.5 L806.7 980.7 L808.9 979.9 L811.2 979.0 L813.4 978.2 L815.6 977.3 L817.9 976.3 L820.1 975.4 L822.4 974.4 L824.7 973.4 L826.9 972.4 L829.2 971.3 L831.5 970.2 L833.8 969.0 L836.0 967.8 L838.3 966.6 L840.6 965.4 L842.9 964.1 L845.2 962.7 L847.6 961.4 L849.9 960.0 L852.2 958.5 L854.5 957.0 L856.9 955.5 L859.2 953.9 L861.6 952.3 L863.9 950.7 L866.3 949.0 L868.6 947.2 L871.0 945.4 L873.4 943.6 L875.7 941.7 L878.1 939.8 L880.5 937.8 L882.9 935.8 L885.3 933.7 L887.7 931.6 L890.1 929.5 L892.5 927.3 L895.0 925.0 L897.4 922.8 L899.8 920.4 L902.3 918.1 L904.7 915.7 L907.1 913.2 L909.6 910.7 L912.1 908.2 L914.5 905.7 L917.0 903.1 L919.5 900.5 L921.9 897.8 L924.4 895.2 L926.9 892.5 L929.4 889.8 L931.9 887.0 L934.4 884.3 L936.9 881.6 L939.4 878.8 L942.0 876.1 L944.5 873.3 L947.0 870.6 L949.6 867.8 L952.1 865.1 L954.7 862.5 L957.2 859.8 L959.8 857.2 L962.3 854.6 L964.9 852.0 L967.5 849.6 L970.1 847.1 L972.7 844.8 L975.2 842.5 L977.8 840.2 L980.4 838.1 L983.0 836.0 L985.7 834.0 L988.3 832.2 L990.9 830.4 L993.5 828.7 L996.2 827.2 L998.8 825.8 L1001.5 824.5 L1004.1 823.3 L1006.8 822.2 L1009.4 821.3 L1012.1 820.5 L1014.8 819.9 L1017.4 819.4 L1020.1 819.1 L1022.8 818.9 L1025.5 818.8 L1028.2 818.9 L1030.9 819.2 L1033.6 819.6 L1036.3 820.1 L1039.0 820.8 L1041.8 821.7 L1044.5 822.7 L1047.2 823.8 L1050.0 825.1 L1052.7 826.5 L1055.5 828.0 L1058.2 829.7 L1061.0 831.5 L1063.7 833.4 L1066.5 835.4 L1069.3 837.5 L1072.1 839.7 L1074.9 842.1 L1077.7 844.5 L1080.5 847.0 L1083.3 849.5 L1086.1 852.2 L1088.9 854.9 L1091.7 857.6 L1094.5 860.4 L1097.4 863.3 L1100.2 866.2 L1103.0 869.1 L1105.9 872.1 L1108.7 875.1 L1111.6 878.0 L1114.5 881.0 L1117.3 884.0 L1120.2 887.0 L1123.1 890.0 L1126.0 893.0 L1128.9 896.0 L1131.8 898.9 L1134.7 901.9 L1137.6 904.8 L1140.5 907.6 L1143.4 910.5 L1146.3 913.3 L1149.2 916.0 L1152.2 918.8 L1155.1 921.4 L1158.1 924.1 L1161.0 926.6 L1164.0 929.2 L1166.9 931.7 L1169.9 934.1 L1172.8 936.5 L1175.8 938.8 L1178.8 941.1 L1181.8 943.3 L1184.8 945.4 L1187.8 947.6 L1190.8 949.6 L1193.8 951.6 L1196.8 953.5 L1199.8 955.4 L1202.8 957.3 L1205.9 959.0 L1208.9 960.8 L1211.9 962.4 L1215.0 964.1 L1218.0 965.6 L1221.1 967.2 L1224.1 968.6 L1227.2 970.1 L1230.3 971.4 L1233.4 972.8 L1236.4 974.1 L1239.5 975.3 L1242.6 976.5 L1245.7 977.7 L1248.8 978.8 L1251.9 979.9 L1255.0 980.9 L1258.2 981.9 L1261.3 982.9 L1264.4 983.8 L1267.5 984.7 L1270.7 985.6 L1273.8 986.4 L1277.0 987.2 L1280.1 987.9 L1283.3 988.7 L1286.5 989.4 L1289.6 990.1 L1292.8 990.7 L1296.0 991.3 L1299.2 991.9 L1302.4 992.5 L1305.6 993.1 L1308.8 993.6 L1312.0 994.1 L1315.2 994.6 L1318.4 995.1 L1321.6 995.5 L1324.9 996.0 L1328.1 996.4 L1331.4 996.8 L1334.6 997.2 L1337.9 997.5 L1341.1 997.9 L1344.4 998.2 L1347.6 998.5 L1350.9 998.8 L1354.2 999.1 L1357.5 999.4 L1360.8 999.7 L1364.1 999.9 L1367.4 1000.2 L1370.7 1000.4 L1374.0 1000.6 L1377.3 1000.8 L1380.6 1001.0 L1383.9 1001.2 L1387.3 1001.4 L1390.6 1001.6 L1393.9 1001.8 L1397.3 1001.9 L1400.7 1002.1 L1404.0 1002.3 L1407.4 1002.4 L1410.7 1002.5 L1414.1 1002.7 L1417.5 1002.8 L1420.9 1002.9 L1424.3 1003.0 L1427.7 1003.1 L1431.1 1003.2 L1434.5 1003.3 L1437.9 1003.4 L1441.3 1003.5 L1444.7 1003.6 L1448.2 1003.7 L1451.6 1003.8 L1455.0 1003.8 L1458.5 1003.9 L1461.9 1004.0 L1465.4 1004.0 L1468.8 1004.1 L1472.3 1004.2 L1475.8 1004.2 L1479.2 1004.3 L1482.7 1004.3 L1486.2 1004.4 L1489.7 1004.4 L1493.2 1004.4 L1496.7 1004.5 L1500.2 1004.5 L1503.7 1004.6 L1507.2 1004.6 L1510.8 1004.6 L1514.3 1004.7 L1517.8 1004.7 L1521.4 1004.7 L1524.9 1004.8 L1528.5 1004.8 L1532.0 1004.8 L1535.6 1004.8 L1539.1 1004.9 L1542.7 1004.9 L1546.3 1004.9 L1549.9 1004.9 L1553.5 1004.9 L1557.1 1005.0 L1560.6 1005.0 L1564.3 1005.0 L1567.9 1005.0 L1571.5 1005.0 L1575.1 1005.0 L1578.7 1005.1 L1582.3 1005.1 L1586.0 1005.1 L1589.6 1005.1 L1593.3 1005.1 L1596.9 1005.1 L1600.6 1005.1 L1604.2 1005.1 L1607.9 1005.1 L1611.6 1005.1 L1615.3 1005.2 L1618.9 1005.2 L1622.6 1005.2 L1626.3 1005.2 L1630.0 1005.2 L1633.7 1005.2 L1637.4 1005.2 L1641.2 1005.2 L1644.9 1005.2 L1648.6 1005.2 L1648.6 1005.3 L343.6 1005.3 Z" fill="#ff0000" fill-opacity="0.35"/>
<path d="M343.6 1005.3 L343.6 1005.3 L343.6 1005.3 L343.6 1005.3 L343.6 1005.3 L343.7 1005.3 L343.7 1005.3 L343.7 1005.3 L343.8 1005.3 L343.8 1005.3 L343.9 1005.3 L343.9 1005.3 L344.0 1005.3 L344.1 1005.3 L344.1 1005.3 L344.2 1005.3 L344.3 1005.3 L344.4 1005.3 L344.5 1005.3 L344.6 1005.3 L344.7 1005.3 L344.8 1005.3 L344.9 1005.3 L345.0 1005.3 L345.1 1005.3 L345.3 1005.3 L345.4 1005.3 L345.5 1005.3 L345.7 1005.3 L345.8 1005.3 L346.0 1005.3 L346.2 1005.3 L346.3 1005.3 L346.5 1005.3 L346.7 1005.3 L346.9 1005.3 L347.1 1005.3 L347.2 1005.3 L347.4 1005.3 L347.7 1005.3 L347.9 1005.3 L348.1 1005.3 L348.3 1005.3 L348.5 1005.3 L348.8 1005.3 L349.0 1005.3 L349.2 1005.3 L349.5 1005.3 L349.7 1005.3 L350.0 1005.3 L350.3 1005.3 L350.5 1005.3 L350.8 1005.3 L351.1 1005.3 L351.4 1005.3 L351.7 1005.3 L352.0 1005.3 L352.3 1005.3 L352.6 1005.3 L352.9 1005.3 L353.2 1005.3 L353.5 1005.3 L353.8 1005.3 L354.2 1005.3 L354.5 1005.3 L354.9 1005.3 L355.2 1005.3 L355.6 1005.3 L355.9 1005.3 L356.3 1005.3 L356.7 1005.3 L357.0 1005.3 L357.4 1005.3 L357.8 1005.3 L358.2 1005.3 L358.6 1005.3 L359.0 1005.3 L359.4 1005.3 L359.8 1005.3 L360.2 1005.3 L360.6 1005.3 L361.1 1005.3 L361.5 1005.3 L361.9 1005.3 L362.4 1005.3 L362.8 1005.3 L363.3 1005.3 L363.8 1005.3 L364.2 1005.3 L364.7 1005.3 L365.2 1005.3 L365.7 1005.3 L366.1 1005.3 L366.6 1005.3 L367.1 1005.3 L367.6 1005.3 L368.1 1005.3 L368.7 1005.3 L369.2 1005.3 L369.7 1005.3 L370.2 1005.3 L370.8 1005.3 L371.3 1005.3 L371.9 1005.3 L372.4 1005.3 L373.0 1005.3 L373.5 1005.3 L374.1 1005.3 L374.7 1005.3 L375.2 1005.3 L375.8 1005.3 L376.4 1005.3 L377.0 1005.3 L377.6 1005.3 L378.2 1005.3 L378.8 1005.3 L379.4 1005.3 L380.1 1005.3 L380.7 1005.3 L381.3 1005.3 L382.0 1005.3 L382.6 1005.3 L383.2 1005.3 L383.9 1005.3 L384.6 1005.3 L385.2 1005.3 L385.9 1005.3 L386.6 1005.3 L387.2 1005.3 L387.9 1005.3 L388.6 1005.3 L389.3 1005.3 L390.0 1005.3 L390.7 1005.3 L391.4 1005.3 L392.1 1005.3 L392.9 1005.3 L393.6 1005.3 L394.3 1005.3 L395.1 1005.3 L395.8 1005.3 L396.5 1005.3 L397.3 1005.3 L398.1 1005.3 L398.8 1005.3 L399.6 1005.3 L400.4 1005.3 L401.2 1005.3 L401.9 1005.3 L402.7 1005.3 L403.5 1005.3 L404.3 1005.3 L405.1 1005.3 L405.9 1005.3 L406.8 1005.3 L407.6 1005.3 L408.4 1005.3 L409.2 1005.3 L410.1 1005.3 L410.9 1005.3 L411.8 1005.3 L412.6 1005.3 L413.5 1005.3 L414.4 1005.3 L415.2 1005.3 L416.1 1005.3 L417.0 1005.3 L417.9 1005.3 L418.8 1005.3 L419.7 1005.3 L420.6 1005.3 L421.5 1005.3 L422.4 1005.3 L423.3 1005.3 L424.2 1005.3 L425.2 1005.3 L426.1 1005.3 L427.0 1005.3 L428.0 1005.3 L428.9 1005.3 L429.9 1005.3 L430.9 1005.3 L431.8 1005.3 L432.8 1005.3 L433.8 1005.3 L434.8 1005.3 L435.7 1005.3 L436.7 1005.3 L437.7 1005.2 L438.7 1005.2 L439.7 1005.2 L440.8 1005.2 L441.8 1005.2 L442.8 1005.2 L443.8 1005.2 L444.9 1005.2 L445.9 1005.2 L447.0 1005.2 L448.0 1005.2 L449.1 1005.2 L450.1 1005.2 L451.2 1005.2 L452.3 1005.2 L453.4 1005.2 L454.4 1005.2 L455.5 1005.2 L456.6 1005.2 L457.7 1005.2 L458.8 1005.2 L459.9 1005.2 L461.1 1005.2 L462.2 1005.2 L463.3 1005.2 L464.4 1005.2 L465.6 1005.2 L466.7 1005.2 L467.9 1005.2 L469.0 1005.2 L470.2 1005.2 L471.3 1005.2 L472.5 1005.2 L473.7 1005.2 L474.9 1005.2 L476.0 1005.2 L477.2 1005.2 L478.4 1005.2 L479.6 1005.2 L480.8 1005.2 L482.0 1005.2 L483.3 1005.2 L484.5 1005.2 L485.7 1005.2 L486.9 1005.2 L488.2 1005.2 L489.4 1005.2 L490.7 1005.2 L491.9 1005.2 L493.2 1005.2 L494.5 1005.2 L495.7 1005.1 L497.0 1005.1 L498.3 1005.1 L499.6 1005.1 L500.9 1005.1 L502.2 1005.1 L503.5 1005.1 L504.8 1005.1 L506.1 1005.1 L507.4 1005.1 L508.7 1005.1 L510.1 1005.1 L511.4 1005.1 L512.7 1005.1 L514.1 1005.1 L515.4 1005.1 L516.8 1005.1 L518.1 1005.1 L519.5 1005.1 L520.9 1005.1 L522.3 1005.1 L523.6 1005.0 L525.0 1005.0 L526.4 1005.0 L527.8 1005.0 L529.2 1005.0 L530.6 1005.0 L532.0 1005.0 L533.5 1005.0 L534.9 1005.0 L536.3 1005.0 L537.8 1005.0 L539.2 1005.0 L540.6 1005.0 L542.1 1005.0 L543.5 1004.9 L545.0 1004.9 L546.5 1004.9 L547.9 1004.9 L549.4 1004.9 L550.9 1004.9 L552.4 1004.9 L553.9 1004.9 L555.4 1004.9 L556.9 1004.9 L558.4 1004.8 L559.9 1004.8 L561.4 1004.8 L563.0 1004.8 L564.5 1004.8 L566.0 1004.8 L567.6 1004.8 L569.1 1004.7 L570.7 1004.7 L572.2 1004.7 L573.8 1004.7 L575.4 1004.7 L576.9 1004.7 L578.5 1004.7 L580.1 1004.6 L581.7 1004.6 L583.3 1004.6 L584.9 1004.6 L586.5 1004.6 L588.1 1004.5 L589.7 1004.5 L591.4 1004.5 L593.0 1004.5 L594.6 1004.5 L596.2 1004.4 L597.9 1004.4 L599.5 1004.4 L601.2 1004.4 L602.9 1004.3 L604.5 1004.3 L606.2 1004.3 L607.9 1004.2 L609.5 1004.2 L611.2 1004.2 L612.9 1004.1 L614.6 1004.1 L616.3 1004.1 L618.0 1004.0 L619.7 1004.0 L621.5 1004.0 L623.2 1003.9 L624.9 1003.9 L626.6 1003.9 L628.4 1003.8 L630.1 1003.8 L631.9 1003.7 L633.6 1003.7 L635.4 1003.6 L637.2 1003.6 L638.9 1003.5 L640.7 1003.5 L642.5 1003.4 L644.3 1003.4 L646.1 1003.3 L647.9 1003.3 L649.7 1003.2 L651.5 1003.1 L653.3 1003.1 L655.1 1003.0 L656.9 1002.9 L658.8 1002.9 L660.6 1002.8 L662.4 1002.7 L664.3 1002.6 L666.1 1002.5 L668.0 1002.5 L669.9 1002.4 L671.7 1002.3 L673.6 1002.2 L675.5 1002.1 L677.3 1002.0 L679.2 1001.9 L681.1 1001.8 L683.0 1001.7 L684.9 1001.6 L686.8 1001.5 L688.8 1001.3 L690.7 1001.2 L692.6 1001.1 L694.5 1000.9 L696.5 1000.8 L698.4 1000.7 L700.4 1000.5 L702.3 1000.4 L704.3 1000.2 L706.2 1000.1 L708.2 999.9 L710.2 999.7 L712.2 999.5 L714.1 999.4 L716.1 999.2 L718.1 999.0 L720.1 998.8 L722.1 998.6 L724.1 998.3 L726.2 998.1 L728.2 997.9 L730.2 997.6 L732.2 997.4 L734.3 997.1 L736.3 996.9 L738.4 996.6 L740.4 996.3 L742.5 996.0 L744.5 995.7 L746.6 995.4 L748.7 995.1 L750.8 994.7 L752.8 994.4 L754.9 994.0 L757.0 993.7 L759.1 993.3 L761.2 992.9 L763.4 992.5 L765.5 992.1 L767.6 991.6 L769.7 991.2 L771.9 990.7 L774.0 990.2 L776.1 989.7 L778.3 989.2 L780.4 988.7 L782.6 988.1 L784.8 987.5 L786.9 987.0 L789.1 986.3 L791.3 985.7 L793.5 985.1 L795.7 984.4 L797.9 983.7 L800.1 983.0 L802.3 982.2 L804.5 981.5 L806.7 980.7 L808.9 979.9 L811.2 979.0 L813.4 978.2 L815.6 977.3 L817.9 976.3 L820.1 975.4 L822.4 974.4 L824.7 973.4 L826.9 972.4 L829.2 971.3 L831.5 970.2 L833.8 969.0 L836.0 967.8 L838.3 966.6 L840.6 965.4 L842.9 964.1 L845.2 962.7 L847.6 961.4 L849.9 960.0 L852.2 958.5 L854.5 957.0 L856.9 955.5 L859.2 953.9 L861.6 952.3 L863.9 950.7 L866.3 949.0 L868.6 947.2 L871.0 945.4 L873.4 943.6 L875.7 941.7 L878.1 939.8 L880.5 937.8 L882.9 935.8 L885.3 933.7 L887.7 931.6 L890.1 929.5 L892.5 927.3 L895.0 925.0 L897.4 922.8 L899.8 920.4 L902.3 918.1 L904.7 915.7 L907.1 913.2 L909.6 910.7 L912.1 908.2 L914.5 905.7 L917.0 903.1 L919.5 900.5 L921.9 897.8 L924.4 895.2 L926.9 892.5 L929.4 889.8 L931.9 887.0 L934.4 884.3 L936.9 881.6 L939.4 878.8 L942.0 876.1 L944.5 873.3 L947.0 870.6 L949.6 867.8 L952.1 865.1 L954.7 862.5 L957.2 859.8 L959.8 857.2 L962.3 854.6 L964.9 852.0 L967.5 849.6 L970.1 847.1 L972.7 844.8 L975.2 842.5 L977.8 840.2 L980.4 838.1 L983.0 836.0 L985.7 834.0 L988.3 832.2 L990.9 830.4 L993.5 828.7 L996.2 827.2 L998.8 825.8 L1001.5 824.5 L1004.1 823.3 L1006.8 822.2 L1009.4 821.3 L1012.1 820.5 L1014.8 819.9 L1017.4 819.4 L1020.1 819.1 L1022.8 818.9 L1025.5 818.8 L1028.2 818.9 L1030.9 819.2 L1033.6 819.6 L1036.3 820.1 L1039.0 820.8 L1041.8 821.7 L1044.5 822.7 L1047.2 823.8 L1050.0 825.1 L1052.7 826.5 L1055.5 828.0 L1058.2 829.7 L1061.0 831.5 L1063.7 833.4 L1066.5 835.4 L1069.3 837.5 L1072.1 839.7 L1074.9 842.1 L1077.7 844.5 L1080.5 847.0 L1083.3 849.5 L1086.1 852.2 L1088.9 854.9 L1091.7 857.6 L1094.5 860.4 L1097.4 863.3 L1100.2 866.2 L1103.0 869.1 L1105.9 872.1 L1108.7 875.1 L1111.6 878.0 L1114.5 881.0 L1117.3 884.0 L1120.2 887.0 L1123.1 890.0 L1126.0 893.0 L1128.9 896.0 L1131.8 898.9 L1134.7 901.9 L1137.6 904.8 L1140.5 907.6 L1143.4 910.5 L1146.3 913.3 L1149.2 916.0 L1152.2 918.8 L1155.1 921.4 L1158.1 924.1 L1161.0 926.6 L1164.0 929.2 L1166.9 931.7 L1169.9 934.1 L1172.8 936.5 L1175.8 938.8 L1178.8 941.1 L1181.8 943.3 L1184.8 945.4 L1187.8 947.6 L1190.8 949.6 L1193.8 951.6 L1196.8 953.5 L1199.8 955.4 L1202.8 957.3 L1205.9 959.0 L1208.9 960.8 L1211.9 962.4 L1215.0 964.1 L1218.0 965.6 L1221.1 967.2 L1224.1 968.6 L1227.2 970.1 L1230.3 971.4 L1233.4 972.8 L1236.4 974.1 L1239.5 975.3 L1242.6 976.5 L1245.7 977.7 L1248.8 978.8 L1251.9 979.9 L1255.0 980.9 L1258.2 981.9 L1261.3 982.9 L1264.4 983.8 L1267.5 984.7 L1270.7 985.6 L1273.8 986.4 L1277.0 987.2 L1280.1 987.9 L1283.3 988.7 L1286.5 989.4 L1289.6 990.1 L1292.8 990.7 L1296.0 991.3 L1299.2 991.9 L1302.4 992.5 L1305.6 993.1 L1308.8 993.6 L1312.0 994.1 L1315.2 994.6 L1318.4 995.1 L1321.6 995.5 L1324.9 996.0 L1328.1 996.4 L1331.4 996.8 L1334.6 997.2 L1337.9 997.5 L1341.1 997.9 L1344.4 998.2 L1347.6 998.5 L1350.9 998.8 L1354.2 999.1 L1357.5 999.4 L1360.8 999.7 L1364.1 999.9 L1367.4 1000.2 L1370.7 1000.4 L1374.0 1000.6 L1377.3 1000.8 L1380.6 1001.0 L1383.9 1001.2 L1387.3 1001.4 L1390.6 1001.6 L1393.9 1001.8 L1397.3 1001.9 L1400.7 1002.1 L1404.0 1002.3 L1407.4 1002.4 L1410.7 1002.5 L1414.1 1002.7 L1417.5 1002.8 L1420.9 1002.9 L1424.3 1003.0 L1427.7 1003.1 L1431.1 1003.2 L1434.5 1003.3 L1437.9 1003.4 L1441.3 1003.5 L1444.7 1003.6 L1448.2 1003.7 L1451.6 1003.8 L1455.0 1003.8 L1458.5 1003.9 L1461.9 1004.0 L1465.4 1004.0 L1468.8 1004.1 L1472.3 1004.2 L1475.8 1004.2 L1479.2 1004.3 L1482.7 1004.3 L1486.2 1004.4 L1489.7 1004.4 L1493.2 1004.4 L1496.7 1004.5 L1500.2 1004.5 L1503.7 1004.6 L1507.2 1004.6 L1510.8 1004.6 L1514.3 1004.7 L1517.8 1004.7 L1521.4 1004.7 L1524.9 1004.8 L1528.5 1004.8 L1532.0 1004.8 L1535.6 1004.8 L1539.1 1004.9 L1542.7 1004.9 L1546.3 1004.9 L1549.9 1004.9 L1553.5 1004.9 L1557.1 1005.0 L1560.6 1005.0 L1564.3 1005.0 L1567.9 1005.0 L1571.5 1005.0 L1575.1 1005.0 L1578.7 1005.1 L1582.3 1005.1 L1586.0 1005.1 L1589.6 1005.1 L1593.3 1005.1 L1596.9 1005.1 L1600.6 1005.1 L1604.2 1005.1 L1607.9 1005.1 L1611.6 1005.1 L1615.3 1005.2 L1618.9 1005.2 L1622.6 1005.2 L1626.3 1005.2 L1630.0 1005.2 L1633.7 1005.2 L1637.4 1005.2 L1641.2 1005.2 L1644.9 1005.2 L1648.6 1005.2" fill="none" stroke="#000" stroke-width="3.5" stroke-linejoin="round"/>
<path d="M343.6 1005.3 L343.6 1005.3 L343.6 1005.3 L343.6 1005.3 L343.6 1005.3 L343.7 1005.3 L343.7 1005.3 L343.7 1005.3 L343.8 1005.3 L343.8 1005.3 L343.9 1005.3 L343.9 1005.3 L344.0 1005.3 L344.1 1005.3 L344.1 1005.3 L344.2 1005.3 L344.3 1005.3 L344.4 1005.3 L344.5 1005.3 L344.6 1005.3 L344.7 1005.3 L344.8 1005.3 L344.9 1005.3 L345.0 1005.3 L345.1 1005.3 L345.3 1005.3 L345.4 1005.3 L345.5 1005.3 L345.7 1005.3 L345.8 1005.3 L346.0 1005.3 L346.2 1005.3 L346.3 1005.3 L346.5 1005.3 L346.7 1005.3 L346.9 1005.3 L347.1 1005.3 L347.2 1005.3 L347.4 1005.3 L347.7 1005.3 L347.9 1005.3 L348.1 1005.3 L348.3 1005.3 L348.5 1005.3 L348.8 1005.3 L349.0 1005.3 L349.2 1005.3 L349.5 1005.3 L349.7 1005.3 L350.0 1005.3 L350.3 1005.3 L350.5 1005.3 L350.8 1005.3 L351.1 1005.3 L351.4 1005.3 L351.7 1005.3 L352.0 1005.3 L352.3 1005.3 L352.6 1005.3 L352.9 1005.3 L353.2 1005.3 L353.5 1005.3 L353.8 1005.3 L354.2 1005.3 L354.5 1005.3 L354.9 1005.3 L355.2 1005.3 L355.6 1005.3 L355.9 1005.3 L356.3 1005.3 L356.7 1005.3 L357.0 1005.3 L357.4 1005.3 L357.8 1005.3 L358.2 1005.3 L358.6 1005.3 L359.0 1005.3 L359.4 1005.3 L359.8 1005.3 L360.2 1005.3 L360.6 1005.3 L361.1 1005.3 L361.5 1005.3 L361.9 1005.3 L362.4 1005.3 L362.8 1005.3 L363.3 1005.3 L363.8 1005.3 L364.2 1005.3 L364.7 1005.3 L365.2 1005.3 L365.7 1005.3 L366.1 1005.3 L366.6 1005.3 L367.1 1005.3 L367.6 1005.3 L368.1 1005.3 L368.7 1005.3 L369.2 1005.3 L369.7 1005.3 L370.2 1005.3 L370.8 1005.3 L371.3 1005.3 L371.9 1005.3 L372.4 1005.3 L373.0 1005.3 L373.5 1005.3 L374.1 1005.3 L374.7 1005.3 L375.2 1005.3 L375.8 1005.3 L376.4 1005.3 L377.0 1005.3 L377.6 1005.3 L378.2 1005.3 L378.8 1005.3 L379.4 1005.3 L380.1 1005.3 L380.7 1005.3 L381.3 1005.3 L382.0 1005.3 L382.6 1005.3 L383.2 1005.3 L383.9 1005.3 L384.6 1005.3 L385.2 1005.3 L385.9 1005.3 L386.6 1005.3 L387.2 1005.3 L387.9 1005.3 L388.6 1005.3 L389.3 1005.3 L390.0 1005.3 L390.7 1005.3 L391.4 1005.3 L392.1 1005.3 L392.9 1005.3 L393.6 1005.3 L394.3 1005.3 L395.1 1005.3 L395.8 1005.3 L396.5 1005.3 L397.3 1005.3 L398.1 1005.3 L398.8 1005.3 L399.6 1005.3 L400.4 1005.3 L401.2 1005.3 L401.9 1005.3 L402.7 1005.3 L403.5 1005.3 L404.3 1005.3 L405.1 1005.3 L405.9 1005.3 L406.8 1005.3 L407.6 1005.3 L408.4 1005.3 L409.2 1005.3 L410.1 1005.3 L410.9 1005.3 L411.8 1005.3 L412.6 1005.3 L413.5 1005.3 L414.4 1005.3 L415.2 1005.3 L416.1 1005.3 L417.0 1005.3 L417.9 1005.3 L418.8 1005.3 L419.7 1005.3 L420.6 1005.3 L421.5 1005.3 L422.4 1005.3 L423.3 1005.3 L424.2 1005.3 L425.2 1005.3 L426.1 1005.3 L427.0 1005.3 L428.0 1005.3 L428.9 1005.3 L429.9 1005.3 L430.9 1005.3 L431.8 1005.3 L432.8 1005.3 L433.8 1005.3 L434.8 1005.3 L435.7 1005.3 L436.7 1005.3 L437.7 1005.3 L438.7 1005.3 L439.7 1005.3 L440.8 1005.3 L441.8 1005.3 L442.8 1005.3 L443.8 1005.3 L444.9 1005.3 L445.9 1005.3 L447.0 1005.3 L448.0 1005.3 L449.1 1005.3 L450.1 1005.3 L451.2 1005.3 L452.3 1005.3 L453.4 1005.3 L454.4 1005.3 L455.5 1005.3 L456.6 1005.3 L457.7 1005.3 L458.8 1005.3 L459.9 1005.3 L461.1 1005.3 L462.2 1005.3 L463.3 1005.3 L464.4 1005.3 L465.6 1005.3 L466.7 1005.3 L467.9 1005.3 L469.0 1005.3 L470.2 1005.3 L471.3 1005.3 L472.5 1005.3 L473.7 1005.3 L474.9 1005.3 L476.0 1005.3 L477.2 1005.3 L478.4 1005.3 L479.6 1005.3 L480.8 1005.3 L482.0 1005.3 L483.3 1005.3 L484.5 1005.3 L485.7 1005.3 L486.9 1005.3 L488.2 1005.3 L489.4 1005.3 L490.7 1005.3 L491.9 1005.3 L493.2 1005.3 L494.5 1005.3 L495.7 1005.3 L497.0 1005.3 L498.3 1005.3 L499.6 1005.3 L500.9 1005.3 L502.2 1005.3 L503.5 1005.3 L504.8 1005.3 L506.1 1005.3 L507.4 1005.3 L508.7 1005.3 L510.1 1005.3 L511.4 1005.3 L512.7 1005.3 L514.1 1005.3 L515.4 1005.3 L516.8 1005.3 L518.1 1005.3 L519.5 1005.3 L520.9 1005.3 L522.3 1005.3 L523.6 1005.3 L525.0 1005.3 L526.4 1005.3 L527.8 1005.3 L529.2 1005.3 L530.6 1005.3 L532.0 1005.3 L533.5 1005.3 L534.9 1005.3 L536.3 1005.3 L537.8 1005.3 L539.2 1005.3 L540.6 1005.3 L542.1 1005.3 L543.5 1005.3 L545.0 1005.3 L546.5 1005.3 L547.9 1005.3 L549.4 1005.3 L550.9 1005.3 L552.4 1005.3 L553.9 1005.3 L555.4 1005.3 L556.9 1005.3 L558.4 1005.3 L559.9 1005.3 L561.4 1005.3 L563.0 1005.3 L564.5 1005.3 L566.0 1005.3 L567.6 1005.3 L569.1 1005.3 L570.7 1005.3 L572.2 1005.3 L573.8 1005.3 L575.4 1005.3 L576.9 1005.3 L578.5 1005.3 L580.1 1005.3 L581.7 1005.3 L583.3 1005.3 L584.9 1005.3 L586.5 1005.3 L588.1 1005.3 L589.7 1005.3 L591.4 1005.3 L593.0 1005.3 L594.6 1005.3 L596.2 1005.3 L597.9 1005.3 L599.5 1005.3 L601.2 1005.3 L602.9 1005.3 L604.5 1005.3 L606.2 1005.3 L607.9 1005.3 L609.5 1005.3 L611.2 1005.3 L612.9 1005.3 L614.6 1005.3 L616.3 1005.3 L618.0 1005.3 L619.7 1005.3 L621.5 1005.3 L623.2 1005.3 L624.9 1005.3 L626.6 1005.3 L628.4 1005.3 L630.1 1005.3 L631.9 1005.3 L633.6 1005.3 L635.4 1005.3 L637.2 1005.3 L638.9 1005.3 L640.7 1005.3 L642.5 1005.3 L644.3 1005.3 L646.1 1005.3 L647.9 1005.3 L649.7 1005.3 L651.5 1005.3 L653.3 1005.3 L655.1 1005.3 L656.9 1005.3 L658.8 1005.3 L660.6 1005.3 L662.4 1005.3 L664.3 1005.3 L666.1 1005.3 L668.0 1005.3 L669.9 1005.3 L671.7 1005.3 L673.6 1005.3 L675.5 1005.3 L677.3 1005.3 L679.2 1005.3 L681.1 1005.3 L683.0 1005.3 L684.9 1005.3 L686.8 1005.3 L688.8 1005.3 L690.7 1005.3 L692.6 1005.3 L694.5 1005.3 L696.5 1005.3 L698.4 1005.3 L700.4 1005.3 L702.3 1005.3 L704.3 1005.3 L706.2 1005.3 L708.2 1005.3 L710.2 1005.3 L712.2 1005.3 L714.1 1005.3 L716.1 1005.3 L718.1 1005.3 L720.1 1005.3 L722.1 1005.3 L724.1 1005.3 L726.2 1005.3 L728.2 1005.2 L730.2 1005.2 L732.2 1005.2 L734.3 1005.2 L736.3 1005.2 L738.4 1005.2 L740.4 1005.2 L742.5 1005.2 L744.5 1005.2 L746.6 1005.2 L748.7 1005.2 L750.8 1005.2 L752.8 1005.2 L754.9 1005.2 L757.0 1005.2 L759.1 1005.2 L761.2 1005.2 L763.4 1005.2 L765.5 1005.2 L767.6 1005.2 L769.7 1005.2 L771.9 1005.2 L774.0 1005.2 L776.1 1005.2 L778.3 1005.2 L780.4 1005.2 L782.6 1005.2 L784.8 1005.2 L786.9 1005.2 L789.1 1005.2 L791.3 1005.2 L793.5 1005.2 L795.7 1005.1 L797.9 1005.1 L800.1 1005.1 L802.3 1005.1 L804.5 1005.1 L806.7 1005.1 L808.9 1005.1 L811.2 1005.1 L813.4 1005.1 L815.6 1005.1 L817.9 1005.1 L820.1 1005.1 L822.4 1005.1 L824.7 1005.1 L826.9 1005.1 L829.2 1005.0 L831.5 1005.0 L833.8 1005.0 L836.0 1005.0 L838.3 1005.0 L840.6 1005.0 L842.9 1005.0 L845.2 1005.0 L847.6 1005.0 L849.9 1004.9 L852.2 1004.9 L854.5 1004.9 L856.9 1004.9 L859.2 1004.9 L861.6 1004.9 L863.9 1004.9 L866.3 1004.8 L868.6 1004.8 L871.0 1004.8 L873.4 1004.8 L875.7 1004.8 L878.1 1004.7 L880.5 1004.7 L882.9 1004.7 L885.3 1004.7 L887.7 1004.7 L890.1 1004.6 L892.5 1004.6 L895.0 1004.6 L897.4 1004.5 L899.8 1004.5 L902.3 1004.5 L904.7 1004.5 L907.1 1004.4 L909.6 1004.4 L912.1 1004.3 L914.5 1004.3 L917.0 1004.3 L919.5 1004.2 L921.9 1004.2 L924.4 1004.1 L926.9 1004.1 L929.4 1004.1 L931.9 1004.0 L934.4 1004.0 L936.9 1003.9 L939.4 1003.8 L942.0 1003.8 L944.5 1003.7 L947.0 1003.7 L949.6 1003.6 L952.1 1003.5 L954.7 1003.5 L957.2 1003.4 L959.8 1003.3 L962.3 1003.2 L964.9 1003.1 L967.5 1003.0 L970.1 1003.0 L972.7 1002.9 L975.2 1002.8 L977.8 1002.7 L980.4 1002.5 L983.0 1002.4 L985.7 1002.3 L988.3 1002.2 L990.9 1002.1 L993.5 1001.9 L996.2 1001.8 L998.8 1001.6 L1001.5 1001.5 L1004.1 1001.3 L1006.8 1001.2 L1009.4 1001.0 L1012.1 1000.8 L1014.8 1000.6 L1017.4 1000.4 L1020.1 1000.2 L1022.8 1000.0 L1025.5 999.8 L1028.2 999.5 L1030.9 999.3 L1033.6 999.0 L1036.3 998.8 L1039.0 998.5 L1041.8 998.2 L1044.5 997.9 L1047.2 997.6 L1050.0 997.3 L1052.7 996.9 L1055.5 996.6 L1058.2 996.2 L1061.0 995.8 L1063.7 995.4 L1066.5 995.0 L1069.3 994.5 L1072.1 994.1 L1074.9 993.6 L1077.7 993.1 L1080.5 992.6 L1083.3 992.0 L1086.1 991.4 L1088.9 990.9 L1091.7 990.2 L1094.5 989.6 L1097.4 988.9 L1100.2 988.2 L1103.0 987.5 L1105.9 986.7 L1108.7 985.9 L1111.6 985.1 L1114.5 984.2 L1117.3 983.3 L1120.2 982.4 L1123.1 981.4 L1126.0 980.4 L1128.9 979.3 L1131.8 978.2 L1134.7 977.0 L1137.6 975.8 L1140.5 974.6 L1143.4 973.3 L1146.3 971.9 L1149.2 970.5 L1152.2 969.0 L1155.1 967.5 L1158.1 965.9 L1161.0 964.3 L1164.0 962.5 L1166.9 960.8 L1169.9 958.9 L1172.8 957.0 L1175.8 955.0 L1178.8 953.0 L1181.8 950.8 L1184.8 948.6 L1187.8 946.4 L1190.8 944.0 L1193.8 941.5 L1196.8 939.0 L1199.8 936.4 L1202.8 933.7 L1205.9 931.0 L1208.9 928.1 L1211.9 925.2 L1215.0 922.1 L1218.0 919.0 L1221.1 915.8 L1224.1 912.5 L1227.2 909.2 L1230.3 905.7 L1233.4 902.2 L1236.4 898.6 L1239.5 894.9 L1242.6 891.2 L1245.7 887.4 L1248.8 883.5 L1251.9 879.6 L1255.0 875.6 L1258.2 871.5 L1261.3 867.5 L1264.4 863.4 L1267.5 859.2 L1270.7 855.1 L1273.8 850.9 L1277.0 846.8 L1280.1 842.6 L1283.3 838.5 L1286.5 834.4 L1289.6 830.3 L1292.8 826.3 L1296.0 822.4 L1299.2 818.6 L1302.4 814.8 L1305.6 811.1 L1308.8 807.6 L1312.0 804.2 L1315.2 801.0 L1318.4 797.9 L1321.6 795.0 L1324.9 792.2 L1328.1 789.7 L1331.4 787.4 L1334.6 785.2 L1337.9 783.4 L1341.1 781.7 L1344.4 780.3 L1347.6 779.2 L1350.9 778.3 L1354.2 777.7 L1357.5 777.3 L1360.8 777.2 L1364.1 777.4 L1367.4 777.9 L1370.7 778.6 L1374.0 779.6 L1377.3 780.9 L1380.6 782.4 L1383.9 784.2 L1387.3 786.2 L1390.6 788.5 L1393.9 791.0 L1397.3 793.7 L1400.7 796.6 L1404.0 799.7 L1407.4 803.0 L1410.7 806.4 L1414.1 810.0 L1417.5 813.8 L1420.9 817.7 L1424.3 821.6 L1427.7 825.7 L1431.1 829.9 L1434.5 834.2 L1437.9 838.5 L1441.3 842.8 L1444.7 847.2 L1448.2 851.6 L1451.6 856.0 L1455.0 860.4 L1458.5 864.8 L1461.9 869.2 L1465.4 873.6 L1468.8 877.9 L1472.3 882.1 L1475.8 886.3 L1479.2 890.5 L1482.7 894.6 L1486.2 898.6 L1489.7 902.5 L1493.2 906.3 L1496.7 910.1 L1500.2 913.8 L1503.7 917.3 L1507.2 920.8 L1510.8 924.2 L1514.3 927.5 L1517.8 930.7 L1521.4 933.8 L1524.9 936.8 L1528.5 939.7 L1532.0 942.5 L1535.6 945.2 L1539.1 947.9 L1542.7 950.4 L1546.3 952.8 L1549.9 955.2 L1553.5 957.4 L1557.1 959.6 L1560.6 961.7 L1564.3 963.7 L1567.9 965.6 L1571.5 967.5 L1575.1 969.3 L1578.7 971.0 L1582.3 972.6 L1586.0 974.2 L1589.6 975.7 L1593.3 977.1 L1596.9 978.5 L1600.6 979.8 L1604.2 981.0 L1607.9 982.2 L1611.6 983.3 L1615.3 984.4 L1618.9 985.5 L1622.6 986.4 L1626.3 987.4 L1630.0 988.3 L1633.7 989.1 L1637.4 990.0 L1641.2 990.7 L1644.9 991.5 L1648.6 992.2 L1648.6 1005.3 L343.6 1005.3 Z" fill="#ff0000" fill-opacity="0.35"/>
<path d="M343.6 1005.3 L343.6 1005.3 L343.6 1005.3 L343.6 1005.3 L343.6 1005.3 L343.7 1005.3 L343.7 1005.3 L343.7 1005.3 L343.8 1005.3 L343.8 1005.3 L343.9 1005.3 L343.9 1005.3 L344.0 1005.3 L344.1 1005.3 L344.1 1005.3 L344.2 1005.3 L344.3 1005.3 L344.4 1005.3 L344.5 1005.3 L344.6 1005.3 L344.7 1005.3 L344.8 1005.3 L344.9 1005.3 L345.0 1005.3 L345.1 1005.3 L345.3 1005.3 L345.4 1005.3 L345.5 1005.3 L345.7 1005.3 L345.8 1005.3 L346.0 1005.3 L346.2 1005.3 L346.3 1005.3 L346.5 1005.3 L346.7 1005.3 L346.9 1005.3 L347.1 1005.3 L347.2 1005.3 L347.4 1005.3 L347.7 1005.3 L347.9 1005.3 L348.1 1005.3 L348.3 1005.3 L348.5 1005.3 L348.8 1005.3 L349.0 1005.3 L349.2 1005.3 L349.5 1005.3 L349.7 1005.3 L350.0 1005.3 L350.3 1005.3 L350.5 1005.3 L350.8 1005.3 L351.1 1005.3 L351.4 1005.3 L351.7 1005.3 L352.0 1005.3 L352.3 1005.3 L352.6 1005.3 L352.9 1005.3 L353.2 1005.3 L353.5 1005.3 L353.8 1005.3 L354.2 1005.3 L354.5 1005.3 L354.9 1005.3 L355.2 1005.3 L355.6 1005.3 L355.9 1005.3 L356.3 1005.3 L356.7 1005.3 L357.0 1005.3 L357.4 1005.3 L357.8 1005.3 L358.2 1005.3 L358.6 1005.3 L359.0 1005.3 L359.4 1005.3 L359.8 1005.3 L360.2 1005.3 L360.6 1005.3 L361.1 1005.3 L361.5 1005.3 L361.9 1005.3 L362.4 1005.3 L362.8 1005.3 L363.3 1005.3 L363.8 1005.3 L364.2 1005.3 L364.7 1005.3 L365.2 1005.3 L365.7 1005.3 L366.1 1005.3 L366.6 1005.3 L367.1 1005.3 L367.6 1005.3 L368.1 1005.3 L368.7 1005.3 L369.2 1005.3 L369.7 1005.3 L370.2 1005.3 L370.8 1005.3 L371.3 1005.3 L371.9 1005.3 L372.4 1005.3 L373.0 1005.3 L373.5 1005.3 L374.1 1005.3 L374.7 1005.3 L375.2 1005.3 L375.8 1005.3 L376.4 1005.3 L377.0 1005.3 L377.6 1005.3 L378.2 1005.3 L378.8 1005.3 L379.4 1005.3 L380.1 1005.3 L380.7 1005.3 L381.3 1005.3 L382.0 1005.3 L382.6 1005.3 L383.2 1005.3 L383.9 1005.3 L384.6 1005.3 L385.2 1005.3 L385.9 1005.3 L386.6 1005.3 L387.2 1005.3 L387.9 1005.3 L388.6 1005.3 L389.3 1005.3 L390.0 1005.3 L390.7 1005.3 L391.4 1005.3 L392.1 1005.3 L392.9 1005.3 L393.6 1005.3 L394.3 1005.3 L395.1 1005.3 L395.8 1005.3 L396.5 1005.3 L397.3 1005.3 L398.1 1005.3 L398.8 1005.3 L399.6 1005.3 L400.4 1005.3 L401.2 1005.3 L401.9 1005.3 L402.7 1005.3 L403.5 1005.3 L404.3 1005.3 L405.1 1005.3 L405.9 1005.3 L406.8 1005.3 L407.6 1005.3 L408.4 1005.3 L409.2 1005.3 L410.1 1005.3 L410.9 1005.3 L411.8 1005.3 L412.6 1005.3 L413.5 1005.3 L414.4 1005.3 L415.2 1005.3 L416.1 1005.3 L417.0 1005.3 L417.9 1005.3 L418.8 1005.3 L419.7 1005.3 L420.6 1005.3 L421.5 1005.3 L422.4 1005.3 L423.3 1005.3 L424.2 1005.3 L425.2 1005.3 L426.1 1005.3 L427.0 1005.3 L428.0 1005.3 L428.9 1005.3 L429.9 1005.3 L430.9 1005.3 L431.8 1005.3 L432.8 1005.3 L433.8 1005.3 L434.8 1005.3 L435.7 1005.3 L436.7 1005.3 L437.7 1005.3 L438.7 1005.3 L439.7 1005.3 L440.8 1005.3 L441.8 1005.3 L442.8 1005.3 L443.8 1005.3 L444.9 1005.3 L445.9 1005.3 L447.0 1005.3 L448.0 1005.3 L449.1 1005.3 L450.1 1005.3 L451.2 1005.3 L452.3 1005.3 L453.4 1005.3 L454.4 1005.3 L455.5 1005.3 L456.6 1005.3 L457.7 1005.3 L458.8 1005.3 L459.9 1005.3 L461.1 1005.3 L462.2 1005.3 L463.3 1005.3 L464.4 1005.3 L465.6 1005.3 L466.7 1005.3 L467.9 1005.3 L469.0 1005.3 L470.2 1005.3 L471.3 1005.3 L472.5 1005.3 L473.7 1005.3 L474.9 1005.3 L476.0 1005.3 L477.2 1005.3 L478.4 1005.3 L479.6 1005.3 L480.8 1005.3 L482.0 1005.3 L483.3 1005.3 L484.5 1005.3 L485.7 1005.3 L486.9 1005.3 L488.2 1005.3 L489.4 1005.3 L490.7 1005.3 L491.9 1005.3 L493.2 1005.3 L494.5 1005.3 L495.7 1005.3 L497.0 1005.3 L498.3 1005.3 L499.6 1005.3 L500.9 1005.3 L502.2 1005.3 L503.5 1005.3 L504.8 1005.3 L506.1 1005.3 L507.4 1005.3 L508.7 1005.3 L510.1 1005.3 L511.4 1005.3 L512.7 1005.3 L514.1 1005.3 L515.4 1005.3 L516.8 1005.3 L518.1 1005.3 L519.5 1005.3 L520.9 1005.3 L522.3 1005.3 L523.6 1005.3 L525.0 1005.3 L526.4 1005.3 L527.8 1005.3 L529.2 1005.3 L530.6 1005.3 L532.0 1005.3 L533.5 1005.3 L534.9 1005.3 L536.3 1005.3 L537.8 1005.3 L539.2 1005.3 L540.6 1005.3 L542.1 1005.3 L543.5 1005.3 L545.0 1005.3 L546.5 1005.3 L547.9 1005.3 L549.4 1005.3 L550.9 1005.3 L552.4 1005.3 L553.9 1005.3 L555.4 1005.3 L556.9 1005.3 L558.4 1005.3 L559.9 1005.3 L561.4 1005.3 L563.0 1005.3 L564.5 1005.3 L566.0 1005.3 L567.6 1005.3 L569.1 1005.3 L570.7 1005.3 L572.2 1005.3 L573.8 1005.3 L575.4 1005.3 L576.9 1005.3 L578.5 1005.3 L580.1 1005.3 L581.7 1005.3 L583.3 1005.3 L584.9 1005.3 L586.5 1005.3 L588.1 1005.3 L589.7 1005.3 L591.4 1005.3 L593.0 1005.3 L594.6 1005.3 L596.2 1005.3 L597.9 1005.3 L599.5 1005.3 L601.2 1005.3 L602.9 1005.3 L604.5 1005.3 L606.2 1005.3 L607.9 1005.3 L609.5 1005.3 L611.2 1005.3 L612.9 1005.3 L614.6 1005.3 L616.3 1005.3 L618.0 1005.3 L619.7 1005.3 L621.5 1005.3 L623.2 1005.3 L624.9 1005.3 L626.6 1005.3 L628.4 1005.3 L630.1 1005.3 L631.9 1005.3 L633.6 1005.3 L635.4 1005.3 L637.2 1005.3 L638.9 1005.3 L640.7 1005.3 L642.5 1005.3 L644.3 1005.3 L646.1 1005.3 L647.9 1005.3 L649.7 1005.3 L651.5 1005.3 L653.3 1005.3 L655.1 1005.3 L656.9 1005.3 L658.8 1005.3 L660.6 1005.3 L662.4 1005.3 L664.3 1005.3 L666.1 1005.3 L668.0 1005.3 L669.9 1005.3 L671.7 1005.3 L673.6 1005.3 L675.5 1005.3 L677.3 1005.3 L679.2 1005.3 L681.1 1005.3 L683.0 1005.3 L684.9 1005.3 L686.8 1005.3 L688.8 1005.3 L690.7 1005.3 L692.6 1005.3 L694.5 1005.3 L696.5 1005.3 L698.4 1005.3 L700.4 1005.3 L702.3 1005.3 L704.3 1005.3 L706.2 1005.3 L708.2 1005.3 L710.2 1005.3 L712.2 1005.3 L714.1 1005.3 L716.1 1005.3 L718.1 1005.3 L720.1 1005.3 L722.1 1005.3 L724.1 1005.3 L726.2 1005.3 L728.2 1005.2 L730.2 1005.2 L732.2 1005.2 L734.3 1005.2 L736.3 1005.2 L738.4 1005.2 L740.4 1005.2 L742.5 1005.2 L744.5 1005.2 L746.6 1005.2 L748.7 1005.2 L750.8 1005.2 L752.8 1005.2 L754.9 1005.2 L757.0 1005.2 L759.1 1005.2 L761.2 1005.2 L763.4 1005.2 L765.5 1005.2 L767.6 1005.2 L769.7 1005.2 L771.9 1005.2 L774.0 1005.2 L776.1 1005.2 L778.3 1005.2 L780.4 1005.2 L782.6 1005.2 L784.8 1005.2 L786.9 1005.2 L789.1 1005.2 L791.3 1005.2 L793.5 1005.2 L795.7 1005.1 L797.9 1005.1 L800.1 1005.1 L802.3 1005.1 L804.5 1005.1 L806.7 1005.1 L808.9 1005.1 L811.2 1005.1 L813.4 1005.1 L815.6 1005.1 L817.9 1005.1 L820.1 1005.1 L822.4 1005.1 L824.7 1005.1 L826.9 1005.1 L829.2 1005.0 L831.5 1005.0 L833.8 1005.0 L836.0 1005.0 L838.3 1005.0 L840.6 1005.0 L842.9 1005.0 L845.2 1005.0 L847.6 1005.0 L849.9 1004.9 L852.2 1004.9 L854.5 1004.9 L856.9 1004.9 L859.2 1004.9 L861.6 1004.9 L863.9 1004.9 L866.3 1004.8 L868.6 1004.8 L871.0 1004.8 L873.4 1004.8 L875.7 1004.8 L878.1 1004.7 L880.5 1004.7 L882.9 1004.7 L885.3 1004.7 L887.7 1004.7 L890.1 1004.6 L892.5 1004.6 L895.0 1004.6 L897.4 1004.5 L899.8 1004.5 L902.3 1004.5 L904.7 1004.5 L907.1 1004.4 L909.6 1004.4 L912.1 1004.3 L914.5 1004.3 L917.0 1004.3 L919.5 1004.2 L921.9 1004.2 L924.4 1004.1 L926.9 1004.1 L929.4 1004.1 L931.9 1004.0 L934.4 1004.0 L936.9 1003.9 L939.4 1003.8 L942.0 1003.8 L944.5 1003.7 L947.0 1003.7 L949.6 1003.6 L952.1 1003.5 L954.7 1003.5 L957.2 1003.4 L959.8 1003.3 L962.3 1003.2 L964.9 1003.1 L967.5 1003.0 L970.1 1003.0 L972.7 1002.9 L975.2 1002.8 L977.8 1002.7 L980.4 1002.5 L983.0 1002.4 L985.7 1002.3 L988.3 1002.2 L990.9 1002.1 L993.5 1001.9 L996.2 1001.8 L998.8 1001.6 L1001.5 1001.5 L1004.1 1001.3 L1006.8 1001.2 L1009.4 1001.0 L1012.1 1000.8 L1014.8 1000.6 L1017.4 1000.4 L1020.1 1000.2 L1022.8 1000.0 L1025.5 999.8 L1028.2 999.5 L1030.9 999.3 L1033.6 999.0 L1036.3 998.8 L1039.0 998.5 L1041.8 998.2 L1044.5 997.9 L1047.2 997.6 L1050.0 997.3 L1052.7 996.9 L1055.5 996.6 L1058.2 996.2 L1061.0 995.8 L1063.7 995.4 L1066.5 995.0 L1069.3 994.5 L1072.1 994.1 L1074.9 993.6 L1077.7 993.1 L1080.5 992.6 L1083.3 992.0 L1086.1 991.4 L1088.9 990.9 L1091.7 990.2 L1094.5 989.6 L1097.4 988.9 L1100.2 988.2 L1103.0 987.5 L1105.9 986.7 L1108.7 985.9 L1111.6 985.1 L1114.5 984.2 L1117.3 983.3 L1120.2 982.4 L1123.1 981.4 L1126.0 980.4 L1128.9 979.3 L1131.8 978.2 L1134.7 977.0 L1137.6 975.8 L1140.5 974.6 L1143.4 973.3 L1146.3 971.9 L1149.2 970.5 L1152.2 969.0 L1155.1 967.5 L1158.1 965.9 L1161.0 964.3 L1164.0 962.5 L1166.9 960.8 L1169.9 958.9 L1172.8 957.0 L1175.8 955.0 L1178.8 953.0 L1181.8 950.8 L1184.8 948.6 L1187.8 946.4 L1190.8 944.0 L1193.8 941.5 L1196.8 939.0 L1199.8 936.4 L1202.8 933.7 L1205.9 931.0 L1208.9 928.1 L1211.9 925.2 L1215.0 922.1 L1218.0 919.0 L1221.1 915.8 L1224.1 912.5 L1227.2 909.2 L1230.3 905.7 L1233.4 902.2 L1236.4 898.6 L1239.5 894.9 L1242.6 891.2 L1245.7 887.4 L1248.8 883.5 L1251.9 879.6 L1255.0 875.6 L1258.2 871.5 L1261.3 867.5 L1264.4 863.4 L1267.5 859.2 L1270.7 855.1 L1273.8 850.9 L1277.0 846.8 L1280.1 842.6 L1283.3 838.5 L1286.5 834.4 L1289.6 830.3 L1292.8 826.3 L1296.0 822.4 L1299.2 818.6 L1302.4 814.8 L1305.6 811.1 L1308.8 807.6 L1312.0 804.2 L1315.2 801.0 L1318.4 797.9 L1321.6 795.0 L1324.9 792.2 L1328.1 789.7 L1331.4 787.4 L1334.6 785.2 L1337.9 783.4 L1341.1 781.7 L1344.4 780.3 L1347.6 779.2 L1350.9 778.3 L1354.2 777.7 L1357.5 777.3 L1360.8 777.2 L1364.1 777.4 L1367.4 777.9 L1370.7 778.6 L1374.0 779.6 L1377.3 780.9 L1380.6 782.4 L1383.9 784.2 L1387.3 786.2 L1390.6 788.5 L1393.9 791.0 L1397.3 793.7 L1400.7 796.6 L1404.0 799.7 L1407.4 803.0 L1410.7 806.4 L1414.1 810.0 L1417.5 813.8 L1420.9 817.7 L1424.3 821.6 L1427.7 825.7 L1431.1 829.9 L1434.5 834.2 L1437.9 838.5 L1441.3 842.8 L1444.7 847.2 L1448.2 851.6 L1451.6 856.0 L1455.0 860.4 L1458.5 864.8 L1461.9 869.2 L1465.4 873.6 L1468.8 877.9 L1472.3 882.1 L1475.8 886.3 L1479.2 890.5 L1482.7 894.6 L1486.2 898.6 L1489.7 902.5 L1493.2 906.3 L1496.7 910.1 L1500.2 913.8 L1503.7 917.3 L1507.2 920.8 L1510.8 924.2 L1514.3 927.5 L1517.8 930.7 L1521.4 933.8 L1524.9 936.8 L1528.5 939.7 L1532.0 942.5 L1535.6 945.2 L1539.1 947.9 L1542.7 950.4 L1546.3 952.8 L1549.9 955.2 L1553.5 957.4 L1557.1 959.6 L1560.6 961.7 L1564.3 963.7 L1567.9 965.6 L1571.5 967.5 L1575.1 969.3 L1578.7 971.0 L1582.3 972.6 L1586.0 974.2 L1589.6 975.7 L1593.3 977.1 L1596.9 978.5 L1600.6 979.8 L1604.2 981.0 L1607.9 982.2 L1611.6 983.3 L1615.3 984.4 L1618.9 985.5 L1622.6 986.4 L1626.3 987.4 L1630.0 988.3 L1633.7 989.1 L1637.4 990.0 L1641.2 990.7 L1644.9 991.5 L1648.6 992.2" fill="none" stroke="#000" stroke-width="3.5" stroke-linejoin="round"/>
</g>
<g stroke="#000" fill="none">
<line x1="343.9" y1="47" x2="343.9" y2="1026" stroke-width="4.6"/>
<line x1="1648.3" y1="47" x2="1648.3" y2="1026" stroke-width="4.6"/>
<line x1="341.6" y1="49.1" x2="1650.6" y2="49.1" stroke-width="4.2"/>
<line x1="341.6" y1="1005.1" x2="1650.6" y2="1005.1" stroke-width="4.5"/>
<line x1="369.7" y1="1005.3" x2="369.7" y2="1018.0" stroke-width="2.7"/>
<line x1="395.8" y1="1005.3" x2="395.8" y2="1018.0" stroke-width="2.7"/>
<line x1="421.9" y1="1005.3" x2="421.9" y2="1018.0" stroke-width="2.7"/>
<line x1="448.0" y1="1005.3" x2="448.0" y2="1018.0" stroke-width="2.7"/>
<line x1="474.1" y1="1005.3" x2="474.1" y2="1018.0" stroke-width="2.7"/>
<line x1="500.2" y1="1005.3" x2="500.2" y2="1018.0" stroke-width="2.7"/>
<line x1="526.3" y1="1005.3" x2="526.3" y2="1018.0" stroke-width="2.7"/>
<line x1="552.4" y1="1005.3" x2="552.4" y2="1018.0" stroke-width="2.7"/>
<line x1="578.5" y1="1005.3" x2="578.5" y2="1018.0" stroke-width="2.7"/>
<line x1="604.6" y1="1005.3" x2="604.6" y2="1026.0" stroke-width="3.0"/>
<line x1="630.7" y1="1005.3" x2="630.7" y2="1018.0" stroke-width="2.7"/>
<line x1="656.8" y1="1005.3" x2="656.8" y2="1018.0" stroke-width="2.7"/>
<line x1="682.9" y1="1005.3" x2="682.9" y2="1018.0" stroke-width="2.7"/>
<line x1="709.0" y1="1005.3" x2="709.0" y2="1018.0" stroke-width="2.7"/>
<line x1="735.1" y1="1005.3" x2="735.1" y2="1018.0" stroke-width="2.7"/>
<line x1="761.2" y1="1005.3" x2="761.2" y2="1018.0" stroke-width="2.7"/>
<line x1="787.3" y1="1005.3" x2="787.3" y2="1018.0" stroke-width="2.7"/>
<line x1="813.4" y1="1005.3" x2="813.4" y2="1018.0" stroke-width="2.7"/>
<line x1="839.5" y1="1005.3" x2="839.5" y2="1018.0" stroke-width="2.7"/>
<line x1="865.6" y1="1005.3" x2="865.6" y2="1026.0" stroke-width="3.0"/>
<line x1="891.7" y1="1005.3" x2="891.7" y2="1018.0" stroke-width="2.7"/>
<line x1="917.8" y1="1005.3" x2="917.8" y2="1018.0" stroke-width="2.7"/>
<line x1="943.9" y1="1005.3" x2="943.9" y2="1018.0" stroke-width="2.7"/>
<line x1="970.0" y1="1005.3" x2="970.0" y2="1018.0" stroke-width="2.7"/>
<line x1="996.1" y1="1005.3" x2="996.1" y2="1018.0" stroke-width="2.7"/>
<line x1="1022.2" y1="1005.3" x2="1022.2" y2="1018.0" stroke-width="2.7"/>
<line x1="1048.3" y1="1005.3" x2="1048.3" y2="1018.0" stroke-width="2.7"/>
<line x1="1074.4" y1="1005.3" x2="1074.4" y2="1018.0" stroke-width="2.7"/>
<line x1="1100.5" y1="1005.3" x2="1100.5" y2="1018.0" stroke-width="2.7"/>
<line x1="1126.6" y1="1005.3" x2="1126.6" y2="1026.0" stroke-width="3.0"/>
<line x1="1152.7" y1="1005.3" x2="1152.7" y2="1018.0" stroke-width="2.7"/>
<line x1="1178.8" y1="1005.3" x2="1178.8" y2="1018.0" stroke-width="2.7"/>
<line x1="1204.9" y1="1005.3" x2="1204.9" y2="1018.0" stroke-width="2.7"/>
<line x1="1231.0" y1="1005.3" x2="1231.0" y2="1018.0" stroke-width="2.7"/>
<line x1="1257.1" y1="1005.3" x2="1257.1" y2="1018.0" stroke-width="2.7"/>
<line x1="1283.2" y1="1005.3" x2="1283.2" y2="1018.0" stroke-width="2.7"/>
<line x1="1309.3" y1="1005.3" x2="1309.3" y2="1018.0" stroke-width="2.7"/>
<line x1="1335.4" y1="1005.3" x2="1335.4" y2="1018.0" stroke-width="2.7"/>
<line x1="1361.5" y1="1005.3" x2="1361.5" y2="1018.0" stroke-width="2.7"/>
<line x1="1387.6" y1="1005.3" x2="1387.6" y2="1026.0" stroke-width="3.0"/>
<line x1="1413.7" y1="1005.3" x2="1413.7" y2="1018.0" stroke-width="2.7"/>
<line x1="1439.8" y1="1005.3" x2="1439.8" y2="1018.0" stroke-width="2.7"/>
<line x1="1465.9" y1="1005.3" x2="1465.9" y2="1018.0" stroke-width="2.7"/>
<line x1="1492.0" y1="1005.3" x2="1492.0" y2="1018.0" stroke-width="2.7"/>
<line x1="1518.1" y1="1005.3" x2="1518.1" y2="1018.0" stroke-width="2.7"/>
<line x1="1544.2" y1="1005.3" x2="1544.2" y2="1018.0" stroke-width="2.7"/>
<line x1="1570.3" y1="1005.3" x2="1570.3" y2="1018.0" stroke-width="2.7"/>
<line x1="1596.4" y1="1005.3" x2="1596.4" y2="1018.0" stroke-width="2.7"/>
<line x1="1622.5" y1="1005.3" x2="1622.5" y2="1018.0" stroke-width="2.7"/>
</g>
<g fill="#000">
<text class="sans" font-size="67.0" transform="translate(138.5 839.8) scale(0.965 1)">1x10<tspan font-size="37.5" dy="-33.5">21</tspan></text>
<text class="sans" font-size="67.0" transform="translate(138.5 648.5) scale(0.965 1)">2x10<tspan font-size="37.5" dy="-33.5">21</tspan></text>
<text class="sans" font-size="67.0" transform="translate(138.5 457.2) scale(0.965 1)">3x10<tspan font-size="37.5" dy="-33.5">21</tspan></text>
<text class="sans" font-size="67.0" transform="translate(138.5 265.9) scale(0.965 1)">4x10<tspan font-size="37.5" dy="-33.5">21</tspan></text>
<text class="sans" font-size="67.0" transform="translate(138.5 74.6) scale(0.965 1)">5x10<tspan font-size="37.5" dy="-33.5">21</tspan></text>
<text class="sans" font-size="67.0" transform="translate(287.3 1025.6) scale(0.965 1)">0</text>
<text class="serif" font-size="85.0" transform="translate(343.6 1103.3) scale(0.955 1)" text-anchor="middle">0.0</text>
<text class="serif" font-size="85.0" transform="translate(604.6 1103.3) scale(0.955 1)" text-anchor="middle">0.1</text>
<text class="serif" font-size="85.0" transform="translate(865.6 1103.3) scale(0.955 1)" text-anchor="middle">0.2</text>
<text class="serif" font-size="85.0" transform="translate(1126.6 1103.3) scale(0.955 1)" text-anchor="middle">0.3</text>
<text class="serif" font-size="85.0" transform="translate(1387.6 1103.3) scale(0.955 1)" text-anchor="middle">0.4</text>
<text class="serif" font-size="85.0" transform="translate(1648.6 1103.3) scale(0.955 1)" text-anchor="middle">0.5</text>
<text class="serif"><tspan x="871.7" y="1185.6" font-size="85.0" class="it" textLength="53.4" lengthAdjust="spacingAndGlyphs">E</tspan><tspan x="923.8" y="1214.8" font-size="50.0" textLength="24.8" lengthAdjust="spacingAndGlyphs">F</tspan><tspan x="954.0" y="1185.6" font-size="85.0" textLength="18.6" lengthAdjust="spacingAndGlyphs">,</tspan><tspan> </tspan><tspan x="994.0" y="1185.6" font-size="85.0" textLength="38.2" lengthAdjust="spacingAndGlyphs">e</tspan><tspan x="1031.0" y="1185.6" font-size="85.0" textLength="61.9" lengthAdjust="spacingAndGlyphs">V</tspan><tspan x="1091.3" y="1185.6" font-size="85.0" textLength="28.2" lengthAdjust="spacingAndGlyphs">)</tspan></text>
<text class="serif" transform="translate(88.9 767) rotate(-90)"><tspan x="-3.9" y="0.0" font-size="83.0" textLength="51.0" lengthAdjust="spacingAndGlyphs">g</tspan><tspan x="45.0" y="0.0" font-size="83.0" textLength="28.4" lengthAdjust="spacingAndGlyphs">(</tspan><tspan x="71.8" y="0.0" font-size="83.0" class="it" textLength="53.8" lengthAdjust="spacingAndGlyphs">E</tspan><tspan x="123.1" y="0.0" font-size="83.0" textLength="28.3" lengthAdjust="spacingAndGlyphs">)</tspan><tspan x="153.0" y="0.0" font-size="83.0" textLength="22.0" lengthAdjust="spacingAndGlyphs">,</tspan><tspan> </tspan><tspan x="193.2" y="0.0" font-size="83.0" textLength="39.1" lengthAdjust="spacingAndGlyphs">e</tspan><tspan x="234.1" y="0.0" font-size="83.0" textLength="54.0" lengthAdjust="spacingAndGlyphs">V</tspan><tspan x="288.7" y="-39.4" font-size="48.0" textLength="31.6" lengthAdjust="spacingAndGlyphs">−</tspan><tspan x="318.0" y="-42.7" font-size="48.0" textLength="24.0" lengthAdjust="spacingAndGlyphs">1</tspan><tspan x="345.2" y="0.0" font-size="83.0" textLength="35.7" lengthAdjust="spacingAndGlyphs">c</tspan><tspan x="380.9" y="0.0" font-size="83.0" textLength="65.3" lengthAdjust="spacingAndGlyphs">m</tspan><tspan x="445.5" y="-39.4" font-size="48.0" textLength="31.6" lengthAdjust="spacingAndGlyphs">−</tspan><tspan x="475.1" y="-42.7" font-size="48.0" textLength="22.3" lengthAdjust="spacingAndGlyphs">3</tspan></text>
<text class="serif"><tspan x="1307.3" y="190.4" font-size="82.0" textLength="49.9" lengthAdjust="spacingAndGlyphs">g</tspan><tspan x="1354.8" y="190.4" font-size="82.0" textLength="28.6" lengthAdjust="spacingAndGlyphs">(</tspan><tspan x="1387.7" y="190.4" font-size="82.0" class="it" textLength="47.7" lengthAdjust="spacingAndGlyphs">E</tspan><tspan x="1432.3" y="190.4" font-size="82.0" textLength="30.0" lengthAdjust="spacingAndGlyphs">)</tspan></text>
<text class="serif"><tspan x="410.6" y="896.8" font-size="85.0" class="it" textLength="45.3" lengthAdjust="spacingAndGlyphs">η</tspan><tspan x="450.1" y="896.8" font-size="85.0" textLength="50.9" lengthAdjust="spacingAndGlyphs">=</tspan><tspan x="500.2" y="896.8" font-size="85.0" textLength="41.3" lengthAdjust="spacingAndGlyphs">0</tspan></text>
<text class="serif"><tspan x="472.5" y="805.8" font-size="85.0" class="it" textLength="45.3" lengthAdjust="spacingAndGlyphs">η</tspan><tspan x="512.0" y="805.8" font-size="85.0" textLength="51.7" lengthAdjust="spacingAndGlyphs">=</tspan><tspan x="560.6" y="805.8" font-size="85.0" textLength="37.5" lengthAdjust="spacingAndGlyphs">5</tspan></text>
<text class="serif"><tspan x="853.4" y="709.5" font-size="85.0" class="it" textLength="47.8" lengthAdjust="spacingAndGlyphs">η</tspan><tspan x="895.8" y="709.5" font-size="85.0" textLength="50.8" lengthAdjust="spacingAndGlyphs">=</tspan><tspan x="945.7" y="709.5" font-size="85.0" textLength="38.2" lengthAdjust="spacingAndGlyphs">1</tspan><tspan x="986.4" y="709.5" font-size="85.0" textLength="41.7" lengthAdjust="spacingAndGlyphs">0</tspan></text>
<text class="serif"><tspan x="1160.4" y="554.0" font-size="85.0" class="it" textLength="48.7" lengthAdjust="spacingAndGlyphs">η</tspan><tspan x="1200.6" y="554.0" font-size="85.0" textLength="52.3" lengthAdjust="spacingAndGlyphs">=</tspan><tspan x="1252.5" y="554.0" font-size="85.0" textLength="36.1" lengthAdjust="spacingAndGlyphs">1</tspan><tspan x="1291.9" y="554.0" font-size="85.0" textLength="38.5" lengthAdjust="spacingAndGlyphs">5</tspan></text>
</g>
<g>
<line x1="423.2" y1="905.7" x2="412.4" y2="935.8" stroke="#000" stroke-width="1.5"/><polygon points="405.2,956.0 407.5,931.9 418.8,935.9" fill="#000"/>
<line x1="447.5" y1="900.4" x2="439.9" y2="926.8" stroke="#000" stroke-width="1.5"/><polygon points="434.0,947.5 434.7,923.3 446.2,926.6" fill="#000"/>
<line x1="597.3" y1="777.0" x2="661.1" y2="747.1" stroke="#000" stroke-width="1.5"/><polygon points="680.6,738.0 661.9,753.4 656.8,742.5" fill="#000"/>
<line x1="542.4" y1="805.5" x2="640.3" y2="867.8" stroke="#000" stroke-width="1.5"/><polygon points="658.4,879.3 635.4,871.7 641.8,861.6" fill="#000"/>
<line x1="933.4" y1="664.1" x2="985.5" y2="599.8" stroke="#000" stroke-width="1.5"/><polygon points="999.0,583.1 988.9,605.1 979.5,597.6" fill="#000"/>
<line x1="943.8" y1="711.3" x2="990.6" y2="803.5" stroke="#000" stroke-width="1.5"/><polygon points="1000.3,822.7 984.3,804.5 995.0,799.0" fill="#000"/>
<line x1="1240.3" y1="506.9" x2="1303.0" y2="464.5" stroke="#000" stroke-width="1.5"/><polygon points="1320.8,452.4 1304.7,470.5 1298.0,460.6" fill="#000"/>
<line x1="1262.5" y1="558.0" x2="1329.2" y2="760.2" stroke="#000" stroke-width="1.5"/><polygon points="1335.9,780.6 1322.8,760.2 1334.2,756.4" fill="#000"/>
</g>
</svg></body></html>
